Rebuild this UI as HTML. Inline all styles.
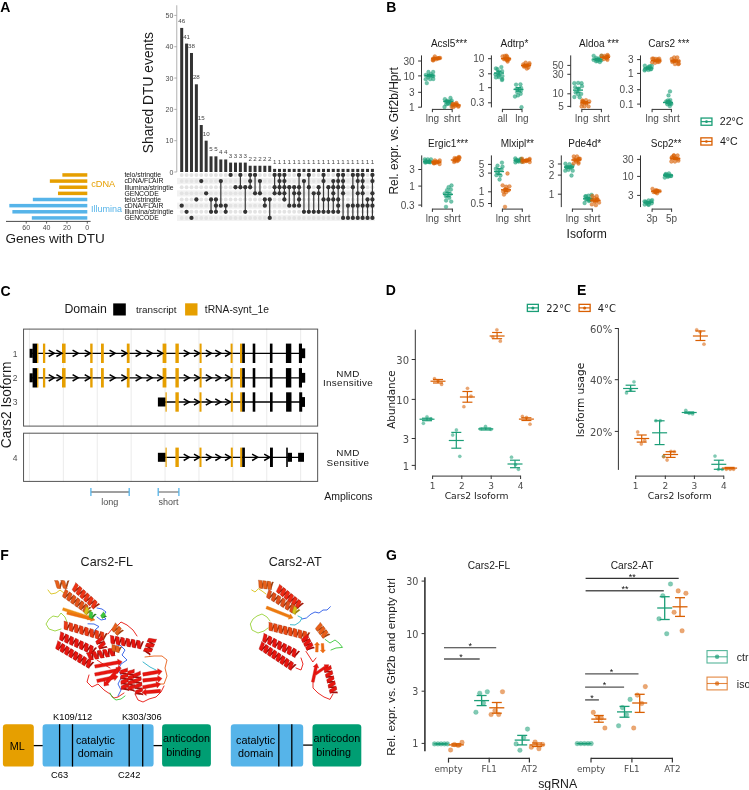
<!DOCTYPE html>
<html><head><meta charset="utf-8"><title>Figure</title>
<style>
html,body{margin:0;padding:0;background:#fff;}
body{width:749px;height:790px;overflow:hidden;}
svg{display:block;font-family:'Liberation Sans',Arial,sans-serif;}
</style></head><body>
<svg width="749" height="790" viewBox="0 0 749 790">
<rect width="749" height="790" fill="#fff"/>
<text x="0.3" y="11.8" text-anchor="start" fill="#000" style="font-size:14px;font-family:'Liberation Sans', Arial, sans-serif;font-weight:bold;">A</text>
<rect x="177" y="178.02" width="198" height="6.14" fill="#f2f2f2"/>
<rect x="177" y="190.3" width="198" height="6.14" fill="#f2f2f2"/>
<rect x="177" y="202.58" width="198" height="6.14" fill="#f2f2f2"/>
<rect x="177" y="214.86" width="198" height="6.14" fill="#f2f2f2"/>
<line x1="176.7" y1="5.2" x2="176.7" y2="172" stroke="#c4c4c4" stroke-width="1.3"/>
<line x1="174.3" y1="172" x2="176.7" y2="172" stroke="#9a9a9a" stroke-width="0.8"/>
<text x="173.4" y="174.5" text-anchor="end" fill="#4d4d4d" style="font-size:7px;font-family:'Liberation Sans', Arial, sans-serif;">0</text>
<line x1="174.3" y1="140.68" x2="176.7" y2="140.68" stroke="#9a9a9a" stroke-width="0.8"/>
<text x="173.4" y="143.18" text-anchor="end" fill="#4d4d4d" style="font-size:7px;font-family:'Liberation Sans', Arial, sans-serif;">10</text>
<line x1="174.3" y1="109.36" x2="176.7" y2="109.36" stroke="#9a9a9a" stroke-width="0.8"/>
<text x="173.4" y="111.86" text-anchor="end" fill="#4d4d4d" style="font-size:7px;font-family:'Liberation Sans', Arial, sans-serif;">20</text>
<line x1="174.3" y1="78.04" x2="176.7" y2="78.04" stroke="#9a9a9a" stroke-width="0.8"/>
<text x="173.4" y="80.54" text-anchor="end" fill="#4d4d4d" style="font-size:7px;font-family:'Liberation Sans', Arial, sans-serif;">30</text>
<line x1="174.3" y1="46.72" x2="176.7" y2="46.72" stroke="#9a9a9a" stroke-width="0.8"/>
<text x="173.4" y="49.22" text-anchor="end" fill="#4d4d4d" style="font-size:7px;font-family:'Liberation Sans', Arial, sans-serif;">40</text>
<line x1="174.3" y1="15.4" x2="176.7" y2="15.4" stroke="#9a9a9a" stroke-width="0.8"/>
<text x="173.4" y="17.9" text-anchor="end" fill="#4d4d4d" style="font-size:7px;font-family:'Liberation Sans', Arial, sans-serif;">50</text>
<rect x="180.2" y="27.93" width="3" height="144.07" fill="#333333"/>
<text x="181.7" y="22.93" text-anchor="middle" fill="#444" style="font-size:6.2px;font-family:'Liberation Sans', Arial, sans-serif;">46</text>
<rect x="185.09" y="43.59" width="3" height="128.41" fill="#333333"/>
<text x="186.59" y="38.59" text-anchor="middle" fill="#444" style="font-size:6.2px;font-family:'Liberation Sans', Arial, sans-serif;">41</text>
<rect x="189.98" y="52.98" width="3" height="119.02" fill="#333333"/>
<text x="191.48" y="47.98" text-anchor="middle" fill="#444" style="font-size:6.2px;font-family:'Liberation Sans', Arial, sans-serif;">38</text>
<rect x="194.87" y="84.3" width="3" height="87.7" fill="#333333"/>
<text x="196.37" y="79.3" text-anchor="middle" fill="#444" style="font-size:6.2px;font-family:'Liberation Sans', Arial, sans-serif;">28</text>
<rect x="199.76" y="125.02" width="3" height="46.98" fill="#333333"/>
<text x="201.26" y="120.02" text-anchor="middle" fill="#444" style="font-size:6.2px;font-family:'Liberation Sans', Arial, sans-serif;">15</text>
<rect x="204.65" y="140.68" width="3" height="31.32" fill="#333333"/>
<text x="206.15" y="135.68" text-anchor="middle" fill="#444" style="font-size:6.2px;font-family:'Liberation Sans', Arial, sans-serif;">10</text>
<rect x="209.54" y="156.34" width="3" height="15.66" fill="#333333"/>
<text x="211.04" y="151.34" text-anchor="middle" fill="#444" style="font-size:6.2px;font-family:'Liberation Sans', Arial, sans-serif;">5</text>
<rect x="214.43" y="156.34" width="3" height="15.66" fill="#333333"/>
<text x="215.93" y="151.34" text-anchor="middle" fill="#444" style="font-size:6.2px;font-family:'Liberation Sans', Arial, sans-serif;">5</text>
<rect x="219.32" y="159.47" width="3" height="12.53" fill="#333333"/>
<text x="220.82" y="154.47" text-anchor="middle" fill="#444" style="font-size:6.2px;font-family:'Liberation Sans', Arial, sans-serif;">4</text>
<rect x="224.21" y="159.47" width="3" height="12.53" fill="#333333"/>
<text x="225.71" y="154.47" text-anchor="middle" fill="#444" style="font-size:6.2px;font-family:'Liberation Sans', Arial, sans-serif;">4</text>
<rect x="229.1" y="162.6" width="3" height="9.4" fill="#333333"/>
<text x="230.6" y="157.6" text-anchor="middle" fill="#444" style="font-size:6.2px;font-family:'Liberation Sans', Arial, sans-serif;">3</text>
<rect x="233.99" y="162.6" width="3" height="9.4" fill="#333333"/>
<text x="235.49" y="157.6" text-anchor="middle" fill="#444" style="font-size:6.2px;font-family:'Liberation Sans', Arial, sans-serif;">3</text>
<rect x="238.88" y="162.6" width="3" height="9.4" fill="#333333"/>
<text x="240.38" y="157.6" text-anchor="middle" fill="#444" style="font-size:6.2px;font-family:'Liberation Sans', Arial, sans-serif;">3</text>
<rect x="243.77" y="162.6" width="3" height="9.4" fill="#333333"/>
<text x="245.27" y="157.6" text-anchor="middle" fill="#444" style="font-size:6.2px;font-family:'Liberation Sans', Arial, sans-serif;">3</text>
<rect x="248.66" y="165.74" width="3" height="6.26" fill="#333333"/>
<text x="250.16" y="160.74" text-anchor="middle" fill="#444" style="font-size:6.2px;font-family:'Liberation Sans', Arial, sans-serif;">2</text>
<rect x="253.55" y="165.74" width="3" height="6.26" fill="#333333"/>
<text x="255.05" y="160.74" text-anchor="middle" fill="#444" style="font-size:6.2px;font-family:'Liberation Sans', Arial, sans-serif;">2</text>
<rect x="258.44" y="165.74" width="3" height="6.26" fill="#333333"/>
<text x="259.94" y="160.74" text-anchor="middle" fill="#444" style="font-size:6.2px;font-family:'Liberation Sans', Arial, sans-serif;">2</text>
<rect x="263.33" y="165.74" width="3" height="6.26" fill="#333333"/>
<text x="264.83" y="160.74" text-anchor="middle" fill="#444" style="font-size:6.2px;font-family:'Liberation Sans', Arial, sans-serif;">2</text>
<rect x="268.22" y="165.74" width="3" height="6.26" fill="#333333"/>
<text x="269.72" y="160.74" text-anchor="middle" fill="#444" style="font-size:6.2px;font-family:'Liberation Sans', Arial, sans-serif;">2</text>
<rect x="273.11" y="168.87" width="3" height="3.13" fill="#333333"/>
<text x="274.61" y="163.87" text-anchor="middle" fill="#444" style="font-size:6.2px;font-family:'Liberation Sans', Arial, sans-serif;">1</text>
<rect x="278" y="168.87" width="3" height="3.13" fill="#333333"/>
<text x="279.5" y="163.87" text-anchor="middle" fill="#444" style="font-size:6.2px;font-family:'Liberation Sans', Arial, sans-serif;">1</text>
<rect x="282.89" y="168.87" width="3" height="3.13" fill="#333333"/>
<text x="284.39" y="163.87" text-anchor="middle" fill="#444" style="font-size:6.2px;font-family:'Liberation Sans', Arial, sans-serif;">1</text>
<rect x="287.78" y="168.87" width="3" height="3.13" fill="#333333"/>
<text x="289.28" y="163.87" text-anchor="middle" fill="#444" style="font-size:6.2px;font-family:'Liberation Sans', Arial, sans-serif;">1</text>
<rect x="292.67" y="168.87" width="3" height="3.13" fill="#333333"/>
<text x="294.17" y="163.87" text-anchor="middle" fill="#444" style="font-size:6.2px;font-family:'Liberation Sans', Arial, sans-serif;">1</text>
<rect x="297.56" y="168.87" width="3" height="3.13" fill="#333333"/>
<text x="299.06" y="163.87" text-anchor="middle" fill="#444" style="font-size:6.2px;font-family:'Liberation Sans', Arial, sans-serif;">1</text>
<rect x="302.45" y="168.87" width="3" height="3.13" fill="#333333"/>
<text x="303.95" y="163.87" text-anchor="middle" fill="#444" style="font-size:6.2px;font-family:'Liberation Sans', Arial, sans-serif;">1</text>
<rect x="307.34" y="168.87" width="3" height="3.13" fill="#333333"/>
<text x="308.84" y="163.87" text-anchor="middle" fill="#444" style="font-size:6.2px;font-family:'Liberation Sans', Arial, sans-serif;">1</text>
<rect x="312.23" y="168.87" width="3" height="3.13" fill="#333333"/>
<text x="313.73" y="163.87" text-anchor="middle" fill="#444" style="font-size:6.2px;font-family:'Liberation Sans', Arial, sans-serif;">1</text>
<rect x="317.12" y="168.87" width="3" height="3.13" fill="#333333"/>
<text x="318.62" y="163.87" text-anchor="middle" fill="#444" style="font-size:6.2px;font-family:'Liberation Sans', Arial, sans-serif;">1</text>
<rect x="322.01" y="168.87" width="3" height="3.13" fill="#333333"/>
<text x="323.51" y="163.87" text-anchor="middle" fill="#444" style="font-size:6.2px;font-family:'Liberation Sans', Arial, sans-serif;">1</text>
<rect x="326.9" y="168.87" width="3" height="3.13" fill="#333333"/>
<text x="328.4" y="163.87" text-anchor="middle" fill="#444" style="font-size:6.2px;font-family:'Liberation Sans', Arial, sans-serif;">1</text>
<rect x="331.79" y="168.87" width="3" height="3.13" fill="#333333"/>
<text x="333.29" y="163.87" text-anchor="middle" fill="#444" style="font-size:6.2px;font-family:'Liberation Sans', Arial, sans-serif;">1</text>
<rect x="336.68" y="168.87" width="3" height="3.13" fill="#333333"/>
<text x="338.18" y="163.87" text-anchor="middle" fill="#444" style="font-size:6.2px;font-family:'Liberation Sans', Arial, sans-serif;">1</text>
<rect x="341.57" y="168.87" width="3" height="3.13" fill="#333333"/>
<text x="343.07" y="163.87" text-anchor="middle" fill="#444" style="font-size:6.2px;font-family:'Liberation Sans', Arial, sans-serif;">1</text>
<rect x="346.46" y="168.87" width="3" height="3.13" fill="#333333"/>
<text x="347.96" y="163.87" text-anchor="middle" fill="#444" style="font-size:6.2px;font-family:'Liberation Sans', Arial, sans-serif;">1</text>
<rect x="351.35" y="168.87" width="3" height="3.13" fill="#333333"/>
<text x="352.85" y="163.87" text-anchor="middle" fill="#444" style="font-size:6.2px;font-family:'Liberation Sans', Arial, sans-serif;">1</text>
<rect x="356.24" y="168.87" width="3" height="3.13" fill="#333333"/>
<text x="357.74" y="163.87" text-anchor="middle" fill="#444" style="font-size:6.2px;font-family:'Liberation Sans', Arial, sans-serif;">1</text>
<rect x="361.13" y="168.87" width="3" height="3.13" fill="#333333"/>
<text x="362.63" y="163.87" text-anchor="middle" fill="#444" style="font-size:6.2px;font-family:'Liberation Sans', Arial, sans-serif;">1</text>
<rect x="366.02" y="168.87" width="3" height="3.13" fill="#333333"/>
<text x="367.52" y="163.87" text-anchor="middle" fill="#444" style="font-size:6.2px;font-family:'Liberation Sans', Arial, sans-serif;">1</text>
<rect x="370.91" y="168.87" width="3" height="3.13" fill="#333333"/>
<text x="372.41" y="163.87" text-anchor="middle" fill="#444" style="font-size:6.2px;font-family:'Liberation Sans', Arial, sans-serif;">1</text>
<circle cx="181.7" cy="174.95" r="1.95" fill="#e3e3e3"/>
<circle cx="181.7" cy="181.09" r="1.95" fill="#e3e3e3"/>
<circle cx="181.7" cy="187.23" r="1.95" fill="#e3e3e3"/>
<circle cx="181.7" cy="193.37" r="1.95" fill="#e3e3e3"/>
<circle cx="181.7" cy="199.51" r="1.95" fill="#e3e3e3"/>
<circle cx="181.7" cy="211.79" r="1.95" fill="#e3e3e3"/>
<circle cx="181.7" cy="217.93" r="1.95" fill="#e3e3e3"/>
<circle cx="186.59" cy="174.95" r="1.95" fill="#e3e3e3"/>
<circle cx="186.59" cy="181.09" r="1.95" fill="#e3e3e3"/>
<circle cx="186.59" cy="187.23" r="1.95" fill="#e3e3e3"/>
<circle cx="186.59" cy="193.37" r="1.95" fill="#e3e3e3"/>
<circle cx="186.59" cy="199.51" r="1.95" fill="#e3e3e3"/>
<circle cx="186.59" cy="205.65" r="1.95" fill="#e3e3e3"/>
<circle cx="186.59" cy="217.93" r="1.95" fill="#e3e3e3"/>
<circle cx="191.48" cy="174.95" r="1.95" fill="#e3e3e3"/>
<circle cx="191.48" cy="181.09" r="1.95" fill="#e3e3e3"/>
<circle cx="191.48" cy="187.23" r="1.95" fill="#e3e3e3"/>
<circle cx="191.48" cy="193.37" r="1.95" fill="#e3e3e3"/>
<circle cx="191.48" cy="199.51" r="1.95" fill="#e3e3e3"/>
<circle cx="191.48" cy="205.65" r="1.95" fill="#e3e3e3"/>
<circle cx="191.48" cy="211.79" r="1.95" fill="#e3e3e3"/>
<circle cx="196.37" cy="174.95" r="1.95" fill="#e3e3e3"/>
<circle cx="196.37" cy="181.09" r="1.95" fill="#e3e3e3"/>
<circle cx="196.37" cy="187.23" r="1.95" fill="#e3e3e3"/>
<circle cx="196.37" cy="193.37" r="1.95" fill="#e3e3e3"/>
<circle cx="196.37" cy="205.65" r="1.95" fill="#e3e3e3"/>
<circle cx="196.37" cy="211.79" r="1.95" fill="#e3e3e3"/>
<circle cx="196.37" cy="217.93" r="1.95" fill="#e3e3e3"/>
<circle cx="201.26" cy="174.95" r="1.95" fill="#e3e3e3"/>
<circle cx="201.26" cy="187.23" r="1.95" fill="#e3e3e3"/>
<circle cx="201.26" cy="193.37" r="1.95" fill="#e3e3e3"/>
<circle cx="201.26" cy="199.51" r="1.95" fill="#e3e3e3"/>
<circle cx="201.26" cy="205.65" r="1.95" fill="#e3e3e3"/>
<circle cx="201.26" cy="211.79" r="1.95" fill="#e3e3e3"/>
<circle cx="201.26" cy="217.93" r="1.95" fill="#e3e3e3"/>
<circle cx="206.15" cy="174.95" r="1.95" fill="#e3e3e3"/>
<circle cx="206.15" cy="181.09" r="1.95" fill="#e3e3e3"/>
<circle cx="206.15" cy="187.23" r="1.95" fill="#e3e3e3"/>
<circle cx="206.15" cy="199.51" r="1.95" fill="#e3e3e3"/>
<circle cx="206.15" cy="205.65" r="1.95" fill="#e3e3e3"/>
<circle cx="206.15" cy="211.79" r="1.95" fill="#e3e3e3"/>
<circle cx="206.15" cy="217.93" r="1.95" fill="#e3e3e3"/>
<circle cx="211.04" cy="174.95" r="1.95" fill="#e3e3e3"/>
<circle cx="211.04" cy="181.09" r="1.95" fill="#e3e3e3"/>
<circle cx="211.04" cy="187.23" r="1.95" fill="#e3e3e3"/>
<circle cx="211.04" cy="193.37" r="1.95" fill="#e3e3e3"/>
<circle cx="211.04" cy="205.65" r="1.95" fill="#e3e3e3"/>
<circle cx="211.04" cy="217.93" r="1.95" fill="#e3e3e3"/>
<circle cx="215.93" cy="174.95" r="1.95" fill="#e3e3e3"/>
<circle cx="215.93" cy="181.09" r="1.95" fill="#e3e3e3"/>
<circle cx="215.93" cy="187.23" r="1.95" fill="#e3e3e3"/>
<circle cx="215.93" cy="193.37" r="1.95" fill="#e3e3e3"/>
<circle cx="215.93" cy="217.93" r="1.95" fill="#e3e3e3"/>
<circle cx="220.82" cy="174.95" r="1.95" fill="#e3e3e3"/>
<circle cx="220.82" cy="187.23" r="1.95" fill="#e3e3e3"/>
<circle cx="220.82" cy="193.37" r="1.95" fill="#e3e3e3"/>
<circle cx="220.82" cy="199.51" r="1.95" fill="#e3e3e3"/>
<circle cx="220.82" cy="211.79" r="1.95" fill="#e3e3e3"/>
<circle cx="220.82" cy="217.93" r="1.95" fill="#e3e3e3"/>
<circle cx="225.71" cy="174.95" r="1.95" fill="#e3e3e3"/>
<circle cx="225.71" cy="181.09" r="1.95" fill="#e3e3e3"/>
<circle cx="225.71" cy="187.23" r="1.95" fill="#e3e3e3"/>
<circle cx="225.71" cy="193.37" r="1.95" fill="#e3e3e3"/>
<circle cx="225.71" cy="199.51" r="1.95" fill="#e3e3e3"/>
<circle cx="225.71" cy="217.93" r="1.95" fill="#e3e3e3"/>
<circle cx="230.6" cy="181.09" r="1.95" fill="#e3e3e3"/>
<circle cx="230.6" cy="187.23" r="1.95" fill="#e3e3e3"/>
<circle cx="230.6" cy="193.37" r="1.95" fill="#e3e3e3"/>
<circle cx="230.6" cy="199.51" r="1.95" fill="#e3e3e3"/>
<circle cx="230.6" cy="205.65" r="1.95" fill="#e3e3e3"/>
<circle cx="230.6" cy="211.79" r="1.95" fill="#e3e3e3"/>
<circle cx="230.6" cy="217.93" r="1.95" fill="#e3e3e3"/>
<circle cx="235.49" cy="174.95" r="1.95" fill="#e3e3e3"/>
<circle cx="235.49" cy="181.09" r="1.95" fill="#e3e3e3"/>
<circle cx="235.49" cy="193.37" r="1.95" fill="#e3e3e3"/>
<circle cx="235.49" cy="199.51" r="1.95" fill="#e3e3e3"/>
<circle cx="235.49" cy="205.65" r="1.95" fill="#e3e3e3"/>
<circle cx="235.49" cy="211.79" r="1.95" fill="#e3e3e3"/>
<circle cx="235.49" cy="217.93" r="1.95" fill="#e3e3e3"/>
<circle cx="240.38" cy="181.09" r="1.95" fill="#e3e3e3"/>
<circle cx="240.38" cy="193.37" r="1.95" fill="#e3e3e3"/>
<circle cx="240.38" cy="199.51" r="1.95" fill="#e3e3e3"/>
<circle cx="240.38" cy="205.65" r="1.95" fill="#e3e3e3"/>
<circle cx="240.38" cy="211.79" r="1.95" fill="#e3e3e3"/>
<circle cx="240.38" cy="217.93" r="1.95" fill="#e3e3e3"/>
<circle cx="245.27" cy="174.95" r="1.95" fill="#e3e3e3"/>
<circle cx="245.27" cy="181.09" r="1.95" fill="#e3e3e3"/>
<circle cx="245.27" cy="193.37" r="1.95" fill="#e3e3e3"/>
<circle cx="245.27" cy="199.51" r="1.95" fill="#e3e3e3"/>
<circle cx="245.27" cy="205.65" r="1.95" fill="#e3e3e3"/>
<circle cx="245.27" cy="217.93" r="1.95" fill="#e3e3e3"/>
<circle cx="250.16" cy="193.37" r="1.95" fill="#e3e3e3"/>
<circle cx="250.16" cy="199.51" r="1.95" fill="#e3e3e3"/>
<circle cx="250.16" cy="205.65" r="1.95" fill="#e3e3e3"/>
<circle cx="250.16" cy="211.79" r="1.95" fill="#e3e3e3"/>
<circle cx="250.16" cy="217.93" r="1.95" fill="#e3e3e3"/>
<circle cx="255.05" cy="181.09" r="1.95" fill="#e3e3e3"/>
<circle cx="255.05" cy="187.23" r="1.95" fill="#e3e3e3"/>
<circle cx="255.05" cy="199.51" r="1.95" fill="#e3e3e3"/>
<circle cx="255.05" cy="205.65" r="1.95" fill="#e3e3e3"/>
<circle cx="255.05" cy="211.79" r="1.95" fill="#e3e3e3"/>
<circle cx="255.05" cy="217.93" r="1.95" fill="#e3e3e3"/>
<circle cx="259.94" cy="174.95" r="1.95" fill="#e3e3e3"/>
<circle cx="259.94" cy="187.23" r="1.95" fill="#e3e3e3"/>
<circle cx="259.94" cy="199.51" r="1.95" fill="#e3e3e3"/>
<circle cx="259.94" cy="205.65" r="1.95" fill="#e3e3e3"/>
<circle cx="259.94" cy="211.79" r="1.95" fill="#e3e3e3"/>
<circle cx="259.94" cy="217.93" r="1.95" fill="#e3e3e3"/>
<circle cx="264.83" cy="174.95" r="1.95" fill="#e3e3e3"/>
<circle cx="264.83" cy="181.09" r="1.95" fill="#e3e3e3"/>
<circle cx="264.83" cy="187.23" r="1.95" fill="#e3e3e3"/>
<circle cx="264.83" cy="193.37" r="1.95" fill="#e3e3e3"/>
<circle cx="264.83" cy="211.79" r="1.95" fill="#e3e3e3"/>
<circle cx="264.83" cy="217.93" r="1.95" fill="#e3e3e3"/>
<circle cx="269.72" cy="174.95" r="1.95" fill="#e3e3e3"/>
<circle cx="269.72" cy="181.09" r="1.95" fill="#e3e3e3"/>
<circle cx="269.72" cy="187.23" r="1.95" fill="#e3e3e3"/>
<circle cx="269.72" cy="193.37" r="1.95" fill="#e3e3e3"/>
<circle cx="269.72" cy="205.65" r="1.95" fill="#e3e3e3"/>
<circle cx="269.72" cy="211.79" r="1.95" fill="#e3e3e3"/>
<circle cx="274.61" cy="181.09" r="1.95" fill="#e3e3e3"/>
<circle cx="274.61" cy="199.51" r="1.95" fill="#e3e3e3"/>
<circle cx="274.61" cy="205.65" r="1.95" fill="#e3e3e3"/>
<circle cx="274.61" cy="211.79" r="1.95" fill="#e3e3e3"/>
<circle cx="274.61" cy="217.93" r="1.95" fill="#e3e3e3"/>
<circle cx="279.5" cy="199.51" r="1.95" fill="#e3e3e3"/>
<circle cx="279.5" cy="205.65" r="1.95" fill="#e3e3e3"/>
<circle cx="279.5" cy="211.79" r="1.95" fill="#e3e3e3"/>
<circle cx="279.5" cy="217.93" r="1.95" fill="#e3e3e3"/>
<circle cx="284.39" cy="205.65" r="1.95" fill="#e3e3e3"/>
<circle cx="284.39" cy="211.79" r="1.95" fill="#e3e3e3"/>
<circle cx="284.39" cy="217.93" r="1.95" fill="#e3e3e3"/>
<circle cx="289.28" cy="174.95" r="1.95" fill="#e3e3e3"/>
<circle cx="289.28" cy="181.09" r="1.95" fill="#e3e3e3"/>
<circle cx="289.28" cy="193.37" r="1.95" fill="#e3e3e3"/>
<circle cx="289.28" cy="199.51" r="1.95" fill="#e3e3e3"/>
<circle cx="289.28" cy="211.79" r="1.95" fill="#e3e3e3"/>
<circle cx="289.28" cy="217.93" r="1.95" fill="#e3e3e3"/>
<circle cx="294.17" cy="174.95" r="1.95" fill="#e3e3e3"/>
<circle cx="294.17" cy="181.09" r="1.95" fill="#e3e3e3"/>
<circle cx="294.17" cy="199.51" r="1.95" fill="#e3e3e3"/>
<circle cx="294.17" cy="211.79" r="1.95" fill="#e3e3e3"/>
<circle cx="294.17" cy="217.93" r="1.95" fill="#e3e3e3"/>
<circle cx="299.06" cy="181.09" r="1.95" fill="#e3e3e3"/>
<circle cx="299.06" cy="211.79" r="1.95" fill="#e3e3e3"/>
<circle cx="299.06" cy="217.93" r="1.95" fill="#e3e3e3"/>
<circle cx="303.95" cy="174.95" r="1.95" fill="#e3e3e3"/>
<circle cx="303.95" cy="187.23" r="1.95" fill="#e3e3e3"/>
<circle cx="303.95" cy="193.37" r="1.95" fill="#e3e3e3"/>
<circle cx="303.95" cy="199.51" r="1.95" fill="#e3e3e3"/>
<circle cx="303.95" cy="205.65" r="1.95" fill="#e3e3e3"/>
<circle cx="303.95" cy="217.93" r="1.95" fill="#e3e3e3"/>
<circle cx="308.84" cy="181.09" r="1.95" fill="#e3e3e3"/>
<circle cx="308.84" cy="193.37" r="1.95" fill="#e3e3e3"/>
<circle cx="308.84" cy="199.51" r="1.95" fill="#e3e3e3"/>
<circle cx="308.84" cy="205.65" r="1.95" fill="#e3e3e3"/>
<circle cx="308.84" cy="217.93" r="1.95" fill="#e3e3e3"/>
<circle cx="313.73" cy="174.95" r="1.95" fill="#e3e3e3"/>
<circle cx="313.73" cy="181.09" r="1.95" fill="#e3e3e3"/>
<circle cx="313.73" cy="187.23" r="1.95" fill="#e3e3e3"/>
<circle cx="313.73" cy="199.51" r="1.95" fill="#e3e3e3"/>
<circle cx="313.73" cy="205.65" r="1.95" fill="#e3e3e3"/>
<circle cx="313.73" cy="217.93" r="1.95" fill="#e3e3e3"/>
<circle cx="318.62" cy="174.95" r="1.95" fill="#e3e3e3"/>
<circle cx="318.62" cy="181.09" r="1.95" fill="#e3e3e3"/>
<circle cx="318.62" cy="199.51" r="1.95" fill="#e3e3e3"/>
<circle cx="318.62" cy="205.65" r="1.95" fill="#e3e3e3"/>
<circle cx="318.62" cy="217.93" r="1.95" fill="#e3e3e3"/>
<circle cx="323.51" cy="187.23" r="1.95" fill="#e3e3e3"/>
<circle cx="323.51" cy="193.37" r="1.95" fill="#e3e3e3"/>
<circle cx="323.51" cy="205.65" r="1.95" fill="#e3e3e3"/>
<circle cx="323.51" cy="217.93" r="1.95" fill="#e3e3e3"/>
<circle cx="328.4" cy="174.95" r="1.95" fill="#e3e3e3"/>
<circle cx="328.4" cy="181.09" r="1.95" fill="#e3e3e3"/>
<circle cx="328.4" cy="193.37" r="1.95" fill="#e3e3e3"/>
<circle cx="328.4" cy="205.65" r="1.95" fill="#e3e3e3"/>
<circle cx="328.4" cy="217.93" r="1.95" fill="#e3e3e3"/>
<circle cx="333.29" cy="174.95" r="1.95" fill="#e3e3e3"/>
<circle cx="333.29" cy="205.65" r="1.95" fill="#e3e3e3"/>
<circle cx="333.29" cy="217.93" r="1.95" fill="#e3e3e3"/>
<circle cx="338.18" cy="193.37" r="1.95" fill="#e3e3e3"/>
<circle cx="338.18" cy="217.93" r="1.95" fill="#e3e3e3"/>
<circle cx="343.07" cy="199.51" r="1.95" fill="#e3e3e3"/>
<circle cx="343.07" cy="205.65" r="1.95" fill="#e3e3e3"/>
<circle cx="343.07" cy="211.79" r="1.95" fill="#e3e3e3"/>
<circle cx="347.96" cy="174.95" r="1.95" fill="#e3e3e3"/>
<circle cx="347.96" cy="181.09" r="1.95" fill="#e3e3e3"/>
<circle cx="347.96" cy="187.23" r="1.95" fill="#e3e3e3"/>
<circle cx="347.96" cy="193.37" r="1.95" fill="#e3e3e3"/>
<circle cx="347.96" cy="199.51" r="1.95" fill="#e3e3e3"/>
<circle cx="347.96" cy="211.79" r="1.95" fill="#e3e3e3"/>
<circle cx="352.85" cy="181.09" r="1.95" fill="#e3e3e3"/>
<circle cx="352.85" cy="193.37" r="1.95" fill="#e3e3e3"/>
<circle cx="352.85" cy="199.51" r="1.95" fill="#e3e3e3"/>
<circle cx="352.85" cy="211.79" r="1.95" fill="#e3e3e3"/>
<circle cx="357.74" cy="187.23" r="1.95" fill="#e3e3e3"/>
<circle cx="357.74" cy="199.51" r="1.95" fill="#e3e3e3"/>
<circle cx="357.74" cy="211.79" r="1.95" fill="#e3e3e3"/>
<circle cx="362.63" cy="199.51" r="1.95" fill="#e3e3e3"/>
<circle cx="362.63" cy="211.79" r="1.95" fill="#e3e3e3"/>
<circle cx="367.52" cy="174.95" r="1.95" fill="#e3e3e3"/>
<circle cx="367.52" cy="181.09" r="1.95" fill="#e3e3e3"/>
<circle cx="367.52" cy="187.23" r="1.95" fill="#e3e3e3"/>
<circle cx="367.52" cy="193.37" r="1.95" fill="#e3e3e3"/>
<circle cx="367.52" cy="211.79" r="1.95" fill="#e3e3e3"/>
<circle cx="372.41" cy="187.23" r="1.95" fill="#e3e3e3"/>
<circle cx="372.41" cy="211.79" r="1.95" fill="#e3e3e3"/>
<circle cx="181.7" cy="205.65" r="2.15" fill="#333333"/>
<circle cx="186.59" cy="211.79" r="2.15" fill="#333333"/>
<circle cx="191.48" cy="217.93" r="2.15" fill="#333333"/>
<circle cx="196.37" cy="199.51" r="2.15" fill="#333333"/>
<circle cx="201.26" cy="181.09" r="2.15" fill="#333333"/>
<circle cx="206.15" cy="193.37" r="2.15" fill="#333333"/>
<line x1="211.04" y1="199.51" x2="211.04" y2="211.79" stroke="#3a3a3a" stroke-width="1.2"/>
<circle cx="211.04" cy="199.51" r="2.15" fill="#333333"/>
<circle cx="211.04" cy="211.79" r="2.15" fill="#333333"/>
<line x1="215.93" y1="199.51" x2="215.93" y2="211.79" stroke="#3a3a3a" stroke-width="1.2"/>
<circle cx="215.93" cy="199.51" r="2.15" fill="#333333"/>
<circle cx="215.93" cy="205.65" r="2.15" fill="#333333"/>
<circle cx="215.93" cy="211.79" r="2.15" fill="#333333"/>
<line x1="220.82" y1="181.09" x2="220.82" y2="205.65" stroke="#3a3a3a" stroke-width="1.2"/>
<circle cx="220.82" cy="181.09" r="2.15" fill="#333333"/>
<circle cx="220.82" cy="205.65" r="2.15" fill="#333333"/>
<line x1="225.71" y1="205.65" x2="225.71" y2="211.79" stroke="#3a3a3a" stroke-width="1.2"/>
<circle cx="225.71" cy="205.65" r="2.15" fill="#333333"/>
<circle cx="225.71" cy="211.79" r="2.15" fill="#333333"/>
<circle cx="230.6" cy="174.95" r="2.15" fill="#333333"/>
<circle cx="235.49" cy="187.23" r="2.15" fill="#333333"/>
<line x1="240.38" y1="174.95" x2="240.38" y2="187.23" stroke="#3a3a3a" stroke-width="1.2"/>
<circle cx="240.38" cy="174.95" r="2.15" fill="#333333"/>
<circle cx="240.38" cy="187.23" r="2.15" fill="#333333"/>
<line x1="245.27" y1="187.23" x2="245.27" y2="211.79" stroke="#3a3a3a" stroke-width="1.2"/>
<circle cx="245.27" cy="187.23" r="2.15" fill="#333333"/>
<circle cx="245.27" cy="211.79" r="2.15" fill="#333333"/>
<line x1="250.16" y1="174.95" x2="250.16" y2="187.23" stroke="#3a3a3a" stroke-width="1.2"/>
<circle cx="250.16" cy="174.95" r="2.15" fill="#333333"/>
<circle cx="250.16" cy="181.09" r="2.15" fill="#333333"/>
<circle cx="250.16" cy="187.23" r="2.15" fill="#333333"/>
<line x1="255.05" y1="174.95" x2="255.05" y2="193.37" stroke="#3a3a3a" stroke-width="1.2"/>
<circle cx="255.05" cy="174.95" r="2.15" fill="#333333"/>
<circle cx="255.05" cy="193.37" r="2.15" fill="#333333"/>
<line x1="259.94" y1="181.09" x2="259.94" y2="193.37" stroke="#3a3a3a" stroke-width="1.2"/>
<circle cx="259.94" cy="181.09" r="2.15" fill="#333333"/>
<circle cx="259.94" cy="193.37" r="2.15" fill="#333333"/>
<line x1="264.83" y1="199.51" x2="264.83" y2="205.65" stroke="#3a3a3a" stroke-width="1.2"/>
<circle cx="264.83" cy="199.51" r="2.15" fill="#333333"/>
<circle cx="264.83" cy="205.65" r="2.15" fill="#333333"/>
<line x1="269.72" y1="199.51" x2="269.72" y2="217.93" stroke="#3a3a3a" stroke-width="1.2"/>
<circle cx="269.72" cy="199.51" r="2.15" fill="#333333"/>
<circle cx="269.72" cy="217.93" r="2.15" fill="#333333"/>
<line x1="274.61" y1="174.95" x2="274.61" y2="193.37" stroke="#3a3a3a" stroke-width="1.2"/>
<circle cx="274.61" cy="174.95" r="2.15" fill="#333333"/>
<circle cx="274.61" cy="187.23" r="2.15" fill="#333333"/>
<circle cx="274.61" cy="193.37" r="2.15" fill="#333333"/>
<line x1="279.5" y1="174.95" x2="279.5" y2="193.37" stroke="#3a3a3a" stroke-width="1.2"/>
<circle cx="279.5" cy="174.95" r="2.15" fill="#333333"/>
<circle cx="279.5" cy="181.09" r="2.15" fill="#333333"/>
<circle cx="279.5" cy="187.23" r="2.15" fill="#333333"/>
<circle cx="279.5" cy="193.37" r="2.15" fill="#333333"/>
<line x1="284.39" y1="174.95" x2="284.39" y2="199.51" stroke="#3a3a3a" stroke-width="1.2"/>
<circle cx="284.39" cy="174.95" r="2.15" fill="#333333"/>
<circle cx="284.39" cy="181.09" r="2.15" fill="#333333"/>
<circle cx="284.39" cy="187.23" r="2.15" fill="#333333"/>
<circle cx="284.39" cy="193.37" r="2.15" fill="#333333"/>
<circle cx="284.39" cy="199.51" r="2.15" fill="#333333"/>
<line x1="289.28" y1="187.23" x2="289.28" y2="205.65" stroke="#3a3a3a" stroke-width="1.2"/>
<circle cx="289.28" cy="187.23" r="2.15" fill="#333333"/>
<circle cx="289.28" cy="205.65" r="2.15" fill="#333333"/>
<line x1="294.17" y1="187.23" x2="294.17" y2="205.65" stroke="#3a3a3a" stroke-width="1.2"/>
<circle cx="294.17" cy="187.23" r="2.15" fill="#333333"/>
<circle cx="294.17" cy="193.37" r="2.15" fill="#333333"/>
<circle cx="294.17" cy="205.65" r="2.15" fill="#333333"/>
<line x1="299.06" y1="174.95" x2="299.06" y2="205.65" stroke="#3a3a3a" stroke-width="1.2"/>
<circle cx="299.06" cy="174.95" r="2.15" fill="#333333"/>
<circle cx="299.06" cy="187.23" r="2.15" fill="#333333"/>
<circle cx="299.06" cy="193.37" r="2.15" fill="#333333"/>
<circle cx="299.06" cy="199.51" r="2.15" fill="#333333"/>
<circle cx="299.06" cy="205.65" r="2.15" fill="#333333"/>
<line x1="303.95" y1="181.09" x2="303.95" y2="211.79" stroke="#3a3a3a" stroke-width="1.2"/>
<circle cx="303.95" cy="181.09" r="2.15" fill="#333333"/>
<circle cx="303.95" cy="211.79" r="2.15" fill="#333333"/>
<line x1="308.84" y1="174.95" x2="308.84" y2="211.79" stroke="#3a3a3a" stroke-width="1.2"/>
<circle cx="308.84" cy="174.95" r="2.15" fill="#333333"/>
<circle cx="308.84" cy="187.23" r="2.15" fill="#333333"/>
<circle cx="308.84" cy="211.79" r="2.15" fill="#333333"/>
<line x1="313.73" y1="193.37" x2="313.73" y2="211.79" stroke="#3a3a3a" stroke-width="1.2"/>
<circle cx="313.73" cy="193.37" r="2.15" fill="#333333"/>
<circle cx="313.73" cy="211.79" r="2.15" fill="#333333"/>
<line x1="318.62" y1="187.23" x2="318.62" y2="211.79" stroke="#3a3a3a" stroke-width="1.2"/>
<circle cx="318.62" cy="187.23" r="2.15" fill="#333333"/>
<circle cx="318.62" cy="193.37" r="2.15" fill="#333333"/>
<circle cx="318.62" cy="211.79" r="2.15" fill="#333333"/>
<line x1="323.51" y1="174.95" x2="323.51" y2="211.79" stroke="#3a3a3a" stroke-width="1.2"/>
<circle cx="323.51" cy="174.95" r="2.15" fill="#333333"/>
<circle cx="323.51" cy="181.09" r="2.15" fill="#333333"/>
<circle cx="323.51" cy="199.51" r="2.15" fill="#333333"/>
<circle cx="323.51" cy="211.79" r="2.15" fill="#333333"/>
<line x1="328.4" y1="187.23" x2="328.4" y2="211.79" stroke="#3a3a3a" stroke-width="1.2"/>
<circle cx="328.4" cy="187.23" r="2.15" fill="#333333"/>
<circle cx="328.4" cy="199.51" r="2.15" fill="#333333"/>
<circle cx="328.4" cy="211.79" r="2.15" fill="#333333"/>
<line x1="333.29" y1="181.09" x2="333.29" y2="211.79" stroke="#3a3a3a" stroke-width="1.2"/>
<circle cx="333.29" cy="181.09" r="2.15" fill="#333333"/>
<circle cx="333.29" cy="187.23" r="2.15" fill="#333333"/>
<circle cx="333.29" cy="193.37" r="2.15" fill="#333333"/>
<circle cx="333.29" cy="199.51" r="2.15" fill="#333333"/>
<circle cx="333.29" cy="211.79" r="2.15" fill="#333333"/>
<line x1="338.18" y1="174.95" x2="338.18" y2="211.79" stroke="#3a3a3a" stroke-width="1.2"/>
<circle cx="338.18" cy="174.95" r="2.15" fill="#333333"/>
<circle cx="338.18" cy="181.09" r="2.15" fill="#333333"/>
<circle cx="338.18" cy="187.23" r="2.15" fill="#333333"/>
<circle cx="338.18" cy="199.51" r="2.15" fill="#333333"/>
<circle cx="338.18" cy="205.65" r="2.15" fill="#333333"/>
<circle cx="338.18" cy="211.79" r="2.15" fill="#333333"/>
<line x1="343.07" y1="174.95" x2="343.07" y2="217.93" stroke="#3a3a3a" stroke-width="1.2"/>
<circle cx="343.07" cy="174.95" r="2.15" fill="#333333"/>
<circle cx="343.07" cy="181.09" r="2.15" fill="#333333"/>
<circle cx="343.07" cy="187.23" r="2.15" fill="#333333"/>
<circle cx="343.07" cy="193.37" r="2.15" fill="#333333"/>
<circle cx="343.07" cy="217.93" r="2.15" fill="#333333"/>
<line x1="347.96" y1="205.65" x2="347.96" y2="217.93" stroke="#3a3a3a" stroke-width="1.2"/>
<circle cx="347.96" cy="205.65" r="2.15" fill="#333333"/>
<circle cx="347.96" cy="217.93" r="2.15" fill="#333333"/>
<line x1="352.85" y1="174.95" x2="352.85" y2="217.93" stroke="#3a3a3a" stroke-width="1.2"/>
<circle cx="352.85" cy="174.95" r="2.15" fill="#333333"/>
<circle cx="352.85" cy="187.23" r="2.15" fill="#333333"/>
<circle cx="352.85" cy="205.65" r="2.15" fill="#333333"/>
<circle cx="352.85" cy="217.93" r="2.15" fill="#333333"/>
<line x1="357.74" y1="174.95" x2="357.74" y2="217.93" stroke="#3a3a3a" stroke-width="1.2"/>
<circle cx="357.74" cy="174.95" r="2.15" fill="#333333"/>
<circle cx="357.74" cy="181.09" r="2.15" fill="#333333"/>
<circle cx="357.74" cy="193.37" r="2.15" fill="#333333"/>
<circle cx="357.74" cy="205.65" r="2.15" fill="#333333"/>
<circle cx="357.74" cy="217.93" r="2.15" fill="#333333"/>
<line x1="362.63" y1="174.95" x2="362.63" y2="217.93" stroke="#3a3a3a" stroke-width="1.2"/>
<circle cx="362.63" cy="174.95" r="2.15" fill="#333333"/>
<circle cx="362.63" cy="181.09" r="2.15" fill="#333333"/>
<circle cx="362.63" cy="187.23" r="2.15" fill="#333333"/>
<circle cx="362.63" cy="193.37" r="2.15" fill="#333333"/>
<circle cx="362.63" cy="205.65" r="2.15" fill="#333333"/>
<circle cx="362.63" cy="217.93" r="2.15" fill="#333333"/>
<line x1="367.52" y1="199.51" x2="367.52" y2="217.93" stroke="#3a3a3a" stroke-width="1.2"/>
<circle cx="367.52" cy="199.51" r="2.15" fill="#333333"/>
<circle cx="367.52" cy="205.65" r="2.15" fill="#333333"/>
<circle cx="367.52" cy="217.93" r="2.15" fill="#333333"/>
<line x1="372.41" y1="174.95" x2="372.41" y2="217.93" stroke="#3a3a3a" stroke-width="1.2"/>
<circle cx="372.41" cy="174.95" r="2.15" fill="#333333"/>
<circle cx="372.41" cy="181.09" r="2.15" fill="#333333"/>
<circle cx="372.41" cy="193.37" r="2.15" fill="#333333"/>
<circle cx="372.41" cy="199.51" r="2.15" fill="#333333"/>
<circle cx="372.41" cy="205.65" r="2.15" fill="#333333"/>
<circle cx="372.41" cy="217.93" r="2.15" fill="#333333"/>
<text x="124.4" y="177.35" text-anchor="start" fill="#111" style="font-size:6.8px;font-family:'Liberation Sans', Arial, sans-serif;">telo/stringtie</text>
<text x="124.4" y="183.49" text-anchor="start" fill="#111" style="font-size:6.8px;font-family:'Liberation Sans', Arial, sans-serif;">cDNA/FLAIR</text>
<text x="124.4" y="189.63" text-anchor="start" fill="#111" style="font-size:6.8px;font-family:'Liberation Sans', Arial, sans-serif;">Illumina/stringtie</text>
<text x="124.4" y="195.77" text-anchor="start" fill="#111" style="font-size:6.8px;font-family:'Liberation Sans', Arial, sans-serif;">GENCODE</text>
<text x="124.4" y="201.91" text-anchor="start" fill="#111" style="font-size:6.8px;font-family:'Liberation Sans', Arial, sans-serif;">telo/stringtie</text>
<text x="124.4" y="208.05" text-anchor="start" fill="#111" style="font-size:6.8px;font-family:'Liberation Sans', Arial, sans-serif;">cDNA/FLAIR</text>
<text x="124.4" y="214.19" text-anchor="start" fill="#111" style="font-size:6.8px;font-family:'Liberation Sans', Arial, sans-serif;">Illumina/stringtie</text>
<text x="124.4" y="220.33" text-anchor="start" fill="#111" style="font-size:6.8px;font-family:'Liberation Sans', Arial, sans-serif;">GENCODE</text>
<rect x="62.36" y="173.2" width="24.94" height="3.5" fill="#E69F00"/>
<rect x="49.84" y="179.34" width="37.46" height="3.5" fill="#E69F00"/>
<rect x="59.2" y="185.48" width="28.1" height="3.5" fill="#E69F00"/>
<rect x="57.98" y="191.62" width="29.32" height="3.5" fill="#E69F00"/>
<rect x="32.84" y="197.76" width="54.46" height="3.5" fill="#56B4E9"/>
<rect x="9.32" y="203.9" width="77.98" height="3.5" fill="#56B4E9"/>
<rect x="12.38" y="210.04" width="74.92" height="3.5" fill="#56B4E9"/>
<rect x="31.82" y="216.18" width="55.48" height="3.5" fill="#56B4E9"/>
<text x="91.2" y="187.4" text-anchor="start" fill="#E69F00" style="font-size:9.2px;font-family:'Liberation Sans', Arial, sans-serif;">cDNA</text>
<text x="91" y="212" text-anchor="start" fill="#56B4E9" style="font-size:9px;font-family:'Liberation Sans', Arial, sans-serif;">Illumina</text>
<line x1="6" y1="221.4" x2="90.6" y2="221.4" stroke="#333" stroke-width="0.9"/>
<line x1="87.3" y1="221.4" x2="87.3" y2="223.6" stroke="#333" stroke-width="0.8"/>
<text x="87.3" y="230.1" text-anchor="middle" fill="#4d4d4d" style="font-size:7px;font-family:'Liberation Sans', Arial, sans-serif;">0</text>
<line x1="66.94" y1="221.4" x2="66.94" y2="223.6" stroke="#333" stroke-width="0.8"/>
<text x="66.94" y="230.1" text-anchor="middle" fill="#4d4d4d" style="font-size:7px;font-family:'Liberation Sans', Arial, sans-serif;">20</text>
<line x1="46.58" y1="221.4" x2="46.58" y2="223.6" stroke="#333" stroke-width="0.8"/>
<text x="46.58" y="230.1" text-anchor="middle" fill="#4d4d4d" style="font-size:7px;font-family:'Liberation Sans', Arial, sans-serif;">40</text>
<line x1="26.22" y1="221.4" x2="26.22" y2="223.6" stroke="#333" stroke-width="0.8"/>
<text x="26.22" y="230.1" text-anchor="middle" fill="#4d4d4d" style="font-size:7px;font-family:'Liberation Sans', Arial, sans-serif;">60</text>
<text x="5.4" y="242.8" text-anchor="start" fill="#1a1a1a" style="font-size:13.55px;font-family:'Liberation Sans', Arial, sans-serif;">Genes with DTU</text>
<text x="152.6" y="92.6" text-anchor="middle" fill="#1a1a1a" style="font-size:13.8px;font-family:'Liberation Sans', Arial, sans-serif;" transform="rotate(-90 152.6 92.6)">Shared DTU events</text>
<text x="386.2" y="11.8" text-anchor="start" fill="#000" style="font-size:14px;font-family:'Liberation Sans', Arial, sans-serif;font-weight:bold;">B</text>
<text x="449" y="47" text-anchor="middle" fill="#1a1a1a" style="font-size:10px;font-family:'Liberation Sans', Arial, sans-serif;">Acsl5***</text>
<line x1="421.5" y1="55.4" x2="421.5" y2="107.4" stroke="#333333" stroke-width="1"/>
<line x1="418.1" y1="61" x2="421.5" y2="61" stroke="#333333" stroke-width="1"/>
<text x="414.5" y="64.6" text-anchor="end" fill="#4d4d4d" style="font-size:10px;font-family:'Liberation Sans', Arial, sans-serif;">30</text>
<line x1="418.1" y1="75.9" x2="421.5" y2="75.9" stroke="#333333" stroke-width="1"/>
<text x="414.5" y="79.5" text-anchor="end" fill="#4d4d4d" style="font-size:10px;font-family:'Liberation Sans', Arial, sans-serif;">10</text>
<line x1="418.1" y1="92.3" x2="421.5" y2="92.3" stroke="#333333" stroke-width="1"/>
<text x="414.5" y="95.9" text-anchor="end" fill="#4d4d4d" style="font-size:10px;font-family:'Liberation Sans', Arial, sans-serif;">3</text>
<line x1="418.1" y1="107.2" x2="421.5" y2="107.2" stroke="#333333" stroke-width="1"/>
<text x="414.5" y="110.8" text-anchor="end" fill="#4d4d4d" style="font-size:10px;font-family:'Liberation Sans', Arial, sans-serif;">1</text>
<line x1="432.4" y1="109.4" x2="452.2" y2="109.4" stroke="#333333" stroke-width="1"/>
<line x1="432.4" y1="108.9" x2="432.4" y2="112.2" stroke="#333333" stroke-width="1"/>
<line x1="452.2" y1="108.9" x2="452.2" y2="112.2" stroke="#333333" stroke-width="1"/>
<text x="432.4" y="122.3" text-anchor="middle" fill="#4d4d4d" style="font-size:10px;font-family:'Liberation Sans', Arial, sans-serif;">lng</text>
<text x="452.2" y="122.3" text-anchor="middle" fill="#4d4d4d" style="font-size:10px;font-family:'Liberation Sans', Arial, sans-serif;">shrt</text>
<circle cx="428.09" cy="77.12" r="1.9" fill="#1B9E77" fill-opacity="0.62" stroke="#1B9E77" stroke-opacity="0.5" stroke-width="0.5"/>
<circle cx="425.8" cy="74.97" r="1.9" fill="#1B9E77" fill-opacity="0.62" stroke="#1B9E77" stroke-opacity="0.5" stroke-width="0.5"/>
<circle cx="433.31" cy="79.01" r="1.9" fill="#1B9E77" fill-opacity="0.62" stroke="#1B9E77" stroke-opacity="0.5" stroke-width="0.5"/>
<circle cx="430.94" cy="74.2" r="1.9" fill="#1B9E77" fill-opacity="0.62" stroke="#1B9E77" stroke-opacity="0.5" stroke-width="0.5"/>
<circle cx="428.45" cy="72" r="1.9" fill="#1B9E77" fill-opacity="0.62" stroke="#1B9E77" stroke-opacity="0.5" stroke-width="0.5"/>
<circle cx="433.33" cy="75.97" r="1.9" fill="#1B9E77" fill-opacity="0.62" stroke="#1B9E77" stroke-opacity="0.5" stroke-width="0.5"/>
<circle cx="433.15" cy="72" r="1.9" fill="#1B9E77" fill-opacity="0.62" stroke="#1B9E77" stroke-opacity="0.5" stroke-width="0.5"/>
<circle cx="430.21" cy="79.2" r="1.9" fill="#1B9E77" fill-opacity="0.62" stroke="#1B9E77" stroke-opacity="0.5" stroke-width="0.5"/>
<circle cx="425.78" cy="79.2" r="1.9" fill="#1B9E77" fill-opacity="0.62" stroke="#1B9E77" stroke-opacity="0.5" stroke-width="0.5"/>
<circle cx="432.08" cy="75.95" r="1.9" fill="#1B9E77" fill-opacity="0.62" stroke="#1B9E77" stroke-opacity="0.5" stroke-width="0.5"/>
<circle cx="426.8" cy="83.1" r="1.9" fill="#1B9E77" fill-opacity="0.62" stroke="#1B9E77" stroke-opacity="0.5" stroke-width="0.5"/>
<line x1="424.5" y1="75.6" x2="434.5" y2="75.6" stroke="#1B9E77" stroke-width="1.4"/>
<line x1="429.5" y1="74.55" x2="429.5" y2="76.65" stroke="#1B9E77" stroke-width="1.4"/>
<line x1="427" y1="74.55" x2="432" y2="74.55" stroke="#1B9E77" stroke-width="1.4"/>
<line x1="427" y1="76.65" x2="432" y2="76.65" stroke="#1B9E77" stroke-width="1.4"/>
<circle cx="434.82" cy="56.51" r="1.9" fill="#D95F02" fill-opacity="0.62" stroke="#D95F02" stroke-opacity="0.5" stroke-width="0.5"/>
<circle cx="432.83" cy="60.06" r="1.9" fill="#D95F02" fill-opacity="0.62" stroke="#D95F02" stroke-opacity="0.5" stroke-width="0.5"/>
<circle cx="440.04" cy="57.92" r="1.9" fill="#D95F02" fill-opacity="0.62" stroke="#D95F02" stroke-opacity="0.5" stroke-width="0.5"/>
<circle cx="436" cy="59.36" r="1.9" fill="#D95F02" fill-opacity="0.62" stroke="#D95F02" stroke-opacity="0.5" stroke-width="0.5"/>
<circle cx="437.67" cy="58.31" r="1.9" fill="#D95F02" fill-opacity="0.62" stroke="#D95F02" stroke-opacity="0.5" stroke-width="0.5"/>
<circle cx="433.17" cy="58.85" r="1.9" fill="#D95F02" fill-opacity="0.62" stroke="#D95F02" stroke-opacity="0.5" stroke-width="0.5"/>
<circle cx="439.16" cy="58.18" r="1.9" fill="#D95F02" fill-opacity="0.62" stroke="#D95F02" stroke-opacity="0.5" stroke-width="0.5"/>
<circle cx="433.23" cy="60.39" r="1.9" fill="#D95F02" fill-opacity="0.62" stroke="#D95F02" stroke-opacity="0.5" stroke-width="0.5"/>
<circle cx="434.14" cy="58.53" r="1.9" fill="#D95F02" fill-opacity="0.62" stroke="#D95F02" stroke-opacity="0.5" stroke-width="0.5"/>
<circle cx="438.07" cy="58.46" r="1.9" fill="#D95F02" fill-opacity="0.62" stroke="#D95F02" stroke-opacity="0.5" stroke-width="0.5"/>
<line x1="431.2" y1="58.3" x2="441.2" y2="58.3" stroke="#D95F02" stroke-width="1.4"/>
<line x1="436.2" y1="57.5" x2="436.2" y2="59.1" stroke="#D95F02" stroke-width="1.4"/>
<line x1="433.7" y1="57.5" x2="438.7" y2="57.5" stroke="#D95F02" stroke-width="1.4"/>
<line x1="433.7" y1="59.1" x2="438.7" y2="59.1" stroke="#D95F02" stroke-width="1.4"/>
<circle cx="450.39" cy="102.03" r="1.9" fill="#1B9E77" fill-opacity="0.62" stroke="#1B9E77" stroke-opacity="0.5" stroke-width="0.5"/>
<circle cx="444.87" cy="99.2" r="1.9" fill="#1B9E77" fill-opacity="0.62" stroke="#1B9E77" stroke-opacity="0.5" stroke-width="0.5"/>
<circle cx="446.23" cy="104.29" r="1.9" fill="#1B9E77" fill-opacity="0.62" stroke="#1B9E77" stroke-opacity="0.5" stroke-width="0.5"/>
<circle cx="450.48" cy="97.9" r="1.9" fill="#1B9E77" fill-opacity="0.62" stroke="#1B9E77" stroke-opacity="0.5" stroke-width="0.5"/>
<circle cx="447.34" cy="100.78" r="1.9" fill="#1B9E77" fill-opacity="0.62" stroke="#1B9E77" stroke-opacity="0.5" stroke-width="0.5"/>
<circle cx="452.13" cy="105.1" r="1.9" fill="#1B9E77" fill-opacity="0.62" stroke="#1B9E77" stroke-opacity="0.5" stroke-width="0.5"/>
<circle cx="449.56" cy="103.63" r="1.9" fill="#1B9E77" fill-opacity="0.62" stroke="#1B9E77" stroke-opacity="0.5" stroke-width="0.5"/>
<circle cx="446.1" cy="101.61" r="1.9" fill="#1B9E77" fill-opacity="0.62" stroke="#1B9E77" stroke-opacity="0.5" stroke-width="0.5"/>
<circle cx="447.76" cy="103.66" r="1.9" fill="#1B9E77" fill-opacity="0.62" stroke="#1B9E77" stroke-opacity="0.5" stroke-width="0.5"/>
<circle cx="451.69" cy="100.6" r="1.9" fill="#1B9E77" fill-opacity="0.62" stroke="#1B9E77" stroke-opacity="0.5" stroke-width="0.5"/>
<circle cx="444.5" cy="107" r="1.9" fill="#1B9E77" fill-opacity="0.62" stroke="#1B9E77" stroke-opacity="0.5" stroke-width="0.5"/>
<line x1="443.2" y1="101.5" x2="453.2" y2="101.5" stroke="#1B9E77" stroke-width="1.4"/>
<line x1="448.2" y1="100.45" x2="448.2" y2="102.55" stroke="#1B9E77" stroke-width="1.4"/>
<line x1="445.7" y1="100.45" x2="450.7" y2="100.45" stroke="#1B9E77" stroke-width="1.4"/>
<line x1="445.7" y1="102.55" x2="450.7" y2="102.55" stroke="#1B9E77" stroke-width="1.4"/>
<circle cx="458.68" cy="105.81" r="1.9" fill="#D95F02" fill-opacity="0.62" stroke="#D95F02" stroke-opacity="0.5" stroke-width="0.5"/>
<circle cx="452.74" cy="104" r="1.9" fill="#D95F02" fill-opacity="0.62" stroke="#D95F02" stroke-opacity="0.5" stroke-width="0.5"/>
<circle cx="456.39" cy="103.01" r="1.9" fill="#D95F02" fill-opacity="0.62" stroke="#D95F02" stroke-opacity="0.5" stroke-width="0.5"/>
<circle cx="455.18" cy="105.81" r="1.9" fill="#D95F02" fill-opacity="0.62" stroke="#D95F02" stroke-opacity="0.5" stroke-width="0.5"/>
<circle cx="451.62" cy="106.79" r="1.9" fill="#D95F02" fill-opacity="0.62" stroke="#D95F02" stroke-opacity="0.5" stroke-width="0.5"/>
<circle cx="455.59" cy="104.19" r="1.9" fill="#D95F02" fill-opacity="0.62" stroke="#D95F02" stroke-opacity="0.5" stroke-width="0.5"/>
<circle cx="456.99" cy="104.54" r="1.9" fill="#D95F02" fill-opacity="0.62" stroke="#D95F02" stroke-opacity="0.5" stroke-width="0.5"/>
<circle cx="453.29" cy="104.11" r="1.9" fill="#D95F02" fill-opacity="0.62" stroke="#D95F02" stroke-opacity="0.5" stroke-width="0.5"/>
<circle cx="458.31" cy="106.63" r="1.9" fill="#D95F02" fill-opacity="0.62" stroke="#D95F02" stroke-opacity="0.5" stroke-width="0.5"/>
<circle cx="453.26" cy="107.13" r="1.9" fill="#D95F02" fill-opacity="0.62" stroke="#D95F02" stroke-opacity="0.5" stroke-width="0.5"/>
<line x1="450.6" y1="105" x2="460.6" y2="105" stroke="#D95F02" stroke-width="1.4"/>
<line x1="455.6" y1="104.2" x2="455.6" y2="105.8" stroke="#D95F02" stroke-width="1.4"/>
<line x1="453.1" y1="104.2" x2="458.1" y2="104.2" stroke="#D95F02" stroke-width="1.4"/>
<line x1="453.1" y1="105.8" x2="458.1" y2="105.8" stroke="#D95F02" stroke-width="1.4"/>
<text x="514.4" y="47" text-anchor="middle" fill="#1a1a1a" style="font-size:10px;font-family:'Liberation Sans', Arial, sans-serif;">Adtrp*</text>
<line x1="491.4" y1="55.4" x2="491.4" y2="107.4" stroke="#333333" stroke-width="1"/>
<line x1="488" y1="58.7" x2="491.4" y2="58.7" stroke="#333333" stroke-width="1"/>
<text x="484.4" y="62.3" text-anchor="end" fill="#4d4d4d" style="font-size:10px;font-family:'Liberation Sans', Arial, sans-serif;">10</text>
<line x1="488" y1="73.8" x2="491.4" y2="73.8" stroke="#333333" stroke-width="1"/>
<text x="484.4" y="77.4" text-anchor="end" fill="#4d4d4d" style="font-size:10px;font-family:'Liberation Sans', Arial, sans-serif;">3</text>
<line x1="488" y1="87.7" x2="491.4" y2="87.7" stroke="#333333" stroke-width="1"/>
<text x="484.4" y="91.3" text-anchor="end" fill="#4d4d4d" style="font-size:10px;font-family:'Liberation Sans', Arial, sans-serif;">1</text>
<line x1="488" y1="102.8" x2="491.4" y2="102.8" stroke="#333333" stroke-width="1"/>
<text x="484.4" y="106.4" text-anchor="end" fill="#4d4d4d" style="font-size:10px;font-family:'Liberation Sans', Arial, sans-serif;">0.3</text>
<line x1="502.4" y1="109.4" x2="522" y2="109.4" stroke="#333333" stroke-width="1"/>
<line x1="502.4" y1="108.9" x2="502.4" y2="112.2" stroke="#333333" stroke-width="1"/>
<line x1="522" y1="108.9" x2="522" y2="112.2" stroke="#333333" stroke-width="1"/>
<text x="502.4" y="122.3" text-anchor="middle" fill="#4d4d4d" style="font-size:10px;font-family:'Liberation Sans', Arial, sans-serif;">all</text>
<text x="522" y="122.3" text-anchor="middle" fill="#4d4d4d" style="font-size:10px;font-family:'Liberation Sans', Arial, sans-serif;">lng</text>
<circle cx="495.97" cy="77.44" r="1.9" fill="#1B9E77" fill-opacity="0.62" stroke="#1B9E77" stroke-opacity="0.5" stroke-width="0.5"/>
<circle cx="502.43" cy="76.06" r="1.9" fill="#1B9E77" fill-opacity="0.62" stroke="#1B9E77" stroke-opacity="0.5" stroke-width="0.5"/>
<circle cx="498.35" cy="71.85" r="1.9" fill="#1B9E77" fill-opacity="0.62" stroke="#1B9E77" stroke-opacity="0.5" stroke-width="0.5"/>
<circle cx="502.08" cy="71.15" r="1.9" fill="#1B9E77" fill-opacity="0.62" stroke="#1B9E77" stroke-opacity="0.5" stroke-width="0.5"/>
<circle cx="495.52" cy="74.39" r="1.9" fill="#1B9E77" fill-opacity="0.62" stroke="#1B9E77" stroke-opacity="0.5" stroke-width="0.5"/>
<circle cx="495.91" cy="68.38" r="1.9" fill="#1B9E77" fill-opacity="0.62" stroke="#1B9E77" stroke-opacity="0.5" stroke-width="0.5"/>
<circle cx="502.22" cy="79.1" r="1.9" fill="#1B9E77" fill-opacity="0.62" stroke="#1B9E77" stroke-opacity="0.5" stroke-width="0.5"/>
<circle cx="498.97" cy="77.18" r="1.9" fill="#1B9E77" fill-opacity="0.62" stroke="#1B9E77" stroke-opacity="0.5" stroke-width="0.5"/>
<circle cx="501.36" cy="67.1" r="1.9" fill="#1B9E77" fill-opacity="0.62" stroke="#1B9E77" stroke-opacity="0.5" stroke-width="0.5"/>
<circle cx="497.5" cy="69.24" r="1.9" fill="#1B9E77" fill-opacity="0.62" stroke="#1B9E77" stroke-opacity="0.5" stroke-width="0.5"/>
<circle cx="498.58" cy="75.58" r="1.9" fill="#1B9E77" fill-opacity="0.62" stroke="#1B9E77" stroke-opacity="0.5" stroke-width="0.5"/>
<circle cx="502" cy="80" r="1.9" fill="#1B9E77" fill-opacity="0.62" stroke="#1B9E77" stroke-opacity="0.5" stroke-width="0.5"/>
<line x1="494" y1="73.1" x2="504" y2="73.1" stroke="#1B9E77" stroke-width="1.4"/>
<line x1="499" y1="71.35" x2="499" y2="74.85" stroke="#1B9E77" stroke-width="1.4"/>
<line x1="496.5" y1="71.35" x2="501.5" y2="71.35" stroke="#1B9E77" stroke-width="1.4"/>
<line x1="496.5" y1="74.85" x2="501.5" y2="74.85" stroke="#1B9E77" stroke-width="1.4"/>
<circle cx="507.6" cy="61.58" r="1.9" fill="#D95F02" fill-opacity="0.62" stroke="#D95F02" stroke-opacity="0.5" stroke-width="0.5"/>
<circle cx="504.08" cy="59.24" r="1.9" fill="#D95F02" fill-opacity="0.62" stroke="#D95F02" stroke-opacity="0.5" stroke-width="0.5"/>
<circle cx="507.11" cy="56.81" r="1.9" fill="#D95F02" fill-opacity="0.62" stroke="#D95F02" stroke-opacity="0.5" stroke-width="0.5"/>
<circle cx="509.23" cy="58.99" r="1.9" fill="#D95F02" fill-opacity="0.62" stroke="#D95F02" stroke-opacity="0.5" stroke-width="0.5"/>
<circle cx="502.61" cy="56.35" r="1.9" fill="#D95F02" fill-opacity="0.62" stroke="#D95F02" stroke-opacity="0.5" stroke-width="0.5"/>
<circle cx="507.26" cy="60.28" r="1.9" fill="#D95F02" fill-opacity="0.62" stroke="#D95F02" stroke-opacity="0.5" stroke-width="0.5"/>
<circle cx="508.04" cy="59.04" r="1.9" fill="#D95F02" fill-opacity="0.62" stroke="#D95F02" stroke-opacity="0.5" stroke-width="0.5"/>
<circle cx="506.53" cy="55.74" r="1.9" fill="#D95F02" fill-opacity="0.62" stroke="#D95F02" stroke-opacity="0.5" stroke-width="0.5"/>
<circle cx="506.71" cy="59.63" r="1.9" fill="#D95F02" fill-opacity="0.62" stroke="#D95F02" stroke-opacity="0.5" stroke-width="0.5"/>
<circle cx="504.86" cy="55.85" r="1.9" fill="#D95F02" fill-opacity="0.62" stroke="#D95F02" stroke-opacity="0.5" stroke-width="0.5"/>
<line x1="501" y1="58.7" x2="511" y2="58.7" stroke="#D95F02" stroke-width="1.4"/>
<line x1="506" y1="57.83" x2="506" y2="59.58" stroke="#D95F02" stroke-width="1.4"/>
<line x1="503.5" y1="57.83" x2="508.5" y2="57.83" stroke="#D95F02" stroke-width="1.4"/>
<line x1="503.5" y1="59.58" x2="508.5" y2="59.58" stroke="#D95F02" stroke-width="1.4"/>
<circle cx="520.66" cy="93.77" r="1.9" fill="#1B9E77" fill-opacity="0.62" stroke="#1B9E77" stroke-opacity="0.5" stroke-width="0.5"/>
<circle cx="520.99" cy="87.86" r="1.9" fill="#1B9E77" fill-opacity="0.62" stroke="#1B9E77" stroke-opacity="0.5" stroke-width="0.5"/>
<circle cx="516.55" cy="88.78" r="1.9" fill="#1B9E77" fill-opacity="0.62" stroke="#1B9E77" stroke-opacity="0.5" stroke-width="0.5"/>
<circle cx="517.95" cy="95.4" r="1.9" fill="#1B9E77" fill-opacity="0.62" stroke="#1B9E77" stroke-opacity="0.5" stroke-width="0.5"/>
<circle cx="517.11" cy="92.07" r="1.9" fill="#1B9E77" fill-opacity="0.62" stroke="#1B9E77" stroke-opacity="0.5" stroke-width="0.5"/>
<circle cx="520.92" cy="90.79" r="1.9" fill="#1B9E77" fill-opacity="0.62" stroke="#1B9E77" stroke-opacity="0.5" stroke-width="0.5"/>
<circle cx="520.43" cy="84.3" r="1.9" fill="#1B9E77" fill-opacity="0.62" stroke="#1B9E77" stroke-opacity="0.5" stroke-width="0.5"/>
<circle cx="516.09" cy="84.6" r="1.9" fill="#1B9E77" fill-opacity="0.62" stroke="#1B9E77" stroke-opacity="0.5" stroke-width="0.5"/>
<circle cx="521.5" cy="107.2" r="1.9" fill="#1B9E77" fill-opacity="0.62" stroke="#1B9E77" stroke-opacity="0.5" stroke-width="0.5"/>
<circle cx="515" cy="96.5" r="1.9" fill="#1B9E77" fill-opacity="0.62" stroke="#1B9E77" stroke-opacity="0.5" stroke-width="0.5"/>
<line x1="513.5" y1="89.4" x2="523.5" y2="89.4" stroke="#1B9E77" stroke-width="1.4"/>
<line x1="518.5" y1="87.65" x2="518.5" y2="91.15" stroke="#1B9E77" stroke-width="1.4"/>
<line x1="516" y1="87.65" x2="521" y2="87.65" stroke="#1B9E77" stroke-width="1.4"/>
<line x1="516" y1="91.15" x2="521" y2="91.15" stroke="#1B9E77" stroke-width="1.4"/>
<circle cx="524" cy="65.69" r="1.9" fill="#D95F02" fill-opacity="0.62" stroke="#D95F02" stroke-opacity="0.5" stroke-width="0.5"/>
<circle cx="527.08" cy="65.35" r="1.9" fill="#D95F02" fill-opacity="0.62" stroke="#D95F02" stroke-opacity="0.5" stroke-width="0.5"/>
<circle cx="529.42" cy="63.22" r="1.9" fill="#D95F02" fill-opacity="0.62" stroke="#D95F02" stroke-opacity="0.5" stroke-width="0.5"/>
<circle cx="526.79" cy="68.6" r="1.9" fill="#D95F02" fill-opacity="0.62" stroke="#D95F02" stroke-opacity="0.5" stroke-width="0.5"/>
<circle cx="525.67" cy="62.6" r="1.9" fill="#D95F02" fill-opacity="0.62" stroke="#D95F02" stroke-opacity="0.5" stroke-width="0.5"/>
<circle cx="524.1" cy="66.67" r="1.9" fill="#D95F02" fill-opacity="0.62" stroke="#D95F02" stroke-opacity="0.5" stroke-width="0.5"/>
<circle cx="529.28" cy="64.66" r="1.9" fill="#D95F02" fill-opacity="0.62" stroke="#D95F02" stroke-opacity="0.5" stroke-width="0.5"/>
<circle cx="528.33" cy="67.55" r="1.9" fill="#D95F02" fill-opacity="0.62" stroke="#D95F02" stroke-opacity="0.5" stroke-width="0.5"/>
<circle cx="525.25" cy="65.64" r="1.9" fill="#D95F02" fill-opacity="0.62" stroke="#D95F02" stroke-opacity="0.5" stroke-width="0.5"/>
<circle cx="523.27" cy="64.39" r="1.9" fill="#D95F02" fill-opacity="0.62" stroke="#D95F02" stroke-opacity="0.5" stroke-width="0.5"/>
<line x1="521" y1="65.6" x2="531" y2="65.6" stroke="#D95F02" stroke-width="1.4"/>
<line x1="526" y1="64.72" x2="526" y2="66.47" stroke="#D95F02" stroke-width="1.4"/>
<line x1="523.5" y1="64.72" x2="528.5" y2="64.72" stroke="#D95F02" stroke-width="1.4"/>
<line x1="523.5" y1="66.47" x2="528.5" y2="66.47" stroke="#D95F02" stroke-width="1.4"/>
<text x="599" y="47" text-anchor="middle" fill="#1a1a1a" style="font-size:10px;font-family:'Liberation Sans', Arial, sans-serif;">Aldoa ***</text>
<line x1="570.7" y1="55.4" x2="570.7" y2="107.4" stroke="#333333" stroke-width="1"/>
<line x1="567.3" y1="65.4" x2="570.7" y2="65.4" stroke="#333333" stroke-width="1"/>
<text x="563.7" y="69" text-anchor="end" fill="#4d4d4d" style="font-size:10px;font-family:'Liberation Sans', Arial, sans-serif;">50</text>
<line x1="567.3" y1="74.3" x2="570.7" y2="74.3" stroke="#333333" stroke-width="1"/>
<text x="563.7" y="77.9" text-anchor="end" fill="#4d4d4d" style="font-size:10px;font-family:'Liberation Sans', Arial, sans-serif;">30</text>
<line x1="567.3" y1="93.8" x2="570.7" y2="93.8" stroke="#333333" stroke-width="1"/>
<text x="563.7" y="97.4" text-anchor="end" fill="#4d4d4d" style="font-size:10px;font-family:'Liberation Sans', Arial, sans-serif;">10</text>
<line x1="567.3" y1="106.4" x2="570.7" y2="106.4" stroke="#333333" stroke-width="1"/>
<text x="563.7" y="110" text-anchor="end" fill="#4d4d4d" style="font-size:10px;font-family:'Liberation Sans', Arial, sans-serif;">5</text>
<line x1="581.8" y1="109.4" x2="601.4" y2="109.4" stroke="#333333" stroke-width="1"/>
<line x1="581.8" y1="108.9" x2="581.8" y2="112.2" stroke="#333333" stroke-width="1"/>
<line x1="601.4" y1="108.9" x2="601.4" y2="112.2" stroke="#333333" stroke-width="1"/>
<text x="581.8" y="122.3" text-anchor="middle" fill="#4d4d4d" style="font-size:10px;font-family:'Liberation Sans', Arial, sans-serif;">lng</text>
<text x="601.4" y="122.3" text-anchor="middle" fill="#4d4d4d" style="font-size:10px;font-family:'Liberation Sans', Arial, sans-serif;">shrt</text>
<circle cx="574.34" cy="83.15" r="1.9" fill="#1B9E77" fill-opacity="0.62" stroke="#1B9E77" stroke-opacity="0.5" stroke-width="0.5"/>
<circle cx="575.62" cy="92.41" r="1.9" fill="#1B9E77" fill-opacity="0.62" stroke="#1B9E77" stroke-opacity="0.5" stroke-width="0.5"/>
<circle cx="575.22" cy="87.22" r="1.9" fill="#1B9E77" fill-opacity="0.62" stroke="#1B9E77" stroke-opacity="0.5" stroke-width="0.5"/>
<circle cx="578.15" cy="82.9" r="1.9" fill="#1B9E77" fill-opacity="0.62" stroke="#1B9E77" stroke-opacity="0.5" stroke-width="0.5"/>
<circle cx="581.18" cy="93.94" r="1.9" fill="#1B9E77" fill-opacity="0.62" stroke="#1B9E77" stroke-opacity="0.5" stroke-width="0.5"/>
<circle cx="578.69" cy="88.55" r="1.9" fill="#1B9E77" fill-opacity="0.62" stroke="#1B9E77" stroke-opacity="0.5" stroke-width="0.5"/>
<circle cx="579.68" cy="97.3" r="1.9" fill="#1B9E77" fill-opacity="0.62" stroke="#1B9E77" stroke-opacity="0.5" stroke-width="0.5"/>
<circle cx="578.14" cy="94.46" r="1.9" fill="#1B9E77" fill-opacity="0.62" stroke="#1B9E77" stroke-opacity="0.5" stroke-width="0.5"/>
<circle cx="574.38" cy="96.98" r="1.9" fill="#1B9E77" fill-opacity="0.62" stroke="#1B9E77" stroke-opacity="0.5" stroke-width="0.5"/>
<circle cx="581.55" cy="83.26" r="1.9" fill="#1B9E77" fill-opacity="0.62" stroke="#1B9E77" stroke-opacity="0.5" stroke-width="0.5"/>
<circle cx="581.98" cy="86.17" r="1.9" fill="#1B9E77" fill-opacity="0.62" stroke="#1B9E77" stroke-opacity="0.5" stroke-width="0.5"/>
<line x1="573" y1="90.1" x2="583" y2="90.1" stroke="#1B9E77" stroke-width="1.4"/>
<line x1="578" y1="88" x2="578" y2="92.2" stroke="#1B9E77" stroke-width="1.4"/>
<line x1="575.5" y1="88" x2="580.5" y2="88" stroke="#1B9E77" stroke-width="1.4"/>
<line x1="575.5" y1="92.2" x2="580.5" y2="92.2" stroke="#1B9E77" stroke-width="1.4"/>
<circle cx="585.96" cy="100.18" r="1.9" fill="#D95F02" fill-opacity="0.62" stroke="#D95F02" stroke-opacity="0.5" stroke-width="0.5"/>
<circle cx="582.14" cy="103.53" r="1.9" fill="#D95F02" fill-opacity="0.62" stroke="#D95F02" stroke-opacity="0.5" stroke-width="0.5"/>
<circle cx="586.43" cy="103.49" r="1.9" fill="#D95F02" fill-opacity="0.62" stroke="#D95F02" stroke-opacity="0.5" stroke-width="0.5"/>
<circle cx="589.18" cy="101.33" r="1.9" fill="#D95F02" fill-opacity="0.62" stroke="#D95F02" stroke-opacity="0.5" stroke-width="0.5"/>
<circle cx="584.5" cy="106.4" r="1.9" fill="#D95F02" fill-opacity="0.62" stroke="#D95F02" stroke-opacity="0.5" stroke-width="0.5"/>
<circle cx="588.59" cy="106.4" r="1.9" fill="#D95F02" fill-opacity="0.62" stroke="#D95F02" stroke-opacity="0.5" stroke-width="0.5"/>
<circle cx="582.38" cy="100.41" r="1.9" fill="#D95F02" fill-opacity="0.62" stroke="#D95F02" stroke-opacity="0.5" stroke-width="0.5"/>
<circle cx="581.58" cy="106.4" r="1.9" fill="#D95F02" fill-opacity="0.62" stroke="#D95F02" stroke-opacity="0.5" stroke-width="0.5"/>
<circle cx="582.47" cy="101.54" r="1.9" fill="#D95F02" fill-opacity="0.62" stroke="#D95F02" stroke-opacity="0.5" stroke-width="0.5"/>
<circle cx="583.33" cy="101.51" r="1.9" fill="#D95F02" fill-opacity="0.62" stroke="#D95F02" stroke-opacity="0.5" stroke-width="0.5"/>
<line x1="580.5" y1="102.8" x2="590.5" y2="102.8" stroke="#D95F02" stroke-width="1.4"/>
<line x1="585.5" y1="101.75" x2="585.5" y2="103.85" stroke="#D95F02" stroke-width="1.4"/>
<line x1="583" y1="101.75" x2="588" y2="101.75" stroke="#D95F02" stroke-width="1.4"/>
<line x1="583" y1="103.85" x2="588" y2="103.85" stroke="#D95F02" stroke-width="1.4"/>
<circle cx="596.1" cy="61.36" r="1.9" fill="#1B9E77" fill-opacity="0.62" stroke="#1B9E77" stroke-opacity="0.5" stroke-width="0.5"/>
<circle cx="599.26" cy="58.35" r="1.9" fill="#1B9E77" fill-opacity="0.62" stroke="#1B9E77" stroke-opacity="0.5" stroke-width="0.5"/>
<circle cx="596.12" cy="57.89" r="1.9" fill="#1B9E77" fill-opacity="0.62" stroke="#1B9E77" stroke-opacity="0.5" stroke-width="0.5"/>
<circle cx="599.81" cy="62.02" r="1.9" fill="#1B9E77" fill-opacity="0.62" stroke="#1B9E77" stroke-opacity="0.5" stroke-width="0.5"/>
<circle cx="593.65" cy="55.8" r="1.9" fill="#1B9E77" fill-opacity="0.62" stroke="#1B9E77" stroke-opacity="0.5" stroke-width="0.5"/>
<circle cx="593.52" cy="59.81" r="1.9" fill="#1B9E77" fill-opacity="0.62" stroke="#1B9E77" stroke-opacity="0.5" stroke-width="0.5"/>
<circle cx="601.49" cy="55.8" r="1.9" fill="#1B9E77" fill-opacity="0.62" stroke="#1B9E77" stroke-opacity="0.5" stroke-width="0.5"/>
<circle cx="597.4" cy="60.81" r="1.9" fill="#1B9E77" fill-opacity="0.62" stroke="#1B9E77" stroke-opacity="0.5" stroke-width="0.5"/>
<circle cx="601.35" cy="60.33" r="1.9" fill="#1B9E77" fill-opacity="0.62" stroke="#1B9E77" stroke-opacity="0.5" stroke-width="0.5"/>
<circle cx="599.87" cy="60.22" r="1.9" fill="#1B9E77" fill-opacity="0.62" stroke="#1B9E77" stroke-opacity="0.5" stroke-width="0.5"/>
<line x1="592.5" y1="59.4" x2="602.5" y2="59.4" stroke="#1B9E77" stroke-width="1.4"/>
<line x1="597.5" y1="58.35" x2="597.5" y2="60.45" stroke="#1B9E77" stroke-width="1.4"/>
<line x1="595" y1="58.35" x2="600" y2="58.35" stroke="#1B9E77" stroke-width="1.4"/>
<line x1="595" y1="60.45" x2="600" y2="60.45" stroke="#1B9E77" stroke-width="1.4"/>
<circle cx="601.6" cy="55.6" r="1.9" fill="#D95F02" fill-opacity="0.62" stroke="#D95F02" stroke-opacity="0.5" stroke-width="0.5"/>
<circle cx="606.7" cy="58.48" r="1.9" fill="#D95F02" fill-opacity="0.62" stroke="#D95F02" stroke-opacity="0.5" stroke-width="0.5"/>
<circle cx="603.86" cy="59.09" r="1.9" fill="#D95F02" fill-opacity="0.62" stroke="#D95F02" stroke-opacity="0.5" stroke-width="0.5"/>
<circle cx="607.51" cy="55" r="1.9" fill="#D95F02" fill-opacity="0.62" stroke="#D95F02" stroke-opacity="0.5" stroke-width="0.5"/>
<circle cx="604.68" cy="55.79" r="1.9" fill="#D95F02" fill-opacity="0.62" stroke="#D95F02" stroke-opacity="0.5" stroke-width="0.5"/>
<circle cx="607.41" cy="56.88" r="1.9" fill="#D95F02" fill-opacity="0.62" stroke="#D95F02" stroke-opacity="0.5" stroke-width="0.5"/>
<circle cx="608.22" cy="56.16" r="1.9" fill="#D95F02" fill-opacity="0.62" stroke="#D95F02" stroke-opacity="0.5" stroke-width="0.5"/>
<circle cx="607.43" cy="59.8" r="1.9" fill="#D95F02" fill-opacity="0.62" stroke="#D95F02" stroke-opacity="0.5" stroke-width="0.5"/>
<circle cx="605.59" cy="57.29" r="1.9" fill="#D95F02" fill-opacity="0.62" stroke="#D95F02" stroke-opacity="0.5" stroke-width="0.5"/>
<circle cx="606.88" cy="56.82" r="1.9" fill="#D95F02" fill-opacity="0.62" stroke="#D95F02" stroke-opacity="0.5" stroke-width="0.5"/>
<line x1="600" y1="57.4" x2="610" y2="57.4" stroke="#D95F02" stroke-width="1.4"/>
<line x1="605" y1="56.6" x2="605" y2="58.2" stroke="#D95F02" stroke-width="1.4"/>
<line x1="602.5" y1="56.6" x2="607.5" y2="56.6" stroke="#D95F02" stroke-width="1.4"/>
<line x1="602.5" y1="58.2" x2="607.5" y2="58.2" stroke="#D95F02" stroke-width="1.4"/>
<text x="668.9" y="47" text-anchor="middle" fill="#1a1a1a" style="font-size:10px;font-family:'Liberation Sans', Arial, sans-serif;">Cars2 ***</text>
<line x1="640.5" y1="55.4" x2="640.5" y2="107.4" stroke="#333333" stroke-width="1"/>
<line x1="637.1" y1="59.6" x2="640.5" y2="59.6" stroke="#333333" stroke-width="1"/>
<text x="633.5" y="63.2" text-anchor="end" fill="#4d4d4d" style="font-size:10px;font-family:'Liberation Sans', Arial, sans-serif;">3</text>
<line x1="637.1" y1="73.4" x2="640.5" y2="73.4" stroke="#333333" stroke-width="1"/>
<text x="633.5" y="77" text-anchor="end" fill="#4d4d4d" style="font-size:10px;font-family:'Liberation Sans', Arial, sans-serif;">1</text>
<line x1="637.1" y1="89.7" x2="640.5" y2="89.7" stroke="#333333" stroke-width="1"/>
<text x="633.5" y="93.3" text-anchor="end" fill="#4d4d4d" style="font-size:10px;font-family:'Liberation Sans', Arial, sans-serif;">0.3</text>
<line x1="637.1" y1="104.1" x2="640.5" y2="104.1" stroke="#333333" stroke-width="1"/>
<text x="633.5" y="107.7" text-anchor="end" fill="#4d4d4d" style="font-size:10px;font-family:'Liberation Sans', Arial, sans-serif;">0.1</text>
<line x1="652.1" y1="109.4" x2="671.4" y2="109.4" stroke="#333333" stroke-width="1"/>
<line x1="652.1" y1="108.9" x2="652.1" y2="112.2" stroke="#333333" stroke-width="1"/>
<line x1="671.4" y1="108.9" x2="671.4" y2="112.2" stroke="#333333" stroke-width="1"/>
<text x="652.1" y="122.3" text-anchor="middle" fill="#4d4d4d" style="font-size:10px;font-family:'Liberation Sans', Arial, sans-serif;">lng</text>
<text x="671.4" y="122.3" text-anchor="middle" fill="#4d4d4d" style="font-size:10px;font-family:'Liberation Sans', Arial, sans-serif;">shrt</text>
<circle cx="648.49" cy="66.93" r="1.9" fill="#1B9E77" fill-opacity="0.62" stroke="#1B9E77" stroke-opacity="0.5" stroke-width="0.5"/>
<circle cx="651.26" cy="68.91" r="1.9" fill="#1B9E77" fill-opacity="0.62" stroke="#1B9E77" stroke-opacity="0.5" stroke-width="0.5"/>
<circle cx="645.12" cy="69.3" r="1.9" fill="#1B9E77" fill-opacity="0.62" stroke="#1B9E77" stroke-opacity="0.5" stroke-width="0.5"/>
<circle cx="644.84" cy="65.65" r="1.9" fill="#1B9E77" fill-opacity="0.62" stroke="#1B9E77" stroke-opacity="0.5" stroke-width="0.5"/>
<circle cx="651.83" cy="65.6" r="1.9" fill="#1B9E77" fill-opacity="0.62" stroke="#1B9E77" stroke-opacity="0.5" stroke-width="0.5"/>
<circle cx="644.63" cy="70.4" r="1.9" fill="#1B9E77" fill-opacity="0.62" stroke="#1B9E77" stroke-opacity="0.5" stroke-width="0.5"/>
<circle cx="647.38" cy="68.38" r="1.9" fill="#1B9E77" fill-opacity="0.62" stroke="#1B9E77" stroke-opacity="0.5" stroke-width="0.5"/>
<circle cx="649.88" cy="66.25" r="1.9" fill="#1B9E77" fill-opacity="0.62" stroke="#1B9E77" stroke-opacity="0.5" stroke-width="0.5"/>
<circle cx="648.41" cy="69.9" r="1.9" fill="#1B9E77" fill-opacity="0.62" stroke="#1B9E77" stroke-opacity="0.5" stroke-width="0.5"/>
<circle cx="650.59" cy="69.23" r="1.9" fill="#1B9E77" fill-opacity="0.62" stroke="#1B9E77" stroke-opacity="0.5" stroke-width="0.5"/>
<line x1="643.5" y1="68" x2="653.5" y2="68" stroke="#1B9E77" stroke-width="1.4"/>
<line x1="648.5" y1="67.2" x2="648.5" y2="68.8" stroke="#1B9E77" stroke-width="1.4"/>
<line x1="646" y1="67.2" x2="651" y2="67.2" stroke="#1B9E77" stroke-width="1.4"/>
<line x1="646" y1="68.8" x2="651" y2="68.8" stroke="#1B9E77" stroke-width="1.4"/>
<circle cx="655.82" cy="58.9" r="1.9" fill="#D95F02" fill-opacity="0.62" stroke="#D95F02" stroke-opacity="0.5" stroke-width="0.5"/>
<circle cx="655.02" cy="62.77" r="1.9" fill="#D95F02" fill-opacity="0.62" stroke="#D95F02" stroke-opacity="0.5" stroke-width="0.5"/>
<circle cx="652.27" cy="58.54" r="1.9" fill="#D95F02" fill-opacity="0.62" stroke="#D95F02" stroke-opacity="0.5" stroke-width="0.5"/>
<circle cx="659.13" cy="58.54" r="1.9" fill="#D95F02" fill-opacity="0.62" stroke="#D95F02" stroke-opacity="0.5" stroke-width="0.5"/>
<circle cx="658.84" cy="61.94" r="1.9" fill="#D95F02" fill-opacity="0.62" stroke="#D95F02" stroke-opacity="0.5" stroke-width="0.5"/>
<circle cx="652.07" cy="62.17" r="1.9" fill="#D95F02" fill-opacity="0.62" stroke="#D95F02" stroke-opacity="0.5" stroke-width="0.5"/>
<circle cx="659.79" cy="60.67" r="1.9" fill="#D95F02" fill-opacity="0.62" stroke="#D95F02" stroke-opacity="0.5" stroke-width="0.5"/>
<circle cx="653.48" cy="58.54" r="1.9" fill="#D95F02" fill-opacity="0.62" stroke="#D95F02" stroke-opacity="0.5" stroke-width="0.5"/>
<circle cx="657.76" cy="59.49" r="1.9" fill="#D95F02" fill-opacity="0.62" stroke="#D95F02" stroke-opacity="0.5" stroke-width="0.5"/>
<circle cx="657.59" cy="61.86" r="1.9" fill="#D95F02" fill-opacity="0.62" stroke="#D95F02" stroke-opacity="0.5" stroke-width="0.5"/>
<line x1="651" y1="60.7" x2="661" y2="60.7" stroke="#D95F02" stroke-width="1.4"/>
<line x1="656" y1="59.9" x2="656" y2="61.5" stroke="#D95F02" stroke-width="1.4"/>
<line x1="653.5" y1="59.9" x2="658.5" y2="59.9" stroke="#D95F02" stroke-width="1.4"/>
<line x1="653.5" y1="61.5" x2="658.5" y2="61.5" stroke="#D95F02" stroke-width="1.4"/>
<circle cx="667.36" cy="104.33" r="1.9" fill="#1B9E77" fill-opacity="0.62" stroke="#1B9E77" stroke-opacity="0.5" stroke-width="0.5"/>
<circle cx="670.71" cy="103.07" r="1.9" fill="#1B9E77" fill-opacity="0.62" stroke="#1B9E77" stroke-opacity="0.5" stroke-width="0.5"/>
<circle cx="666.18" cy="101.38" r="1.9" fill="#1B9E77" fill-opacity="0.62" stroke="#1B9E77" stroke-opacity="0.5" stroke-width="0.5"/>
<circle cx="670.29" cy="100.11" r="1.9" fill="#1B9E77" fill-opacity="0.62" stroke="#1B9E77" stroke-opacity="0.5" stroke-width="0.5"/>
<circle cx="669.83" cy="106.1" r="1.9" fill="#1B9E77" fill-opacity="0.62" stroke="#1B9E77" stroke-opacity="0.5" stroke-width="0.5"/>
<circle cx="671.33" cy="103.97" r="1.9" fill="#1B9E77" fill-opacity="0.62" stroke="#1B9E77" stroke-opacity="0.5" stroke-width="0.5"/>
<circle cx="668.27" cy="101.62" r="1.9" fill="#1B9E77" fill-opacity="0.62" stroke="#1B9E77" stroke-opacity="0.5" stroke-width="0.5"/>
<circle cx="669.21" cy="101.68" r="1.9" fill="#1B9E77" fill-opacity="0.62" stroke="#1B9E77" stroke-opacity="0.5" stroke-width="0.5"/>
<circle cx="669.55" cy="104.01" r="1.9" fill="#1B9E77" fill-opacity="0.62" stroke="#1B9E77" stroke-opacity="0.5" stroke-width="0.5"/>
<circle cx="667.89" cy="100.36" r="1.9" fill="#1B9E77" fill-opacity="0.62" stroke="#1B9E77" stroke-opacity="0.5" stroke-width="0.5"/>
<circle cx="670" cy="91.4" r="1.9" fill="#1B9E77" fill-opacity="0.62" stroke="#1B9E77" stroke-opacity="0.5" stroke-width="0.5"/>
<circle cx="668.5" cy="95.4" r="1.9" fill="#1B9E77" fill-opacity="0.62" stroke="#1B9E77" stroke-opacity="0.5" stroke-width="0.5"/>
<line x1="663" y1="102.5" x2="673" y2="102.5" stroke="#1B9E77" stroke-width="1.4"/>
<line x1="668" y1="101.45" x2="668" y2="103.55" stroke="#1B9E77" stroke-width="1.4"/>
<line x1="665.5" y1="101.45" x2="670.5" y2="101.45" stroke="#1B9E77" stroke-width="1.4"/>
<line x1="665.5" y1="103.55" x2="670.5" y2="103.55" stroke="#1B9E77" stroke-width="1.4"/>
<circle cx="672.33" cy="61.89" r="1.9" fill="#D95F02" fill-opacity="0.62" stroke="#D95F02" stroke-opacity="0.5" stroke-width="0.5"/>
<circle cx="675.16" cy="60.7" r="1.9" fill="#D95F02" fill-opacity="0.62" stroke="#D95F02" stroke-opacity="0.5" stroke-width="0.5"/>
<circle cx="678.31" cy="64.19" r="1.9" fill="#D95F02" fill-opacity="0.62" stroke="#D95F02" stroke-opacity="0.5" stroke-width="0.5"/>
<circle cx="677.27" cy="57.4" r="1.9" fill="#D95F02" fill-opacity="0.62" stroke="#D95F02" stroke-opacity="0.5" stroke-width="0.5"/>
<circle cx="678.63" cy="60.94" r="1.9" fill="#D95F02" fill-opacity="0.62" stroke="#D95F02" stroke-opacity="0.5" stroke-width="0.5"/>
<circle cx="675" cy="64.1" r="1.9" fill="#D95F02" fill-opacity="0.62" stroke="#D95F02" stroke-opacity="0.5" stroke-width="0.5"/>
<circle cx="671.65" cy="59" r="1.9" fill="#D95F02" fill-opacity="0.62" stroke="#D95F02" stroke-opacity="0.5" stroke-width="0.5"/>
<circle cx="674.2" cy="57.4" r="1.9" fill="#D95F02" fill-opacity="0.62" stroke="#D95F02" stroke-opacity="0.5" stroke-width="0.5"/>
<circle cx="678.82" cy="63.59" r="1.9" fill="#D95F02" fill-opacity="0.62" stroke="#D95F02" stroke-opacity="0.5" stroke-width="0.5"/>
<circle cx="673.03" cy="61.07" r="1.9" fill="#D95F02" fill-opacity="0.62" stroke="#D95F02" stroke-opacity="0.5" stroke-width="0.5"/>
<line x1="670.4" y1="61" x2="680.4" y2="61" stroke="#D95F02" stroke-width="1.4"/>
<line x1="675.4" y1="59.95" x2="675.4" y2="62.05" stroke="#D95F02" stroke-width="1.4"/>
<line x1="672.9" y1="59.95" x2="677.9" y2="59.95" stroke="#D95F02" stroke-width="1.4"/>
<line x1="672.9" y1="62.05" x2="677.9" y2="62.05" stroke="#D95F02" stroke-width="1.4"/>
<text x="448.1" y="146.5" text-anchor="middle" fill="#1a1a1a" style="font-size:10px;font-family:'Liberation Sans', Arial, sans-serif;">Ergic1***</text>
<line x1="421.7" y1="155.4" x2="421.7" y2="207.1" stroke="#333333" stroke-width="1"/>
<line x1="418.3" y1="169.5" x2="421.7" y2="169.5" stroke="#333333" stroke-width="1"/>
<text x="414.7" y="173.1" text-anchor="end" fill="#4d4d4d" style="font-size:10px;font-family:'Liberation Sans', Arial, sans-serif;">3</text>
<line x1="418.3" y1="186.1" x2="421.7" y2="186.1" stroke="#333333" stroke-width="1"/>
<text x="414.7" y="189.7" text-anchor="end" fill="#4d4d4d" style="font-size:10px;font-family:'Liberation Sans', Arial, sans-serif;">1</text>
<line x1="418.3" y1="205.1" x2="421.7" y2="205.1" stroke="#333333" stroke-width="1"/>
<text x="414.7" y="208.7" text-anchor="end" fill="#4d4d4d" style="font-size:10px;font-family:'Liberation Sans', Arial, sans-serif;">0.3</text>
<line x1="432.4" y1="209.1" x2="452.4" y2="209.1" stroke="#333333" stroke-width="1"/>
<line x1="432.4" y1="208.6" x2="432.4" y2="211.9" stroke="#333333" stroke-width="1"/>
<line x1="452.4" y1="208.6" x2="452.4" y2="211.9" stroke="#333333" stroke-width="1"/>
<text x="432.4" y="222.2" text-anchor="middle" fill="#4d4d4d" style="font-size:10px;font-family:'Liberation Sans', Arial, sans-serif;">lng</text>
<text x="452.4" y="222.2" text-anchor="middle" fill="#4d4d4d" style="font-size:10px;font-family:'Liberation Sans', Arial, sans-serif;">shrt</text>
<circle cx="425.96" cy="162.36" r="1.9" fill="#1B9E77" fill-opacity="0.62" stroke="#1B9E77" stroke-opacity="0.5" stroke-width="0.5"/>
<circle cx="429.14" cy="162.14" r="1.9" fill="#1B9E77" fill-opacity="0.62" stroke="#1B9E77" stroke-opacity="0.5" stroke-width="0.5"/>
<circle cx="424.84" cy="159.3" r="1.9" fill="#1B9E77" fill-opacity="0.62" stroke="#1B9E77" stroke-opacity="0.5" stroke-width="0.5"/>
<circle cx="430.96" cy="159.3" r="1.9" fill="#1B9E77" fill-opacity="0.62" stroke="#1B9E77" stroke-opacity="0.5" stroke-width="0.5"/>
<circle cx="427.78" cy="159.3" r="1.9" fill="#1B9E77" fill-opacity="0.62" stroke="#1B9E77" stroke-opacity="0.5" stroke-width="0.5"/>
<circle cx="425.17" cy="162.45" r="1.9" fill="#1B9E77" fill-opacity="0.62" stroke="#1B9E77" stroke-opacity="0.5" stroke-width="0.5"/>
<circle cx="430.39" cy="162.25" r="1.9" fill="#1B9E77" fill-opacity="0.62" stroke="#1B9E77" stroke-opacity="0.5" stroke-width="0.5"/>
<circle cx="425.51" cy="160.88" r="1.9" fill="#1B9E77" fill-opacity="0.62" stroke="#1B9E77" stroke-opacity="0.5" stroke-width="0.5"/>
<circle cx="428.09" cy="161.7" r="1.9" fill="#1B9E77" fill-opacity="0.62" stroke="#1B9E77" stroke-opacity="0.5" stroke-width="0.5"/>
<circle cx="429.43" cy="161.37" r="1.9" fill="#1B9E77" fill-opacity="0.62" stroke="#1B9E77" stroke-opacity="0.5" stroke-width="0.5"/>
<line x1="423" y1="161.7" x2="433" y2="161.7" stroke="#1B9E77" stroke-width="1.4"/>
<line x1="428" y1="160.9" x2="428" y2="162.5" stroke="#1B9E77" stroke-width="1.4"/>
<line x1="425.5" y1="160.9" x2="430.5" y2="160.9" stroke="#1B9E77" stroke-width="1.4"/>
<line x1="425.5" y1="162.5" x2="430.5" y2="162.5" stroke="#1B9E77" stroke-width="1.4"/>
<circle cx="433.39" cy="161.81" r="1.9" fill="#D95F02" fill-opacity="0.62" stroke="#D95F02" stroke-opacity="0.5" stroke-width="0.5"/>
<circle cx="436.68" cy="161.59" r="1.9" fill="#D95F02" fill-opacity="0.62" stroke="#D95F02" stroke-opacity="0.5" stroke-width="0.5"/>
<circle cx="439.63" cy="164" r="1.9" fill="#D95F02" fill-opacity="0.62" stroke="#D95F02" stroke-opacity="0.5" stroke-width="0.5"/>
<circle cx="439.72" cy="160.4" r="1.9" fill="#D95F02" fill-opacity="0.62" stroke="#D95F02" stroke-opacity="0.5" stroke-width="0.5"/>
<circle cx="436.23" cy="162.86" r="1.9" fill="#D95F02" fill-opacity="0.62" stroke="#D95F02" stroke-opacity="0.5" stroke-width="0.5"/>
<circle cx="434.33" cy="162.31" r="1.9" fill="#D95F02" fill-opacity="0.62" stroke="#D95F02" stroke-opacity="0.5" stroke-width="0.5"/>
<circle cx="434.02" cy="163.22" r="1.9" fill="#D95F02" fill-opacity="0.62" stroke="#D95F02" stroke-opacity="0.5" stroke-width="0.5"/>
<circle cx="434.95" cy="160.4" r="1.9" fill="#D95F02" fill-opacity="0.62" stroke="#D95F02" stroke-opacity="0.5" stroke-width="0.5"/>
<circle cx="438.82" cy="161.82" r="1.9" fill="#D95F02" fill-opacity="0.62" stroke="#D95F02" stroke-opacity="0.5" stroke-width="0.5"/>
<circle cx="433.96" cy="163.33" r="1.9" fill="#D95F02" fill-opacity="0.62" stroke="#D95F02" stroke-opacity="0.5" stroke-width="0.5"/>
<line x1="431.4" y1="162.2" x2="441.4" y2="162.2" stroke="#D95F02" stroke-width="1.4"/>
<line x1="436.4" y1="161.4" x2="436.4" y2="163" stroke="#D95F02" stroke-width="1.4"/>
<line x1="433.9" y1="161.4" x2="438.9" y2="161.4" stroke="#D95F02" stroke-width="1.4"/>
<line x1="433.9" y1="163" x2="438.9" y2="163" stroke="#D95F02" stroke-width="1.4"/>
<circle cx="450.86" cy="189.61" r="1.9" fill="#1B9E77" fill-opacity="0.62" stroke="#1B9E77" stroke-opacity="0.5" stroke-width="0.5"/>
<circle cx="450.06" cy="193.94" r="1.9" fill="#1B9E77" fill-opacity="0.62" stroke="#1B9E77" stroke-opacity="0.5" stroke-width="0.5"/>
<circle cx="446.06" cy="196.37" r="1.9" fill="#1B9E77" fill-opacity="0.62" stroke="#1B9E77" stroke-opacity="0.5" stroke-width="0.5"/>
<circle cx="448.58" cy="187.2" r="1.9" fill="#1B9E77" fill-opacity="0.62" stroke="#1B9E77" stroke-opacity="0.5" stroke-width="0.5"/>
<circle cx="449.29" cy="197.85" r="1.9" fill="#1B9E77" fill-opacity="0.62" stroke="#1B9E77" stroke-opacity="0.5" stroke-width="0.5"/>
<circle cx="444.73" cy="193.42" r="1.9" fill="#1B9E77" fill-opacity="0.62" stroke="#1B9E77" stroke-opacity="0.5" stroke-width="0.5"/>
<circle cx="446.1" cy="200.51" r="1.9" fill="#1B9E77" fill-opacity="0.62" stroke="#1B9E77" stroke-opacity="0.5" stroke-width="0.5"/>
<circle cx="451.24" cy="201.6" r="1.9" fill="#1B9E77" fill-opacity="0.62" stroke="#1B9E77" stroke-opacity="0.5" stroke-width="0.5"/>
<circle cx="447.04" cy="190.18" r="1.9" fill="#1B9E77" fill-opacity="0.62" stroke="#1B9E77" stroke-opacity="0.5" stroke-width="0.5"/>
<circle cx="446" cy="206.8" r="1.9" fill="#1B9E77" fill-opacity="0.62" stroke="#1B9E77" stroke-opacity="0.5" stroke-width="0.5"/>
<circle cx="451.5" cy="185.5" r="1.9" fill="#1B9E77" fill-opacity="0.62" stroke="#1B9E77" stroke-opacity="0.5" stroke-width="0.5"/>
<line x1="443" y1="194.4" x2="453" y2="194.4" stroke="#1B9E77" stroke-width="1.4"/>
<line x1="448" y1="192.3" x2="448" y2="196.5" stroke="#1B9E77" stroke-width="1.4"/>
<line x1="445.5" y1="192.3" x2="450.5" y2="192.3" stroke="#1B9E77" stroke-width="1.4"/>
<line x1="445.5" y1="196.5" x2="450.5" y2="196.5" stroke="#1B9E77" stroke-width="1.4"/>
<circle cx="454.52" cy="158.14" r="1.9" fill="#D95F02" fill-opacity="0.62" stroke="#D95F02" stroke-opacity="0.5" stroke-width="0.5"/>
<circle cx="458.16" cy="160.46" r="1.9" fill="#D95F02" fill-opacity="0.62" stroke="#D95F02" stroke-opacity="0.5" stroke-width="0.5"/>
<circle cx="454.08" cy="161.9" r="1.9" fill="#D95F02" fill-opacity="0.62" stroke="#D95F02" stroke-opacity="0.5" stroke-width="0.5"/>
<circle cx="458.95" cy="157" r="1.9" fill="#D95F02" fill-opacity="0.62" stroke="#D95F02" stroke-opacity="0.5" stroke-width="0.5"/>
<circle cx="456.87" cy="161.22" r="1.9" fill="#D95F02" fill-opacity="0.62" stroke="#D95F02" stroke-opacity="0.5" stroke-width="0.5"/>
<circle cx="455.94" cy="158.63" r="1.9" fill="#D95F02" fill-opacity="0.62" stroke="#D95F02" stroke-opacity="0.5" stroke-width="0.5"/>
<circle cx="459.54" cy="157.72" r="1.9" fill="#D95F02" fill-opacity="0.62" stroke="#D95F02" stroke-opacity="0.5" stroke-width="0.5"/>
<circle cx="456.77" cy="158.43" r="1.9" fill="#D95F02" fill-opacity="0.62" stroke="#D95F02" stroke-opacity="0.5" stroke-width="0.5"/>
<circle cx="454.58" cy="160.78" r="1.9" fill="#D95F02" fill-opacity="0.62" stroke="#D95F02" stroke-opacity="0.5" stroke-width="0.5"/>
<circle cx="458.47" cy="157.78" r="1.9" fill="#D95F02" fill-opacity="0.62" stroke="#D95F02" stroke-opacity="0.5" stroke-width="0.5"/>
<line x1="450.8" y1="160" x2="460.8" y2="160" stroke="#D95F02" stroke-width="1.4"/>
<line x1="455.8" y1="159.12" x2="455.8" y2="160.88" stroke="#D95F02" stroke-width="1.4"/>
<line x1="453.3" y1="159.12" x2="458.3" y2="159.12" stroke="#D95F02" stroke-width="1.4"/>
<line x1="453.3" y1="160.88" x2="458.3" y2="160.88" stroke="#D95F02" stroke-width="1.4"/>
<text x="517.3" y="146.5" text-anchor="middle" fill="#1a1a1a" style="font-size:10px;font-family:'Liberation Sans', Arial, sans-serif;">Mlxipl**</text>
<line x1="491.4" y1="155.4" x2="491.4" y2="207.1" stroke="#333333" stroke-width="1"/>
<line x1="488" y1="164.4" x2="491.4" y2="164.4" stroke="#333333" stroke-width="1"/>
<text x="484.4" y="168" text-anchor="end" fill="#4d4d4d" style="font-size:10px;font-family:'Liberation Sans', Arial, sans-serif;">5</text>
<line x1="488" y1="173.1" x2="491.4" y2="173.1" stroke="#333333" stroke-width="1"/>
<text x="484.4" y="176.7" text-anchor="end" fill="#4d4d4d" style="font-size:10px;font-family:'Liberation Sans', Arial, sans-serif;">3</text>
<line x1="488" y1="191.8" x2="491.4" y2="191.8" stroke="#333333" stroke-width="1"/>
<text x="484.4" y="195.4" text-anchor="end" fill="#4d4d4d" style="font-size:10px;font-family:'Liberation Sans', Arial, sans-serif;">1</text>
<line x1="488" y1="203.5" x2="491.4" y2="203.5" stroke="#333333" stroke-width="1"/>
<text x="484.4" y="207.1" text-anchor="end" fill="#4d4d4d" style="font-size:10px;font-family:'Liberation Sans', Arial, sans-serif;">0.5</text>
<line x1="502.4" y1="209.1" x2="522.3" y2="209.1" stroke="#333333" stroke-width="1"/>
<line x1="502.4" y1="208.6" x2="502.4" y2="211.9" stroke="#333333" stroke-width="1"/>
<line x1="522.3" y1="208.6" x2="522.3" y2="211.9" stroke="#333333" stroke-width="1"/>
<text x="502.4" y="222.2" text-anchor="middle" fill="#4d4d4d" style="font-size:10px;font-family:'Liberation Sans', Arial, sans-serif;">lng</text>
<text x="522.3" y="222.2" text-anchor="middle" fill="#4d4d4d" style="font-size:10px;font-family:'Liberation Sans', Arial, sans-serif;">shrt</text>
<circle cx="501.42" cy="169.37" r="1.9" fill="#1B9E77" fill-opacity="0.62" stroke="#1B9E77" stroke-opacity="0.5" stroke-width="0.5"/>
<circle cx="500.49" cy="175.5" r="1.9" fill="#1B9E77" fill-opacity="0.62" stroke="#1B9E77" stroke-opacity="0.5" stroke-width="0.5"/>
<circle cx="501.93" cy="162.62" r="1.9" fill="#1B9E77" fill-opacity="0.62" stroke="#1B9E77" stroke-opacity="0.5" stroke-width="0.5"/>
<circle cx="497.32" cy="172.18" r="1.9" fill="#1B9E77" fill-opacity="0.62" stroke="#1B9E77" stroke-opacity="0.5" stroke-width="0.5"/>
<circle cx="496.41" cy="175.15" r="1.9" fill="#1B9E77" fill-opacity="0.62" stroke="#1B9E77" stroke-opacity="0.5" stroke-width="0.5"/>
<circle cx="502.51" cy="166.64" r="1.9" fill="#1B9E77" fill-opacity="0.62" stroke="#1B9E77" stroke-opacity="0.5" stroke-width="0.5"/>
<circle cx="499.56" cy="179.5" r="1.9" fill="#1B9E77" fill-opacity="0.62" stroke="#1B9E77" stroke-opacity="0.5" stroke-width="0.5"/>
<circle cx="495.89" cy="168.67" r="1.9" fill="#1B9E77" fill-opacity="0.62" stroke="#1B9E77" stroke-opacity="0.5" stroke-width="0.5"/>
<circle cx="497.54" cy="165.67" r="1.9" fill="#1B9E77" fill-opacity="0.62" stroke="#1B9E77" stroke-opacity="0.5" stroke-width="0.5"/>
<line x1="494" y1="171.5" x2="504" y2="171.5" stroke="#1B9E77" stroke-width="1.4"/>
<line x1="499" y1="168.7" x2="499" y2="174.3" stroke="#1B9E77" stroke-width="1.4"/>
<line x1="496.5" y1="168.7" x2="501.5" y2="168.7" stroke="#1B9E77" stroke-width="1.4"/>
<line x1="496.5" y1="174.3" x2="501.5" y2="174.3" stroke="#1B9E77" stroke-width="1.4"/>
<circle cx="505.33" cy="189.45" r="1.9" fill="#D95F02" fill-opacity="0.62" stroke="#D95F02" stroke-opacity="0.5" stroke-width="0.5"/>
<circle cx="509.43" cy="186.3" r="1.9" fill="#D95F02" fill-opacity="0.62" stroke="#D95F02" stroke-opacity="0.5" stroke-width="0.5"/>
<circle cx="506.05" cy="192.27" r="1.9" fill="#D95F02" fill-opacity="0.62" stroke="#D95F02" stroke-opacity="0.5" stroke-width="0.5"/>
<circle cx="502.61" cy="185.31" r="1.9" fill="#D95F02" fill-opacity="0.62" stroke="#D95F02" stroke-opacity="0.5" stroke-width="0.5"/>
<circle cx="508.55" cy="190.34" r="1.9" fill="#D95F02" fill-opacity="0.62" stroke="#D95F02" stroke-opacity="0.5" stroke-width="0.5"/>
<circle cx="506.15" cy="186.67" r="1.9" fill="#D95F02" fill-opacity="0.62" stroke="#D95F02" stroke-opacity="0.5" stroke-width="0.5"/>
<circle cx="503.97" cy="194.6" r="1.9" fill="#D95F02" fill-opacity="0.62" stroke="#D95F02" stroke-opacity="0.5" stroke-width="0.5"/>
<circle cx="503.21" cy="191.6" r="1.9" fill="#D95F02" fill-opacity="0.62" stroke="#D95F02" stroke-opacity="0.5" stroke-width="0.5"/>
<circle cx="505" cy="206.8" r="1.9" fill="#D95F02" fill-opacity="0.62" stroke="#D95F02" stroke-opacity="0.5" stroke-width="0.5"/>
<circle cx="507.5" cy="173.5" r="1.9" fill="#D95F02" fill-opacity="0.62" stroke="#D95F02" stroke-opacity="0.5" stroke-width="0.5"/>
<line x1="501" y1="189.8" x2="511" y2="189.8" stroke="#D95F02" stroke-width="1.4"/>
<line x1="506" y1="188.4" x2="506" y2="191.2" stroke="#D95F02" stroke-width="1.4"/>
<line x1="503.5" y1="188.4" x2="508.5" y2="188.4" stroke="#D95F02" stroke-width="1.4"/>
<line x1="503.5" y1="191.2" x2="508.5" y2="191.2" stroke="#D95F02" stroke-width="1.4"/>
<circle cx="518.09" cy="160.91" r="1.9" fill="#1B9E77" fill-opacity="0.62" stroke="#1B9E77" stroke-opacity="0.5" stroke-width="0.5"/>
<circle cx="520.83" cy="158.82" r="1.9" fill="#1B9E77" fill-opacity="0.62" stroke="#1B9E77" stroke-opacity="0.5" stroke-width="0.5"/>
<circle cx="515.44" cy="162.41" r="1.9" fill="#1B9E77" fill-opacity="0.62" stroke="#1B9E77" stroke-opacity="0.5" stroke-width="0.5"/>
<circle cx="515.31" cy="158.34" r="1.9" fill="#1B9E77" fill-opacity="0.62" stroke="#1B9E77" stroke-opacity="0.5" stroke-width="0.5"/>
<circle cx="521.76" cy="161.79" r="1.9" fill="#1B9E77" fill-opacity="0.62" stroke="#1B9E77" stroke-opacity="0.5" stroke-width="0.5"/>
<circle cx="516.2" cy="159.85" r="1.9" fill="#1B9E77" fill-opacity="0.62" stroke="#1B9E77" stroke-opacity="0.5" stroke-width="0.5"/>
<circle cx="518.72" cy="161.54" r="1.9" fill="#1B9E77" fill-opacity="0.62" stroke="#1B9E77" stroke-opacity="0.5" stroke-width="0.5"/>
<circle cx="516.42" cy="160.87" r="1.9" fill="#1B9E77" fill-opacity="0.62" stroke="#1B9E77" stroke-opacity="0.5" stroke-width="0.5"/>
<circle cx="521.01" cy="159.31" r="1.9" fill="#1B9E77" fill-opacity="0.62" stroke="#1B9E77" stroke-opacity="0.5" stroke-width="0.5"/>
<circle cx="518.28" cy="160.08" r="1.9" fill="#1B9E77" fill-opacity="0.62" stroke="#1B9E77" stroke-opacity="0.5" stroke-width="0.5"/>
<line x1="513.5" y1="160.5" x2="523.5" y2="160.5" stroke="#1B9E77" stroke-width="1.4"/>
<line x1="518.5" y1="159.7" x2="518.5" y2="161.3" stroke="#1B9E77" stroke-width="1.4"/>
<line x1="516" y1="159.7" x2="521" y2="159.7" stroke="#1B9E77" stroke-width="1.4"/>
<line x1="516" y1="161.3" x2="521" y2="161.3" stroke="#1B9E77" stroke-width="1.4"/>
<circle cx="522.15" cy="161.7" r="1.9" fill="#D95F02" fill-opacity="0.62" stroke="#D95F02" stroke-opacity="0.5" stroke-width="0.5"/>
<circle cx="522.06" cy="158.7" r="1.9" fill="#D95F02" fill-opacity="0.62" stroke="#D95F02" stroke-opacity="0.5" stroke-width="0.5"/>
<circle cx="526.52" cy="160.9" r="1.9" fill="#D95F02" fill-opacity="0.62" stroke="#D95F02" stroke-opacity="0.5" stroke-width="0.5"/>
<circle cx="529.66" cy="158.8" r="1.9" fill="#D95F02" fill-opacity="0.62" stroke="#D95F02" stroke-opacity="0.5" stroke-width="0.5"/>
<circle cx="529.73" cy="162.03" r="1.9" fill="#D95F02" fill-opacity="0.62" stroke="#D95F02" stroke-opacity="0.5" stroke-width="0.5"/>
<circle cx="526.7" cy="160.01" r="1.9" fill="#D95F02" fill-opacity="0.62" stroke="#D95F02" stroke-opacity="0.5" stroke-width="0.5"/>
<circle cx="526.02" cy="161.11" r="1.9" fill="#D95F02" fill-opacity="0.62" stroke="#D95F02" stroke-opacity="0.5" stroke-width="0.5"/>
<circle cx="523.08" cy="160.43" r="1.9" fill="#D95F02" fill-opacity="0.62" stroke="#D95F02" stroke-opacity="0.5" stroke-width="0.5"/>
<circle cx="523.56" cy="161.78" r="1.9" fill="#D95F02" fill-opacity="0.62" stroke="#D95F02" stroke-opacity="0.5" stroke-width="0.5"/>
<circle cx="529.35" cy="159.72" r="1.9" fill="#D95F02" fill-opacity="0.62" stroke="#D95F02" stroke-opacity="0.5" stroke-width="0.5"/>
<line x1="521" y1="160.5" x2="531" y2="160.5" stroke="#D95F02" stroke-width="1.4"/>
<line x1="526" y1="159.7" x2="526" y2="161.3" stroke="#D95F02" stroke-width="1.4"/>
<line x1="523.5" y1="159.7" x2="528.5" y2="159.7" stroke="#D95F02" stroke-width="1.4"/>
<line x1="523.5" y1="161.3" x2="528.5" y2="161.3" stroke="#D95F02" stroke-width="1.4"/>
<text x="584.7" y="146.5" text-anchor="middle" fill="#1a1a1a" style="font-size:10px;font-family:'Liberation Sans', Arial, sans-serif;">Pde4d*</text>
<line x1="561.3" y1="155.4" x2="561.3" y2="207.1" stroke="#333333" stroke-width="1"/>
<line x1="557.9" y1="164" x2="561.3" y2="164" stroke="#333333" stroke-width="1"/>
<text x="554.3" y="167.6" text-anchor="end" fill="#4d4d4d" style="font-size:10px;font-family:'Liberation Sans', Arial, sans-serif;">3</text>
<line x1="557.9" y1="175.1" x2="561.3" y2="175.1" stroke="#333333" stroke-width="1"/>
<text x="554.3" y="178.7" text-anchor="end" fill="#4d4d4d" style="font-size:10px;font-family:'Liberation Sans', Arial, sans-serif;">2</text>
<line x1="557.9" y1="194.2" x2="561.3" y2="194.2" stroke="#333333" stroke-width="1"/>
<text x="554.3" y="197.8" text-anchor="end" fill="#4d4d4d" style="font-size:10px;font-family:'Liberation Sans', Arial, sans-serif;">1</text>
<line x1="572.4" y1="209.1" x2="592.3" y2="209.1" stroke="#333333" stroke-width="1"/>
<line x1="572.4" y1="208.6" x2="572.4" y2="211.9" stroke="#333333" stroke-width="1"/>
<line x1="592.3" y1="208.6" x2="592.3" y2="211.9" stroke="#333333" stroke-width="1"/>
<text x="572.4" y="222.2" text-anchor="middle" fill="#4d4d4d" style="font-size:10px;font-family:'Liberation Sans', Arial, sans-serif;">lng</text>
<text x="592.3" y="222.2" text-anchor="middle" fill="#4d4d4d" style="font-size:10px;font-family:'Liberation Sans', Arial, sans-serif;">shrt</text>
<circle cx="566.41" cy="166.82" r="1.9" fill="#1B9E77" fill-opacity="0.62" stroke="#1B9E77" stroke-opacity="0.5" stroke-width="0.5"/>
<circle cx="572.71" cy="170.7" r="1.9" fill="#1B9E77" fill-opacity="0.62" stroke="#1B9E77" stroke-opacity="0.5" stroke-width="0.5"/>
<circle cx="572.59" cy="165.57" r="1.9" fill="#1B9E77" fill-opacity="0.62" stroke="#1B9E77" stroke-opacity="0.5" stroke-width="0.5"/>
<circle cx="569.45" cy="164.24" r="1.9" fill="#1B9E77" fill-opacity="0.62" stroke="#1B9E77" stroke-opacity="0.5" stroke-width="0.5"/>
<circle cx="568.47" cy="169.78" r="1.9" fill="#1B9E77" fill-opacity="0.62" stroke="#1B9E77" stroke-opacity="0.5" stroke-width="0.5"/>
<circle cx="565.29" cy="170.7" r="1.9" fill="#1B9E77" fill-opacity="0.62" stroke="#1B9E77" stroke-opacity="0.5" stroke-width="0.5"/>
<circle cx="565.44" cy="163.65" r="1.9" fill="#1B9E77" fill-opacity="0.62" stroke="#1B9E77" stroke-opacity="0.5" stroke-width="0.5"/>
<circle cx="570.56" cy="167.76" r="1.9" fill="#1B9E77" fill-opacity="0.62" stroke="#1B9E77" stroke-opacity="0.5" stroke-width="0.5"/>
<circle cx="566.61" cy="167.52" r="1.9" fill="#1B9E77" fill-opacity="0.62" stroke="#1B9E77" stroke-opacity="0.5" stroke-width="0.5"/>
<circle cx="571.97" cy="167.09" r="1.9" fill="#1B9E77" fill-opacity="0.62" stroke="#1B9E77" stroke-opacity="0.5" stroke-width="0.5"/>
<circle cx="571.5" cy="175.5" r="1.9" fill="#1B9E77" fill-opacity="0.62" stroke="#1B9E77" stroke-opacity="0.5" stroke-width="0.5"/>
<line x1="564" y1="167.1" x2="574" y2="167.1" stroke="#1B9E77" stroke-width="1.4"/>
<line x1="569" y1="166.05" x2="569" y2="168.15" stroke="#1B9E77" stroke-width="1.4"/>
<line x1="566.5" y1="166.05" x2="571.5" y2="166.05" stroke="#1B9E77" stroke-width="1.4"/>
<line x1="566.5" y1="168.15" x2="571.5" y2="168.15" stroke="#1B9E77" stroke-width="1.4"/>
<circle cx="574.24" cy="159.35" r="1.9" fill="#D95F02" fill-opacity="0.62" stroke="#D95F02" stroke-opacity="0.5" stroke-width="0.5"/>
<circle cx="579.85" cy="158.63" r="1.9" fill="#D95F02" fill-opacity="0.62" stroke="#D95F02" stroke-opacity="0.5" stroke-width="0.5"/>
<circle cx="576.31" cy="161.4" r="1.9" fill="#D95F02" fill-opacity="0.62" stroke="#D95F02" stroke-opacity="0.5" stroke-width="0.5"/>
<circle cx="577.01" cy="156.4" r="1.9" fill="#D95F02" fill-opacity="0.62" stroke="#D95F02" stroke-opacity="0.5" stroke-width="0.5"/>
<circle cx="578.47" cy="163.6" r="1.9" fill="#D95F02" fill-opacity="0.62" stroke="#D95F02" stroke-opacity="0.5" stroke-width="0.5"/>
<circle cx="573.63" cy="163.36" r="1.9" fill="#D95F02" fill-opacity="0.62" stroke="#D95F02" stroke-opacity="0.5" stroke-width="0.5"/>
<circle cx="573.83" cy="156.45" r="1.9" fill="#D95F02" fill-opacity="0.62" stroke="#D95F02" stroke-opacity="0.5" stroke-width="0.5"/>
<circle cx="578.48" cy="159.12" r="1.9" fill="#D95F02" fill-opacity="0.62" stroke="#D95F02" stroke-opacity="0.5" stroke-width="0.5"/>
<circle cx="579.17" cy="158.93" r="1.9" fill="#D95F02" fill-opacity="0.62" stroke="#D95F02" stroke-opacity="0.5" stroke-width="0.5"/>
<circle cx="578.5" cy="162.06" r="1.9" fill="#D95F02" fill-opacity="0.62" stroke="#D95F02" stroke-opacity="0.5" stroke-width="0.5"/>
<line x1="571.3" y1="160" x2="581.3" y2="160" stroke="#D95F02" stroke-width="1.4"/>
<line x1="576.3" y1="158.95" x2="576.3" y2="161.05" stroke="#D95F02" stroke-width="1.4"/>
<line x1="573.8" y1="158.95" x2="578.8" y2="158.95" stroke="#D95F02" stroke-width="1.4"/>
<line x1="573.8" y1="161.05" x2="578.8" y2="161.05" stroke="#D95F02" stroke-width="1.4"/>
<circle cx="591.54" cy="194.82" r="1.9" fill="#1B9E77" fill-opacity="0.62" stroke="#1B9E77" stroke-opacity="0.5" stroke-width="0.5"/>
<circle cx="591.76" cy="199.44" r="1.9" fill="#1B9E77" fill-opacity="0.62" stroke="#1B9E77" stroke-opacity="0.5" stroke-width="0.5"/>
<circle cx="588.92" cy="201.03" r="1.9" fill="#1B9E77" fill-opacity="0.62" stroke="#1B9E77" stroke-opacity="0.5" stroke-width="0.5"/>
<circle cx="585.31" cy="196.39" r="1.9" fill="#1B9E77" fill-opacity="0.62" stroke="#1B9E77" stroke-opacity="0.5" stroke-width="0.5"/>
<circle cx="586.22" cy="199.69" r="1.9" fill="#1B9E77" fill-opacity="0.62" stroke="#1B9E77" stroke-opacity="0.5" stroke-width="0.5"/>
<circle cx="588.48" cy="195.59" r="1.9" fill="#1B9E77" fill-opacity="0.62" stroke="#1B9E77" stroke-opacity="0.5" stroke-width="0.5"/>
<circle cx="584.61" cy="203" r="1.9" fill="#1B9E77" fill-opacity="0.62" stroke="#1B9E77" stroke-opacity="0.5" stroke-width="0.5"/>
<circle cx="589.38" cy="200.21" r="1.9" fill="#1B9E77" fill-opacity="0.62" stroke="#1B9E77" stroke-opacity="0.5" stroke-width="0.5"/>
<circle cx="586.02" cy="196.2" r="1.9" fill="#1B9E77" fill-opacity="0.62" stroke="#1B9E77" stroke-opacity="0.5" stroke-width="0.5"/>
<circle cx="590.19" cy="199.44" r="1.9" fill="#1B9E77" fill-opacity="0.62" stroke="#1B9E77" stroke-opacity="0.5" stroke-width="0.5"/>
<line x1="583" y1="198.8" x2="593" y2="198.8" stroke="#1B9E77" stroke-width="1.4"/>
<line x1="588" y1="197.58" x2="588" y2="200.03" stroke="#1B9E77" stroke-width="1.4"/>
<line x1="585.5" y1="197.58" x2="590.5" y2="197.58" stroke="#1B9E77" stroke-width="1.4"/>
<line x1="585.5" y1="200.03" x2="590.5" y2="200.03" stroke="#1B9E77" stroke-width="1.4"/>
<circle cx="592.39" cy="195.89" r="1.9" fill="#D95F02" fill-opacity="0.62" stroke="#D95F02" stroke-opacity="0.5" stroke-width="0.5"/>
<circle cx="594.81" cy="201.84" r="1.9" fill="#D95F02" fill-opacity="0.62" stroke="#D95F02" stroke-opacity="0.5" stroke-width="0.5"/>
<circle cx="591.9" cy="200.23" r="1.9" fill="#D95F02" fill-opacity="0.62" stroke="#D95F02" stroke-opacity="0.5" stroke-width="0.5"/>
<circle cx="599.07" cy="202.6" r="1.9" fill="#D95F02" fill-opacity="0.62" stroke="#D95F02" stroke-opacity="0.5" stroke-width="0.5"/>
<circle cx="595.86" cy="205.2" r="1.9" fill="#D95F02" fill-opacity="0.62" stroke="#D95F02" stroke-opacity="0.5" stroke-width="0.5"/>
<circle cx="591.85" cy="204.38" r="1.9" fill="#D95F02" fill-opacity="0.62" stroke="#D95F02" stroke-opacity="0.5" stroke-width="0.5"/>
<circle cx="596.64" cy="196.13" r="1.9" fill="#D95F02" fill-opacity="0.62" stroke="#D95F02" stroke-opacity="0.5" stroke-width="0.5"/>
<circle cx="597.51" cy="199.77" r="1.9" fill="#D95F02" fill-opacity="0.62" stroke="#D95F02" stroke-opacity="0.5" stroke-width="0.5"/>
<circle cx="594.3" cy="198.19" r="1.9" fill="#D95F02" fill-opacity="0.62" stroke="#D95F02" stroke-opacity="0.5" stroke-width="0.5"/>
<circle cx="597.45" cy="199.1" r="1.9" fill="#D95F02" fill-opacity="0.62" stroke="#D95F02" stroke-opacity="0.5" stroke-width="0.5"/>
<line x1="590.6" y1="200.4" x2="600.6" y2="200.4" stroke="#D95F02" stroke-width="1.4"/>
<line x1="595.6" y1="199" x2="595.6" y2="201.8" stroke="#D95F02" stroke-width="1.4"/>
<line x1="593.1" y1="199" x2="598.1" y2="199" stroke="#D95F02" stroke-width="1.4"/>
<line x1="593.1" y1="201.8" x2="598.1" y2="201.8" stroke="#D95F02" stroke-width="1.4"/>
<text x="666.1" y="146.5" text-anchor="middle" fill="#1a1a1a" style="font-size:10px;font-family:'Liberation Sans', Arial, sans-serif;">Scp2**</text>
<line x1="640.5" y1="155.4" x2="640.5" y2="207.1" stroke="#333333" stroke-width="1"/>
<line x1="637.1" y1="159.4" x2="640.5" y2="159.4" stroke="#333333" stroke-width="1"/>
<text x="633.5" y="163" text-anchor="end" fill="#4d4d4d" style="font-size:10px;font-family:'Liberation Sans', Arial, sans-serif;">30</text>
<line x1="637.1" y1="176.4" x2="640.5" y2="176.4" stroke="#333333" stroke-width="1"/>
<text x="633.5" y="180" text-anchor="end" fill="#4d4d4d" style="font-size:10px;font-family:'Liberation Sans', Arial, sans-serif;">10</text>
<line x1="637.1" y1="195.4" x2="640.5" y2="195.4" stroke="#333333" stroke-width="1"/>
<text x="633.5" y="199" text-anchor="end" fill="#4d4d4d" style="font-size:10px;font-family:'Liberation Sans', Arial, sans-serif;">3</text>
<line x1="652.1" y1="209.1" x2="671.6" y2="209.1" stroke="#333333" stroke-width="1"/>
<line x1="652.1" y1="208.6" x2="652.1" y2="211.9" stroke="#333333" stroke-width="1"/>
<line x1="671.6" y1="208.6" x2="671.6" y2="211.9" stroke="#333333" stroke-width="1"/>
<text x="652.1" y="222.2" text-anchor="middle" fill="#4d4d4d" style="font-size:10px;font-family:'Liberation Sans', Arial, sans-serif;">3p</text>
<text x="671.6" y="222.2" text-anchor="middle" fill="#4d4d4d" style="font-size:10px;font-family:'Liberation Sans', Arial, sans-serif;">5p</text>
<circle cx="651.64" cy="203.32" r="1.9" fill="#1B9E77" fill-opacity="0.62" stroke="#1B9E77" stroke-opacity="0.5" stroke-width="0.5"/>
<circle cx="645.79" cy="201.68" r="1.9" fill="#1B9E77" fill-opacity="0.62" stroke="#1B9E77" stroke-opacity="0.5" stroke-width="0.5"/>
<circle cx="648.58" cy="200.44" r="1.9" fill="#1B9E77" fill-opacity="0.62" stroke="#1B9E77" stroke-opacity="0.5" stroke-width="0.5"/>
<circle cx="648.23" cy="204.48" r="1.9" fill="#1B9E77" fill-opacity="0.62" stroke="#1B9E77" stroke-opacity="0.5" stroke-width="0.5"/>
<circle cx="644.77" cy="204.55" r="1.9" fill="#1B9E77" fill-opacity="0.62" stroke="#1B9E77" stroke-opacity="0.5" stroke-width="0.5"/>
<circle cx="652.1" cy="200.12" r="1.9" fill="#1B9E77" fill-opacity="0.62" stroke="#1B9E77" stroke-opacity="0.5" stroke-width="0.5"/>
<circle cx="651.25" cy="201.12" r="1.9" fill="#1B9E77" fill-opacity="0.62" stroke="#1B9E77" stroke-opacity="0.5" stroke-width="0.5"/>
<circle cx="644.55" cy="201.3" r="1.9" fill="#1B9E77" fill-opacity="0.62" stroke="#1B9E77" stroke-opacity="0.5" stroke-width="0.5"/>
<circle cx="648.8" cy="204.8" r="1.9" fill="#1B9E77" fill-opacity="0.62" stroke="#1B9E77" stroke-opacity="0.5" stroke-width="0.5"/>
<circle cx="646.76" cy="203.36" r="1.9" fill="#1B9E77" fill-opacity="0.62" stroke="#1B9E77" stroke-opacity="0.5" stroke-width="0.5"/>
<line x1="643.5" y1="202.4" x2="653.5" y2="202.4" stroke="#1B9E77" stroke-width="1.4"/>
<line x1="648.5" y1="201.6" x2="648.5" y2="203.2" stroke="#1B9E77" stroke-width="1.4"/>
<line x1="646" y1="201.6" x2="651" y2="201.6" stroke="#1B9E77" stroke-width="1.4"/>
<line x1="646" y1="203.2" x2="651" y2="203.2" stroke="#1B9E77" stroke-width="1.4"/>
<circle cx="657.12" cy="193.27" r="1.9" fill="#D95F02" fill-opacity="0.62" stroke="#D95F02" stroke-opacity="0.5" stroke-width="0.5"/>
<circle cx="653.54" cy="192" r="1.9" fill="#D95F02" fill-opacity="0.62" stroke="#D95F02" stroke-opacity="0.5" stroke-width="0.5"/>
<circle cx="659.67" cy="191.16" r="1.9" fill="#D95F02" fill-opacity="0.62" stroke="#D95F02" stroke-opacity="0.5" stroke-width="0.5"/>
<circle cx="655.84" cy="190.18" r="1.9" fill="#D95F02" fill-opacity="0.62" stroke="#D95F02" stroke-opacity="0.5" stroke-width="0.5"/>
<circle cx="652.5" cy="188.8" r="1.9" fill="#D95F02" fill-opacity="0.62" stroke="#D95F02" stroke-opacity="0.5" stroke-width="0.5"/>
<circle cx="656.09" cy="190.84" r="1.9" fill="#D95F02" fill-opacity="0.62" stroke="#D95F02" stroke-opacity="0.5" stroke-width="0.5"/>
<circle cx="655.57" cy="192.13" r="1.9" fill="#D95F02" fill-opacity="0.62" stroke="#D95F02" stroke-opacity="0.5" stroke-width="0.5"/>
<circle cx="657.24" cy="190.72" r="1.9" fill="#D95F02" fill-opacity="0.62" stroke="#D95F02" stroke-opacity="0.5" stroke-width="0.5"/>
<circle cx="657.78" cy="190.98" r="1.9" fill="#D95F02" fill-opacity="0.62" stroke="#D95F02" stroke-opacity="0.5" stroke-width="0.5"/>
<circle cx="655.66" cy="192.22" r="1.9" fill="#D95F02" fill-opacity="0.62" stroke="#D95F02" stroke-opacity="0.5" stroke-width="0.5"/>
<line x1="651" y1="191.2" x2="661" y2="191.2" stroke="#D95F02" stroke-width="1.4"/>
<line x1="656" y1="190.4" x2="656" y2="192" stroke="#D95F02" stroke-width="1.4"/>
<line x1="653.5" y1="190.4" x2="658.5" y2="190.4" stroke="#D95F02" stroke-width="1.4"/>
<line x1="653.5" y1="192" x2="658.5" y2="192" stroke="#D95F02" stroke-width="1.4"/>
<circle cx="671.03" cy="175.77" r="1.9" fill="#1B9E77" fill-opacity="0.62" stroke="#1B9E77" stroke-opacity="0.5" stroke-width="0.5"/>
<circle cx="665.36" cy="174.69" r="1.9" fill="#1B9E77" fill-opacity="0.62" stroke="#1B9E77" stroke-opacity="0.5" stroke-width="0.5"/>
<circle cx="664.78" cy="177.6" r="1.9" fill="#1B9E77" fill-opacity="0.62" stroke="#1B9E77" stroke-opacity="0.5" stroke-width="0.5"/>
<circle cx="668.93" cy="173.41" r="1.9" fill="#1B9E77" fill-opacity="0.62" stroke="#1B9E77" stroke-opacity="0.5" stroke-width="0.5"/>
<circle cx="667.73" cy="176.75" r="1.9" fill="#1B9E77" fill-opacity="0.62" stroke="#1B9E77" stroke-opacity="0.5" stroke-width="0.5"/>
<circle cx="665.63" cy="175.31" r="1.9" fill="#1B9E77" fill-opacity="0.62" stroke="#1B9E77" stroke-opacity="0.5" stroke-width="0.5"/>
<circle cx="668.9" cy="176.2" r="1.9" fill="#1B9E77" fill-opacity="0.62" stroke="#1B9E77" stroke-opacity="0.5" stroke-width="0.5"/>
<circle cx="668.14" cy="175.53" r="1.9" fill="#1B9E77" fill-opacity="0.62" stroke="#1B9E77" stroke-opacity="0.5" stroke-width="0.5"/>
<circle cx="670.94" cy="176.01" r="1.9" fill="#1B9E77" fill-opacity="0.62" stroke="#1B9E77" stroke-opacity="0.5" stroke-width="0.5"/>
<circle cx="665.95" cy="173.96" r="1.9" fill="#1B9E77" fill-opacity="0.62" stroke="#1B9E77" stroke-opacity="0.5" stroke-width="0.5"/>
<line x1="663" y1="175.2" x2="673" y2="175.2" stroke="#1B9E77" stroke-width="1.4"/>
<line x1="668" y1="174.4" x2="668" y2="176" stroke="#1B9E77" stroke-width="1.4"/>
<line x1="665.5" y1="174.4" x2="670.5" y2="174.4" stroke="#1B9E77" stroke-width="1.4"/>
<line x1="665.5" y1="176" x2="670.5" y2="176" stroke="#1B9E77" stroke-width="1.4"/>
<circle cx="675.15" cy="158.11" r="1.9" fill="#D95F02" fill-opacity="0.62" stroke="#D95F02" stroke-opacity="0.5" stroke-width="0.5"/>
<circle cx="671.4" cy="161.5" r="1.9" fill="#D95F02" fill-opacity="0.62" stroke="#D95F02" stroke-opacity="0.5" stroke-width="0.5"/>
<circle cx="674.95" cy="161.5" r="1.9" fill="#D95F02" fill-opacity="0.62" stroke="#D95F02" stroke-opacity="0.5" stroke-width="0.5"/>
<circle cx="678.4" cy="160.66" r="1.9" fill="#D95F02" fill-opacity="0.62" stroke="#D95F02" stroke-opacity="0.5" stroke-width="0.5"/>
<circle cx="677.58" cy="155.5" r="1.9" fill="#D95F02" fill-opacity="0.62" stroke="#D95F02" stroke-opacity="0.5" stroke-width="0.5"/>
<circle cx="673.68" cy="155.5" r="1.9" fill="#D95F02" fill-opacity="0.62" stroke="#D95F02" stroke-opacity="0.5" stroke-width="0.5"/>
<circle cx="671.57" cy="158.04" r="1.9" fill="#D95F02" fill-opacity="0.62" stroke="#D95F02" stroke-opacity="0.5" stroke-width="0.5"/>
<circle cx="678.06" cy="158.9" r="1.9" fill="#D95F02" fill-opacity="0.62" stroke="#D95F02" stroke-opacity="0.5" stroke-width="0.5"/>
<circle cx="671.98" cy="157.2" r="1.9" fill="#D95F02" fill-opacity="0.62" stroke="#D95F02" stroke-opacity="0.5" stroke-width="0.5"/>
<circle cx="674.01" cy="155.5" r="1.9" fill="#D95F02" fill-opacity="0.62" stroke="#D95F02" stroke-opacity="0.5" stroke-width="0.5"/>
<line x1="670.3" y1="158.5" x2="680.3" y2="158.5" stroke="#D95F02" stroke-width="1.4"/>
<line x1="675.3" y1="157.62" x2="675.3" y2="159.38" stroke="#D95F02" stroke-width="1.4"/>
<line x1="672.8" y1="157.62" x2="677.8" y2="157.62" stroke="#D95F02" stroke-width="1.4"/>
<line x1="672.8" y1="159.38" x2="677.8" y2="159.38" stroke="#D95F02" stroke-width="1.4"/>
<text x="397.6" y="130.9" text-anchor="middle" fill="#1a1a1a" style="font-size:11.95px;font-family:'Liberation Sans', Arial, sans-serif;" transform="rotate(-90 397.6 130.9)">Rel. expr. vs. Gtf2b/Hprt</text>
<text x="586.7" y="237.5" text-anchor="middle" fill="#1a1a1a" style="font-size:12.1px;font-family:'Liberation Sans', Arial, sans-serif;">Isoform</text>
<rect x="701.05" y="118.05" width="10.9" height="7.2" fill="none" stroke="#1B9E77" stroke-width="1.3"/>
<line x1="701.05" y1="121.65" x2="711.95" y2="121.65" stroke="#1B9E77" stroke-width="1.17"/>
<circle cx="706.5" cy="121.65" r="1.3" fill="#1B9E77"/>
<text x="719.8" y="125.4" text-anchor="start" fill="#1a1a1a" style="font-size:10.6px;font-family:'Liberation Sans', Arial, sans-serif;">22°C</text>
<rect x="700.85" y="137.85" width="11.1" height="7.2" fill="none" stroke="#D95F02" stroke-width="1.3"/>
<line x1="700.85" y1="141.45" x2="711.95" y2="141.45" stroke="#D95F02" stroke-width="1.17"/>
<circle cx="706.4" cy="141.45" r="1.3" fill="#D95F02"/>
<text x="719.9" y="145.3" text-anchor="start" fill="#1a1a1a" style="font-size:10.6px;font-family:'Liberation Sans', Arial, sans-serif;">4°C</text>
<text x="0.6" y="295.7" text-anchor="start" fill="#000" style="font-size:14px;font-family:'Liberation Sans', Arial, sans-serif;font-weight:bold;">C</text>
<text x="64.4" y="313.2" text-anchor="start" fill="#1a1a1a" style="font-size:12.3px;font-family:'Liberation Sans', Arial, sans-serif;">Domain</text>
<rect x="113.2" y="303.4" width="12.6" height="12.1" fill="#000"/>
<text x="136" y="312.9" text-anchor="start" fill="#1a1a1a" style="font-size:9.9px;font-family:'Liberation Sans', Arial, sans-serif;">transcript</text>
<rect x="185.1" y="303.3" width="12.4" height="12.2" fill="#E69F00"/>
<text x="204.8" y="313" text-anchor="start" fill="#1a1a1a" style="font-size:10.3px;font-family:'Liberation Sans', Arial, sans-serif;">tRNA-synt_1e</text>
<line x1="29.45" y1="328.6" x2="29.45" y2="426.6" stroke="#ebebeb" stroke-width="1"/>
<line x1="63.35" y1="328.6" x2="63.35" y2="426.6" stroke="#ebebeb" stroke-width="1"/>
<line x1="97.25" y1="328.6" x2="97.25" y2="426.6" stroke="#ebebeb" stroke-width="1"/>
<line x1="131.15" y1="328.6" x2="131.15" y2="426.6" stroke="#ebebeb" stroke-width="1"/>
<line x1="165.05" y1="328.6" x2="165.05" y2="426.6" stroke="#ebebeb" stroke-width="1"/>
<line x1="198.95" y1="328.6" x2="198.95" y2="426.6" stroke="#ebebeb" stroke-width="1"/>
<line x1="232.85" y1="328.6" x2="232.85" y2="426.6" stroke="#ebebeb" stroke-width="1"/>
<line x1="266.75" y1="328.6" x2="266.75" y2="426.6" stroke="#ebebeb" stroke-width="1"/>
<line x1="300.65" y1="328.6" x2="300.65" y2="426.6" stroke="#ebebeb" stroke-width="1"/>
<rect x="23.55" y="329.1" width="294.1" height="97" fill="none" stroke="#555555" stroke-width="1.0"/>
<line x1="29.45" y1="432.7" x2="29.45" y2="481.9" stroke="#ebebeb" stroke-width="1"/>
<line x1="63.35" y1="432.7" x2="63.35" y2="481.9" stroke="#ebebeb" stroke-width="1"/>
<line x1="97.25" y1="432.7" x2="97.25" y2="481.9" stroke="#ebebeb" stroke-width="1"/>
<line x1="131.15" y1="432.7" x2="131.15" y2="481.9" stroke="#ebebeb" stroke-width="1"/>
<line x1="165.05" y1="432.7" x2="165.05" y2="481.9" stroke="#ebebeb" stroke-width="1"/>
<line x1="198.95" y1="432.7" x2="198.95" y2="481.9" stroke="#ebebeb" stroke-width="1"/>
<line x1="232.85" y1="432.7" x2="232.85" y2="481.9" stroke="#ebebeb" stroke-width="1"/>
<line x1="266.75" y1="432.7" x2="266.75" y2="481.9" stroke="#ebebeb" stroke-width="1"/>
<line x1="300.65" y1="432.7" x2="300.65" y2="481.9" stroke="#ebebeb" stroke-width="1"/>
<rect x="23.55" y="433.2" width="294.1" height="48.2" fill="none" stroke="#555555" stroke-width="1.0"/>
<line x1="30" y1="353.3" x2="304" y2="353.3" stroke="#000" stroke-width="1.3"/>
<rect x="29.6" y="348.8" width="3.2" height="9" fill="#000"/>
<rect x="32.6" y="343.6" width="4.6" height="19.4" fill="#000"/>
<rect x="37.1" y="343.6" width="1.3" height="19.4" fill="#E69F00"/>
<rect x="42.95" y="343.6" width="2.3" height="19.4" fill="#E69F00"/>
<rect x="62" y="343.6" width="3.6" height="19.4" fill="#E69F00"/>
<rect x="90.2" y="343.6" width="2.4" height="19.4" fill="#E69F00"/>
<rect x="101" y="343.6" width="2.8" height="19.4" fill="#E69F00"/>
<rect x="126.8" y="343.6" width="2.8" height="19.4" fill="#E69F00"/>
<rect x="162.6" y="343.6" width="3.8" height="19.4" fill="#E69F00"/>
<rect x="175.4" y="343.6" width="3.4" height="19.4" fill="#E69F00"/>
<rect x="199.6" y="343.6" width="2" height="19.4" fill="#E69F00"/>
<rect x="230.6" y="343.6" width="2" height="19.4" fill="#E69F00"/>
<rect x="240" y="343.6" width="2.2" height="19.4" fill="#E69F00"/>
<rect x="242.2" y="343.6" width="2.7" height="19.4" fill="#000"/>
<rect x="252.7" y="343.6" width="2.6" height="19.4" fill="#000"/>
<rect x="269.9" y="343.6" width="2.6" height="19.4" fill="#000"/>
<rect x="285.9" y="343.6" width="5.4" height="19.4" fill="#000"/>
<rect x="298.9" y="343.6" width="3.1" height="19.4" fill="#000"/>
<rect x="301.8" y="348.4" width="3.4" height="9.8" fill="#000"/>
<path d="M48.7 350.1L54.3 353.3L48.7 356.5" stroke="#000" stroke-width="1.5" fill="none" stroke-linejoin="miter"/>
<path d="M56.4 350.1L62 353.3L56.4 356.5" stroke="#000" stroke-width="1.5" fill="none" stroke-linejoin="miter"/>
<path d="M72.6 350.1L78.2 353.3L72.6 356.5" stroke="#000" stroke-width="1.5" fill="none" stroke-linejoin="miter"/>
<path d="M84.7 350.1L90.3 353.3L84.7 356.5" stroke="#000" stroke-width="1.5" fill="none" stroke-linejoin="miter"/>
<path d="M109.6 350.1L115.2 353.3L109.6 356.5" stroke="#000" stroke-width="1.5" fill="none" stroke-linejoin="miter"/>
<path d="M121.3 350.1L126.9 353.3L121.3 356.5" stroke="#000" stroke-width="1.5" fill="none" stroke-linejoin="miter"/>
<path d="M135.6 350.1L141.2 353.3L135.6 356.5" stroke="#000" stroke-width="1.5" fill="none" stroke-linejoin="miter"/>
<path d="M146.5 350.1L152.1 353.3L146.5 356.5" stroke="#000" stroke-width="1.5" fill="none" stroke-linejoin="miter"/>
<path d="M157.1 350.1L162.7 353.3L157.1 356.5" stroke="#000" stroke-width="1.5" fill="none" stroke-linejoin="miter"/>
<path d="M183.7 350.1L189.3 353.3L183.7 356.5" stroke="#000" stroke-width="1.5" fill="none" stroke-linejoin="miter"/>
<path d="M194 350.1L199.6 353.3L194 356.5" stroke="#000" stroke-width="1.5" fill="none" stroke-linejoin="miter"/>
<path d="M205.8 350.1L211.4 353.3L205.8 356.5" stroke="#000" stroke-width="1.5" fill="none" stroke-linejoin="miter"/>
<path d="M215.3 350.1L220.9 353.3L215.3 356.5" stroke="#000" stroke-width="1.5" fill="none" stroke-linejoin="miter"/>
<path d="M225 350.1L230.6 353.3L225 356.5" stroke="#000" stroke-width="1.5" fill="none" stroke-linejoin="miter"/>
<line x1="30" y1="377.8" x2="304" y2="377.8" stroke="#000" stroke-width="1.3"/>
<rect x="29.6" y="373.3" width="3.2" height="9" fill="#000"/>
<rect x="32.6" y="368.1" width="4.6" height="19.4" fill="#000"/>
<rect x="37.1" y="368.1" width="1.3" height="19.4" fill="#E69F00"/>
<rect x="42.95" y="368.1" width="2.3" height="19.4" fill="#E69F00"/>
<rect x="62" y="368.1" width="3.6" height="19.4" fill="#E69F00"/>
<rect x="90.2" y="368.1" width="2.4" height="19.4" fill="#E69F00"/>
<rect x="101" y="368.1" width="2.8" height="19.4" fill="#E69F00"/>
<rect x="126.8" y="368.1" width="2.8" height="19.4" fill="#E69F00"/>
<rect x="162.6" y="368.1" width="3.8" height="19.4" fill="#E69F00"/>
<rect x="175.4" y="368.1" width="3.4" height="19.4" fill="#E69F00"/>
<rect x="199.6" y="368.1" width="2" height="19.4" fill="#E69F00"/>
<rect x="230.6" y="368.1" width="2" height="19.4" fill="#E69F00"/>
<rect x="240" y="368.1" width="2.2" height="19.4" fill="#E69F00"/>
<rect x="242.2" y="368.1" width="2.7" height="19.4" fill="#000"/>
<rect x="252.7" y="368.1" width="2.6" height="19.4" fill="#000"/>
<rect x="269.9" y="368.1" width="2.6" height="19.4" fill="#000"/>
<rect x="285.9" y="368.1" width="5.4" height="19.4" fill="#000"/>
<rect x="298.9" y="368.1" width="3.1" height="19.4" fill="#000"/>
<rect x="301.8" y="372.9" width="3.4" height="9.8" fill="#000"/>
<path d="M48.7 374.6L54.3 377.8L48.7 381" stroke="#000" stroke-width="1.5" fill="none" stroke-linejoin="miter"/>
<path d="M56.4 374.6L62 377.8L56.4 381" stroke="#000" stroke-width="1.5" fill="none" stroke-linejoin="miter"/>
<path d="M72.6 374.6L78.2 377.8L72.6 381" stroke="#000" stroke-width="1.5" fill="none" stroke-linejoin="miter"/>
<path d="M84.7 374.6L90.3 377.8L84.7 381" stroke="#000" stroke-width="1.5" fill="none" stroke-linejoin="miter"/>
<path d="M109.6 374.6L115.2 377.8L109.6 381" stroke="#000" stroke-width="1.5" fill="none" stroke-linejoin="miter"/>
<path d="M121.3 374.6L126.9 377.8L121.3 381" stroke="#000" stroke-width="1.5" fill="none" stroke-linejoin="miter"/>
<path d="M135.6 374.6L141.2 377.8L135.6 381" stroke="#000" stroke-width="1.5" fill="none" stroke-linejoin="miter"/>
<path d="M146.5 374.6L152.1 377.8L146.5 381" stroke="#000" stroke-width="1.5" fill="none" stroke-linejoin="miter"/>
<path d="M157.1 374.6L162.7 377.8L157.1 381" stroke="#000" stroke-width="1.5" fill="none" stroke-linejoin="miter"/>
<path d="M183.7 374.6L189.3 377.8L183.7 381" stroke="#000" stroke-width="1.5" fill="none" stroke-linejoin="miter"/>
<path d="M194 374.6L199.6 377.8L194 381" stroke="#000" stroke-width="1.5" fill="none" stroke-linejoin="miter"/>
<path d="M205.8 374.6L211.4 377.8L205.8 381" stroke="#000" stroke-width="1.5" fill="none" stroke-linejoin="miter"/>
<path d="M215.3 374.6L220.9 377.8L215.3 381" stroke="#000" stroke-width="1.5" fill="none" stroke-linejoin="miter"/>
<path d="M225 374.6L230.6 377.8L225 381" stroke="#000" stroke-width="1.5" fill="none" stroke-linejoin="miter"/>
<line x1="160" y1="402" x2="304" y2="402" stroke="#000" stroke-width="1.3"/>
<rect x="157.9" y="397.5" width="7.7" height="9" fill="#000"/>
<rect x="165.5" y="392.3" width="1.2" height="19.4" fill="#E69F00"/>
<rect x="175.4" y="392.3" width="3.4" height="19.4" fill="#E69F00"/>
<rect x="199.5" y="392.3" width="2" height="19.4" fill="#E69F00"/>
<rect x="230.8" y="392.3" width="2" height="19.4" fill="#E69F00"/>
<rect x="240.2" y="392.3" width="2" height="19.4" fill="#E69F00"/>
<rect x="242.2" y="392.3" width="2.7" height="19.4" fill="#000"/>
<path d="M183.7 398.8L189.3 402L183.7 405.2" stroke="#000" stroke-width="1.5" fill="none" stroke-linejoin="miter"/>
<path d="M194 398.8L199.6 402L194 405.2" stroke="#000" stroke-width="1.5" fill="none" stroke-linejoin="miter"/>
<path d="M205.8 398.8L211.4 402L205.8 405.2" stroke="#000" stroke-width="1.5" fill="none" stroke-linejoin="miter"/>
<path d="M215.3 398.8L220.9 402L215.3 405.2" stroke="#000" stroke-width="1.5" fill="none" stroke-linejoin="miter"/>
<path d="M225 398.8L230.6 402L225 405.2" stroke="#000" stroke-width="1.5" fill="none" stroke-linejoin="miter"/>
<rect x="252.7" y="392.3" width="2.6" height="19.4" fill="#000"/>
<rect x="270" y="392.3" width="2.6" height="19.4" fill="#000"/>
<rect x="286.1" y="392.3" width="5.4" height="19.4" fill="#000"/>
<rect x="299.2" y="392.3" width="3" height="19.4" fill="#000"/>
<rect x="302" y="397.1" width="3" height="9.8" fill="#000"/>
<line x1="160" y1="457.3" x2="304" y2="457.3" stroke="#000" stroke-width="1.3"/>
<rect x="157.9" y="452.8" width="7.7" height="9" fill="#000"/>
<rect x="165.5" y="447.6" width="1.2" height="19.4" fill="#E69F00"/>
<rect x="175.4" y="447.6" width="3.4" height="19.4" fill="#E69F00"/>
<rect x="199.5" y="447.6" width="2" height="19.4" fill="#E69F00"/>
<rect x="230.8" y="447.6" width="2" height="19.4" fill="#E69F00"/>
<rect x="240.2" y="447.6" width="2" height="19.4" fill="#E69F00"/>
<rect x="242.2" y="447.6" width="2.7" height="19.4" fill="#000"/>
<path d="M183.7 454.1L189.3 457.3L183.7 460.5" stroke="#000" stroke-width="1.5" fill="none" stroke-linejoin="miter"/>
<path d="M194 454.1L199.6 457.3L194 460.5" stroke="#000" stroke-width="1.5" fill="none" stroke-linejoin="miter"/>
<path d="M205.8 454.1L211.4 457.3L205.8 460.5" stroke="#000" stroke-width="1.5" fill="none" stroke-linejoin="miter"/>
<path d="M215.3 454.1L220.9 457.3L215.3 460.5" stroke="#000" stroke-width="1.5" fill="none" stroke-linejoin="miter"/>
<path d="M225 454.1L230.6 457.3L225 460.5" stroke="#000" stroke-width="1.5" fill="none" stroke-linejoin="miter"/>
<path d="M252.1 454.1L257.7 457.3L252.1 460.5" stroke="#000" stroke-width="1.5" fill="none" stroke-linejoin="miter"/>
<path d="M264.2 454.1L269.8 457.3L264.2 460.5" stroke="#000" stroke-width="1.5" fill="none" stroke-linejoin="miter"/>
<rect x="270" y="447.6" width="2.9" height="19.4" fill="#000"/>
<rect x="286.2" y="447.6" width="1.6" height="19.4" fill="#000"/>
<rect x="287.6" y="452.8" width="4.4" height="9" fill="#000"/>
<rect x="298.1" y="452.8" width="5.9" height="9" fill="#000"/>
<text x="15.2" y="356.7" text-anchor="middle" fill="#4d4d4d" style="font-size:8.5px;font-family:'Liberation Sans', Arial, sans-serif;">1</text>
<text x="15.2" y="381.3" text-anchor="middle" fill="#4d4d4d" style="font-size:8.5px;font-family:'Liberation Sans', Arial, sans-serif;">2</text>
<text x="15.2" y="405.2" text-anchor="middle" fill="#4d4d4d" style="font-size:8.5px;font-family:'Liberation Sans', Arial, sans-serif;">3</text>
<text x="15.2" y="461" text-anchor="middle" fill="#4d4d4d" style="font-size:8.5px;font-family:'Liberation Sans', Arial, sans-serif;">4</text>
<text x="11.4" y="404.9" text-anchor="middle" fill="#1a1a1a" style="font-size:13.8px;font-family:'Liberation Sans', Arial, sans-serif;" transform="rotate(-90 11.4 404.9)">Cars2 Isoform</text>
<text x="348" y="376.8" text-anchor="middle" fill="#1a1a1a" style="font-size:9.9px;font-family:'Liberation Sans', Arial, sans-serif;" letter-spacing="0.3">NMD</text>
<text x="348" y="385.9" text-anchor="middle" fill="#1a1a1a" style="font-size:9.9px;font-family:'Liberation Sans', Arial, sans-serif;" letter-spacing="0.3">Insensitive</text>
<text x="348" y="456" text-anchor="middle" fill="#1a1a1a" style="font-size:9.9px;font-family:'Liberation Sans', Arial, sans-serif;" letter-spacing="0.3">NMD</text>
<text x="348" y="465.6" text-anchor="middle" fill="#1a1a1a" style="font-size:9.9px;font-family:'Liberation Sans', Arial, sans-serif;" letter-spacing="0.3">Sensitive</text>
<text x="348.4" y="499.6" text-anchor="middle" fill="#1a1a1a" style="font-size:10.5px;font-family:'Liberation Sans', Arial, sans-serif;">Amplicons</text>
<line x1="90.9" y1="492" x2="129.2" y2="492" stroke="#7f7f7f" stroke-width="1.3"/>
<line x1="90.9" y1="488" x2="90.9" y2="496" stroke="#56B4E9" stroke-width="1.3"/>
<line x1="129.2" y1="488" x2="129.2" y2="496" stroke="#56B4E9" stroke-width="1.3"/>
<line x1="158.2" y1="492" x2="178.9" y2="492" stroke="#7f7f7f" stroke-width="1.3"/>
<line x1="158.2" y1="488" x2="158.2" y2="496" stroke="#56B4E9" stroke-width="1.3"/>
<line x1="178.9" y1="488" x2="178.9" y2="496" stroke="#56B4E9" stroke-width="1.3"/>
<text x="109.8" y="504.6" text-anchor="middle" fill="#4d4d4d" style="font-size:9px;font-family:'Liberation Sans', Arial, sans-serif;">long</text>
<text x="168.4" y="504.6" text-anchor="middle" fill="#4d4d4d" style="font-size:9px;font-family:'Liberation Sans', Arial, sans-serif;">short</text>
<text x="385.8" y="295.3" text-anchor="start" fill="#000" style="font-size:14px;font-family:'Liberation Sans', Arial, sans-serif;font-weight:bold;">D</text>
<text x="577" y="295.3" text-anchor="start" fill="#000" style="font-size:14px;font-family:'Liberation Sans', Arial, sans-serif;font-weight:bold;">E</text>
<rect x="527.35" y="304.35" width="11" height="7.1" fill="none" stroke="#1B9E77" stroke-width="1.3"/>
<line x1="527.35" y1="307.9" x2="538.35" y2="307.9" stroke="#1B9E77" stroke-width="1.17"/>
<circle cx="532.85" cy="307.9" r="1.5" fill="#1B9E77"/>
<text x="546.3" y="311.8" text-anchor="start" fill="#1a1a1a" style="font-size:9.95px;font-family:'DejaVu Sans', 'Liberation Sans', sans-serif;">22°C</text>
<rect x="579.05" y="304.35" width="11.1" height="7.1" fill="none" stroke="#D95F02" stroke-width="1.3"/>
<line x1="579.05" y1="307.9" x2="590.15" y2="307.9" stroke="#D95F02" stroke-width="1.17"/>
<circle cx="584.6" cy="307.9" r="1.5" fill="#D95F02"/>
<text x="597.8" y="311.8" text-anchor="start" fill="#1a1a1a" style="font-size:9.95px;font-family:'DejaVu Sans', 'Liberation Sans', sans-serif;">4°C</text>
<line x1="415.3" y1="329.7" x2="415.3" y2="469.9" stroke="#333333" stroke-width="1"/>
<line x1="411.7" y1="359.5" x2="415.3" y2="359.5" stroke="#333333" stroke-width="1"/>
<text x="409.1" y="363.6" text-anchor="end" fill="#4d4d4d" style="font-size:10px;font-family:'DejaVu Sans', 'Liberation Sans', sans-serif;">30</text>
<line x1="411.7" y1="399.4" x2="415.3" y2="399.4" stroke="#333333" stroke-width="1"/>
<text x="409.1" y="403.5" text-anchor="end" fill="#4d4d4d" style="font-size:10px;font-family:'DejaVu Sans', 'Liberation Sans', sans-serif;">10</text>
<line x1="411.7" y1="438.5" x2="415.3" y2="438.5" stroke="#333333" stroke-width="1"/>
<text x="409.1" y="442.6" text-anchor="end" fill="#4d4d4d" style="font-size:10px;font-family:'DejaVu Sans', 'Liberation Sans', sans-serif;">3</text>
<line x1="411.7" y1="465.4" x2="415.3" y2="465.4" stroke="#333333" stroke-width="1"/>
<text x="409.1" y="469.5" text-anchor="end" fill="#4d4d4d" style="font-size:10px;font-family:'DejaVu Sans', 'Liberation Sans', sans-serif;">1</text>
<line x1="432.6" y1="476.1" x2="520.6" y2="476.1" stroke="#333333" stroke-width="1"/>
<line x1="432.6" y1="475.6" x2="432.6" y2="479" stroke="#333333" stroke-width="1"/>
<text x="432.6" y="489.3" text-anchor="middle" fill="#4d4d4d" style="font-size:9px;font-family:'DejaVu Sans', 'Liberation Sans', sans-serif;">1</text>
<line x1="461.8" y1="475.6" x2="461.8" y2="479" stroke="#333333" stroke-width="1"/>
<text x="461.8" y="489.3" text-anchor="middle" fill="#4d4d4d" style="font-size:9px;font-family:'DejaVu Sans', 'Liberation Sans', sans-serif;">2</text>
<line x1="491.2" y1="475.6" x2="491.2" y2="479" stroke="#333333" stroke-width="1"/>
<text x="491.2" y="489.3" text-anchor="middle" fill="#4d4d4d" style="font-size:9px;font-family:'DejaVu Sans', 'Liberation Sans', sans-serif;">3</text>
<line x1="520.6" y1="475.6" x2="520.6" y2="479" stroke="#333333" stroke-width="1"/>
<text x="520.6" y="489.3" text-anchor="middle" fill="#4d4d4d" style="font-size:9px;font-family:'DejaVu Sans', 'Liberation Sans', sans-serif;">4</text>
<text x="476.6" y="499.3" text-anchor="middle" fill="#1a1a1a" style="font-size:9.2px;font-family:'DejaVu Sans', 'Liberation Sans', sans-serif;">Cars2 Isoform</text>
<text x="394.7" y="399.5" text-anchor="middle" fill="#1a1a1a" style="font-size:10.4px;font-family:'DejaVu Sans', 'Liberation Sans', sans-serif;" transform="rotate(-90 394.7 399.5)">Abundance</text>
<circle cx="423.4" cy="423.3" r="1.65" fill="#1B9E77" fill-opacity="0.55" stroke="#1B9E77" stroke-opacity="0.3" stroke-width="0.5"/>
<circle cx="427" cy="416.8" r="1.65" fill="#1B9E77" fill-opacity="0.55" stroke="#1B9E77" stroke-opacity="0.3" stroke-width="0.5"/>
<circle cx="431" cy="418.8" r="1.65" fill="#1B9E77" fill-opacity="0.55" stroke="#1B9E77" stroke-opacity="0.3" stroke-width="0.5"/>
<line x1="419.5" y1="419.2" x2="434.5" y2="419.2" stroke="#1B9E77" stroke-width="1.2"/>
<line x1="427" y1="418.2" x2="427" y2="420.7" stroke="#1B9E77" stroke-width="1.2"/>
<line x1="422" y1="418.2" x2="432" y2="418.2" stroke="#1B9E77" stroke-width="1.2"/>
<line x1="422" y1="420.7" x2="432" y2="420.7" stroke="#1B9E77" stroke-width="1.2"/>
<circle cx="434.5" cy="378.7" r="1.65" fill="#D95F02" fill-opacity="0.55" stroke="#D95F02" stroke-opacity="0.3" stroke-width="0.5"/>
<circle cx="441.6" cy="384.4" r="1.65" fill="#D95F02" fill-opacity="0.55" stroke="#D95F02" stroke-opacity="0.3" stroke-width="0.5"/>
<circle cx="438" cy="380.8" r="1.65" fill="#D95F02" fill-opacity="0.55" stroke="#D95F02" stroke-opacity="0.3" stroke-width="0.5"/>
<line x1="430.5" y1="381.2" x2="445.5" y2="381.2" stroke="#D95F02" stroke-width="1.2"/>
<line x1="438" y1="379.5" x2="438" y2="383" stroke="#D95F02" stroke-width="1.2"/>
<line x1="433" y1="379.5" x2="443" y2="379.5" stroke="#D95F02" stroke-width="1.2"/>
<line x1="433" y1="383" x2="443" y2="383" stroke="#D95F02" stroke-width="1.2"/>
<circle cx="456.4" cy="430" r="1.65" fill="#1B9E77" fill-opacity="0.55" stroke="#1B9E77" stroke-opacity="0.3" stroke-width="0.5"/>
<circle cx="452.7" cy="435" r="1.65" fill="#1B9E77" fill-opacity="0.55" stroke="#1B9E77" stroke-opacity="0.3" stroke-width="0.5"/>
<circle cx="459.8" cy="456.3" r="1.65" fill="#1B9E77" fill-opacity="0.55" stroke="#1B9E77" stroke-opacity="0.3" stroke-width="0.5"/>
<line x1="448.8" y1="440.5" x2="463.8" y2="440.5" stroke="#1B9E77" stroke-width="1.2"/>
<line x1="456.3" y1="432.4" x2="456.3" y2="448.2" stroke="#1B9E77" stroke-width="1.2"/>
<line x1="451.3" y1="432.4" x2="461.3" y2="432.4" stroke="#1B9E77" stroke-width="1.2"/>
<line x1="451.3" y1="448.2" x2="461.3" y2="448.2" stroke="#1B9E77" stroke-width="1.2"/>
<circle cx="467.5" cy="388.3" r="1.65" fill="#D95F02" fill-opacity="0.55" stroke="#D95F02" stroke-opacity="0.3" stroke-width="0.5"/>
<circle cx="471" cy="396.2" r="1.65" fill="#D95F02" fill-opacity="0.55" stroke="#D95F02" stroke-opacity="0.3" stroke-width="0.5"/>
<circle cx="463.9" cy="406.7" r="1.65" fill="#D95F02" fill-opacity="0.55" stroke="#D95F02" stroke-opacity="0.3" stroke-width="0.5"/>
<line x1="459.9" y1="397" x2="474.9" y2="397" stroke="#D95F02" stroke-width="1.2"/>
<line x1="467.4" y1="391.5" x2="467.4" y2="402.2" stroke="#D95F02" stroke-width="1.2"/>
<line x1="462.4" y1="391.5" x2="472.4" y2="391.5" stroke="#D95F02" stroke-width="1.2"/>
<line x1="462.4" y1="402.2" x2="472.4" y2="402.2" stroke="#D95F02" stroke-width="1.2"/>
<circle cx="480.3" cy="429" r="1.65" fill="#1B9E77" fill-opacity="0.55" stroke="#1B9E77" stroke-opacity="0.3" stroke-width="0.5"/>
<circle cx="485.5" cy="426.5" r="1.65" fill="#1B9E77" fill-opacity="0.55" stroke="#1B9E77" stroke-opacity="0.3" stroke-width="0.5"/>
<circle cx="491" cy="429.4" r="1.65" fill="#1B9E77" fill-opacity="0.55" stroke="#1B9E77" stroke-opacity="0.3" stroke-width="0.5"/>
<line x1="478.3" y1="428.9" x2="493.3" y2="428.9" stroke="#1B9E77" stroke-width="1.2"/>
<line x1="485.8" y1="428" x2="485.8" y2="430" stroke="#1B9E77" stroke-width="1.2"/>
<line x1="480.8" y1="428" x2="490.8" y2="428" stroke="#1B9E77" stroke-width="1.2"/>
<line x1="480.8" y1="430" x2="490.8" y2="430" stroke="#1B9E77" stroke-width="1.2"/>
<circle cx="496.9" cy="329.8" r="1.65" fill="#D95F02" fill-opacity="0.55" stroke="#D95F02" stroke-opacity="0.3" stroke-width="0.5"/>
<circle cx="492.8" cy="337.1" r="1.65" fill="#D95F02" fill-opacity="0.55" stroke="#D95F02" stroke-opacity="0.3" stroke-width="0.5"/>
<circle cx="500.3" cy="341.2" r="1.65" fill="#D95F02" fill-opacity="0.55" stroke="#D95F02" stroke-opacity="0.3" stroke-width="0.5"/>
<line x1="489.6" y1="336" x2="504.6" y2="336" stroke="#D95F02" stroke-width="1.2"/>
<line x1="497.1" y1="332.5" x2="497.1" y2="338.7" stroke="#D95F02" stroke-width="1.2"/>
<line x1="492.1" y1="332.5" x2="502.1" y2="332.5" stroke="#D95F02" stroke-width="1.2"/>
<line x1="492.1" y1="338.7" x2="502.1" y2="338.7" stroke="#D95F02" stroke-width="1.2"/>
<circle cx="511.5" cy="457.2" r="1.65" fill="#1B9E77" fill-opacity="0.55" stroke="#1B9E77" stroke-opacity="0.3" stroke-width="0.5"/>
<circle cx="518.5" cy="469.3" r="1.65" fill="#1B9E77" fill-opacity="0.55" stroke="#1B9E77" stroke-opacity="0.3" stroke-width="0.5"/>
<circle cx="515.6" cy="464.7" r="1.65" fill="#1B9E77" fill-opacity="0.55" stroke="#1B9E77" stroke-opacity="0.3" stroke-width="0.5"/>
<line x1="507.5" y1="464" x2="522.5" y2="464" stroke="#1B9E77" stroke-width="1.2"/>
<line x1="515" y1="460.2" x2="515" y2="467.7" stroke="#1B9E77" stroke-width="1.2"/>
<line x1="510" y1="460.2" x2="520" y2="460.2" stroke="#1B9E77" stroke-width="1.2"/>
<line x1="510" y1="467.7" x2="520" y2="467.7" stroke="#1B9E77" stroke-width="1.2"/>
<circle cx="522.4" cy="416.4" r="1.65" fill="#D95F02" fill-opacity="0.55" stroke="#D95F02" stroke-opacity="0.3" stroke-width="0.5"/>
<circle cx="526.5" cy="417.5" r="1.65" fill="#D95F02" fill-opacity="0.55" stroke="#D95F02" stroke-opacity="0.3" stroke-width="0.5"/>
<circle cx="530" cy="424.2" r="1.65" fill="#D95F02" fill-opacity="0.55" stroke="#D95F02" stroke-opacity="0.3" stroke-width="0.5"/>
<line x1="518.9" y1="419.1" x2="533.9" y2="419.1" stroke="#D95F02" stroke-width="1.2"/>
<line x1="526.4" y1="417.8" x2="526.4" y2="420.5" stroke="#D95F02" stroke-width="1.2"/>
<line x1="521.4" y1="417.8" x2="531.4" y2="417.8" stroke="#D95F02" stroke-width="1.2"/>
<line x1="521.4" y1="420.5" x2="531.4" y2="420.5" stroke="#D95F02" stroke-width="1.2"/>
<line x1="618.4" y1="328.1" x2="618.4" y2="469.9" stroke="#333333" stroke-width="1"/>
<line x1="614.8" y1="328.5" x2="618.4" y2="328.5" stroke="#333333" stroke-width="1"/>
<text x="612.2" y="332.6" text-anchor="end" fill="#4d4d4d" style="font-size:10px;font-family:'DejaVu Sans', 'Liberation Sans', sans-serif;">60%</text>
<line x1="614.8" y1="379.7" x2="618.4" y2="379.7" stroke="#333333" stroke-width="1"/>
<text x="612.2" y="383.8" text-anchor="end" fill="#4d4d4d" style="font-size:10px;font-family:'DejaVu Sans', 'Liberation Sans', sans-serif;">40%</text>
<line x1="614.8" y1="431.4" x2="618.4" y2="431.4" stroke="#333333" stroke-width="1"/>
<text x="612.2" y="435.5" text-anchor="end" fill="#4d4d4d" style="font-size:10px;font-family:'DejaVu Sans', 'Liberation Sans', sans-serif;">20%</text>
<line x1="635.7" y1="476.1" x2="723.8" y2="476.1" stroke="#333333" stroke-width="1"/>
<line x1="635.7" y1="475.6" x2="635.7" y2="479" stroke="#333333" stroke-width="1"/>
<text x="635.7" y="489.3" text-anchor="middle" fill="#4d4d4d" style="font-size:9px;font-family:'DejaVu Sans', 'Liberation Sans', sans-serif;">1</text>
<line x1="665.3" y1="475.6" x2="665.3" y2="479" stroke="#333333" stroke-width="1"/>
<text x="665.3" y="489.3" text-anchor="middle" fill="#4d4d4d" style="font-size:9px;font-family:'DejaVu Sans', 'Liberation Sans', sans-serif;">2</text>
<line x1="694.4" y1="475.6" x2="694.4" y2="479" stroke="#333333" stroke-width="1"/>
<text x="694.4" y="489.3" text-anchor="middle" fill="#4d4d4d" style="font-size:9px;font-family:'DejaVu Sans', 'Liberation Sans', sans-serif;">3</text>
<line x1="723.8" y1="475.6" x2="723.8" y2="479" stroke="#333333" stroke-width="1"/>
<text x="723.8" y="489.3" text-anchor="middle" fill="#4d4d4d" style="font-size:9px;font-family:'DejaVu Sans', 'Liberation Sans', sans-serif;">4</text>
<text x="679.75" y="499.3" text-anchor="middle" fill="#1a1a1a" style="font-size:9.2px;font-family:'DejaVu Sans', 'Liberation Sans', sans-serif;">Cars2 Isoform</text>
<text x="583.6" y="400.1" text-anchor="middle" fill="#1a1a1a" style="font-size:10.5px;font-family:'DejaVu Sans', 'Liberation Sans', sans-serif;" transform="rotate(-90 583.6 400.1)">Isoform usage</text>
<circle cx="626.5" cy="392.9" r="1.65" fill="#1B9E77" fill-opacity="0.55" stroke="#1B9E77" stroke-opacity="0.3" stroke-width="0.5"/>
<circle cx="634" cy="381.8" r="1.65" fill="#1B9E77" fill-opacity="0.55" stroke="#1B9E77" stroke-opacity="0.3" stroke-width="0.5"/>
<circle cx="630.6" cy="389.9" r="1.65" fill="#1B9E77" fill-opacity="0.55" stroke="#1B9E77" stroke-opacity="0.3" stroke-width="0.5"/>
<line x1="623.1" y1="388.5" x2="638.1" y2="388.5" stroke="#1B9E77" stroke-width="1.2"/>
<line x1="630.6" y1="385.2" x2="630.6" y2="391.3" stroke="#1B9E77" stroke-width="1.2"/>
<line x1="625.6" y1="385.2" x2="635.6" y2="385.2" stroke="#1B9E77" stroke-width="1.2"/>
<line x1="625.6" y1="391.3" x2="635.6" y2="391.3" stroke="#1B9E77" stroke-width="1.2"/>
<circle cx="637.7" cy="432" r="1.65" fill="#D95F02" fill-opacity="0.55" stroke="#D95F02" stroke-opacity="0.3" stroke-width="0.5"/>
<circle cx="641.3" cy="444" r="1.65" fill="#D95F02" fill-opacity="0.55" stroke="#D95F02" stroke-opacity="0.3" stroke-width="0.5"/>
<circle cx="644.7" cy="440.5" r="1.65" fill="#D95F02" fill-opacity="0.55" stroke="#D95F02" stroke-opacity="0.3" stroke-width="0.5"/>
<line x1="634.2" y1="438.5" x2="649.2" y2="438.5" stroke="#D95F02" stroke-width="1.2"/>
<line x1="641.7" y1="435" x2="641.7" y2="442.1" stroke="#D95F02" stroke-width="1.2"/>
<line x1="636.7" y1="435" x2="646.7" y2="435" stroke="#D95F02" stroke-width="1.2"/>
<line x1="636.7" y1="442.1" x2="646.7" y2="442.1" stroke="#D95F02" stroke-width="1.2"/>
<circle cx="655.9" cy="420.7" r="1.65" fill="#1B9E77" fill-opacity="0.55" stroke="#1B9E77" stroke-opacity="0.3" stroke-width="0.5"/>
<circle cx="660.3" cy="420.7" r="1.65" fill="#1B9E77" fill-opacity="0.55" stroke="#1B9E77" stroke-opacity="0.3" stroke-width="0.5"/>
<circle cx="663.6" cy="456.3" r="1.65" fill="#1B9E77" fill-opacity="0.55" stroke="#1B9E77" stroke-opacity="0.3" stroke-width="0.5"/>
<line x1="652.1" y1="432.8" x2="667.1" y2="432.8" stroke="#1B9E77" stroke-width="1.2"/>
<line x1="659.6" y1="420.8" x2="659.6" y2="444.6" stroke="#1B9E77" stroke-width="1.2"/>
<line x1="654.6" y1="420.8" x2="664.6" y2="420.8" stroke="#1B9E77" stroke-width="1.2"/>
<line x1="654.6" y1="444.6" x2="664.6" y2="444.6" stroke="#1B9E77" stroke-width="1.2"/>
<circle cx="663.7" cy="456.8" r="1.65" fill="#D95F02" fill-opacity="0.55" stroke="#D95F02" stroke-opacity="0.3" stroke-width="0.5"/>
<circle cx="667.1" cy="460" r="1.65" fill="#D95F02" fill-opacity="0.55" stroke="#D95F02" stroke-opacity="0.3" stroke-width="0.5"/>
<circle cx="671" cy="451.3" r="1.65" fill="#D95F02" fill-opacity="0.55" stroke="#D95F02" stroke-opacity="0.3" stroke-width="0.5"/>
<circle cx="674.4" cy="451.7" r="1.65" fill="#D95F02" fill-opacity="0.55" stroke="#D95F02" stroke-opacity="0.3" stroke-width="0.5"/>
<line x1="663.1" y1="454.5" x2="678.1" y2="454.5" stroke="#D95F02" stroke-width="1.2"/>
<line x1="670.6" y1="451.7" x2="670.6" y2="457.4" stroke="#D95F02" stroke-width="1.2"/>
<line x1="665.6" y1="451.7" x2="675.6" y2="451.7" stroke="#D95F02" stroke-width="1.2"/>
<line x1="665.6" y1="457.4" x2="675.6" y2="457.4" stroke="#D95F02" stroke-width="1.2"/>
<circle cx="685.8" cy="410.3" r="1.65" fill="#1B9E77" fill-opacity="0.55" stroke="#1B9E77" stroke-opacity="0.3" stroke-width="0.5"/>
<circle cx="689.2" cy="413.4" r="1.65" fill="#1B9E77" fill-opacity="0.55" stroke="#1B9E77" stroke-opacity="0.3" stroke-width="0.5"/>
<circle cx="692.6" cy="413.9" r="1.65" fill="#1B9E77" fill-opacity="0.55" stroke="#1B9E77" stroke-opacity="0.3" stroke-width="0.5"/>
<line x1="681.7" y1="412.5" x2="696.7" y2="412.5" stroke="#1B9E77" stroke-width="1.2"/>
<line x1="689.2" y1="412" x2="689.2" y2="413.2" stroke="#1B9E77" stroke-width="1.2"/>
<line x1="684.2" y1="412" x2="694.2" y2="412" stroke="#1B9E77" stroke-width="1.2"/>
<line x1="684.2" y1="413.2" x2="694.2" y2="413.2" stroke="#1B9E77" stroke-width="1.2"/>
<circle cx="696.7" cy="329.8" r="1.65" fill="#D95F02" fill-opacity="0.55" stroke="#D95F02" stroke-opacity="0.3" stroke-width="0.5"/>
<circle cx="700.1" cy="331.9" r="1.65" fill="#D95F02" fill-opacity="0.55" stroke="#D95F02" stroke-opacity="0.3" stroke-width="0.5"/>
<circle cx="704" cy="344.2" r="1.65" fill="#D95F02" fill-opacity="0.55" stroke="#D95F02" stroke-opacity="0.3" stroke-width="0.5"/>
<line x1="692.9" y1="336" x2="707.9" y2="336" stroke="#D95F02" stroke-width="1.2"/>
<line x1="700.4" y1="331" x2="700.4" y2="340.5" stroke="#D95F02" stroke-width="1.2"/>
<line x1="695.4" y1="331" x2="705.4" y2="331" stroke="#D95F02" stroke-width="1.2"/>
<line x1="695.4" y1="340.5" x2="705.4" y2="340.5" stroke="#D95F02" stroke-width="1.2"/>
<circle cx="715" cy="456.1" r="1.65" fill="#1B9E77" fill-opacity="0.55" stroke="#1B9E77" stroke-opacity="0.3" stroke-width="0.5"/>
<circle cx="718.4" cy="469.3" r="1.65" fill="#1B9E77" fill-opacity="0.55" stroke="#1B9E77" stroke-opacity="0.3" stroke-width="0.5"/>
<circle cx="722.2" cy="469.3" r="1.65" fill="#1B9E77" fill-opacity="0.55" stroke="#1B9E77" stroke-opacity="0.3" stroke-width="0.5"/>
<line x1="711.3" y1="464.3" x2="726.3" y2="464.3" stroke="#1B9E77" stroke-width="1.2"/>
<line x1="718.8" y1="460.2" x2="718.8" y2="469.3" stroke="#1B9E77" stroke-width="1.2"/>
<line x1="713.8" y1="460.2" x2="723.8" y2="460.2" stroke="#1B9E77" stroke-width="1.2"/>
<line x1="713.8" y1="469.3" x2="723.8" y2="469.3" stroke="#1B9E77" stroke-width="1.2"/>
<circle cx="726.3" cy="469.3" r="1.65" fill="#D95F02" fill-opacity="0.55" stroke="#D95F02" stroke-opacity="0.3" stroke-width="0.5"/>
<circle cx="730.2" cy="469.3" r="1.65" fill="#D95F02" fill-opacity="0.55" stroke="#D95F02" stroke-opacity="0.3" stroke-width="0.5"/>
<circle cx="733.6" cy="469.3" r="1.65" fill="#D95F02" fill-opacity="0.55" stroke="#D95F02" stroke-opacity="0.3" stroke-width="0.5"/>
<line x1="722.1" y1="468.1" x2="737.1" y2="468.1" stroke="#D95F02" stroke-width="1.2"/>
<line x1="729.6" y1="467.4" x2="729.6" y2="468.8" stroke="#D95F02" stroke-width="1.2"/>
<line x1="724.6" y1="467.4" x2="734.6" y2="467.4" stroke="#D95F02" stroke-width="1.2"/>
<line x1="724.6" y1="468.8" x2="734.6" y2="468.8" stroke="#D95F02" stroke-width="1.2"/>
<text x="0.3" y="559.8" text-anchor="start" fill="#000" style="font-size:14px;font-family:'Liberation Sans', Arial, sans-serif;font-weight:bold;">F</text>
<text x="106.8" y="565.8" text-anchor="middle" fill="#1a1a1a" style="font-size:12.6px;font-family:'Liberation Sans', Arial, sans-serif;">Cars2-FL</text>
<text x="295.2" y="565.8" text-anchor="middle" fill="#1a1a1a" style="font-size:12.6px;font-family:'Liberation Sans', Arial, sans-serif;">Cars2-AT</text>
<path d="M48 590 L51 594 L56 593 L60 590 L64 593 L70 597 L74 600" stroke="#d8c21a" stroke-width="0.9" fill="none" stroke-linejoin="round" stroke-linecap="round"/>
<path d="M61 629 L55 631 L49 629 L46 624 L49 619 L53 616 L58 617 L61 613 L65 617 L67 622" stroke="#9ad23a" stroke-width="0.9" fill="none" stroke-linejoin="round" stroke-linecap="round"/>
<path d="M97 608 L102 609 L106 612 L103 616 L106 619 L101 620 L97 617" stroke="#2a5ae8" stroke-width="0.9" fill="none" stroke-linejoin="round" stroke-linecap="round"/>
<path d="M88 623.8 L94 624 L99 626.6 L96 629 L93 633" stroke="#2a5ae8" stroke-width="0.9" fill="none" stroke-linejoin="round" stroke-linecap="round"/>
<path d="M115 647 L120 645 L125 650 L122 655 L127 660 L121 664 L118 670 L122 676 L118 684 L121 690 L118 696" stroke="#2a5ae8" stroke-width="0.9" fill="none" stroke-linejoin="round" stroke-linecap="round"/>
<path d="M145 657 L154 656 L162 656 L167 660 L165 668 L167 676 L164 684 L158 684" stroke="#e8601a" stroke-width="0.9" fill="none" stroke-linejoin="round" stroke-linecap="round"/>
<path d="M89 675 L87 682 L92 687 L98 684 L104 690 L110 694 L114 698 L118 697 L124 693" stroke="#e8150f" stroke-width="0.9" fill="none" stroke-linejoin="round" stroke-linecap="round"/>
<path d="M110 693 L112 697 L116 700 L121 699 L125 696" stroke="#3cc83c" stroke-width="0.9" fill="none" stroke-linejoin="round" stroke-linecap="round"/>
<path d="M108 634 L112 629 L117 626 L121 622 L127 625 L133 630 L137 636" stroke="#e8150f" stroke-width="0.9" fill="none" stroke-linejoin="round" stroke-linecap="round"/>
<path d="M97 660 L103 664 L110 668" stroke="#e8150f" stroke-width="0.9" fill="none" stroke-linejoin="round" stroke-linecap="round"/>
<path d="M135 694 L138 700 L143 702 L149 699 L156 697 L161 692 L164 686" stroke="#e8150f" stroke-width="0.9" fill="none" stroke-linejoin="round" stroke-linecap="round"/>
<path d="M143 662 L150 667 L156 670" stroke="#2ab0c8" stroke-width="0.9" fill="none" stroke-linejoin="round" stroke-linecap="round"/>
<path d="M60.15 588.4 L60.54 588.1 L60.94 587.26 L61.33 585.99 L61.73 584.5 L62.12 583.01 L62.51 581.74 L62.91 580.9 L63.3 580.6 L61.5 580.6 L61.11 580.9 L60.71 581.74 L60.32 583.01 L59.92 584.5 L59.53 585.99 L59.14 587.26 L58.74 588.1 L58.35 588.4ZM66.45 588.4 L66.84 588.1 L67.24 587.26 L67.63 585.99 L68.03 584.5 L68.42 583.01 L68.81 581.74 L69.21 580.9 L69.6 580.6 L67.8 580.6 L67.41 580.9 L67.01 581.74 L66.62 583.01 L66.22 584.5 L65.83 585.99 L65.44 587.26 L65.04 588.1 L64.65 588.4Z" fill="#9d4111"/>
<path d="M57.9 580.6 L58.29 580.9 L58.69 581.74 L59.08 583.01 L59.47 584.5 L59.87 585.99 L60.26 587.26 L60.66 588.1 L61.05 588.4 L57.45 588.4 L57.06 588.1 L56.66 587.26 L56.27 585.99 L55.88 584.5 L55.48 583.01 L55.09 581.74 L54.69 580.9 L54.3 580.6ZM64.2 580.6 L64.59 580.9 L64.99 581.74 L65.38 583.01 L65.78 584.5 L66.17 585.99 L66.56 587.26 L66.96 588.1 L67.35 588.4 L63.75 588.4 L63.36 588.1 L62.96 587.26 L62.57 585.99 L62.17 584.5 L61.78 583.01 L61.39 581.74 L60.99 580.9 L60.6 580.6Z" fill="#e8601a" stroke="#9d4111" stroke-width="0.35"/>
<path d="M74.31 591.88 L74.74 591.87 L75.54 591.45 L76.62 590.71 L77.84 589.81 L79.07 588.9 L80.15 588.17 L80.94 587.74 L81.38 587.73 L80.03 586.54 L79.6 586.55 L78.8 586.97 L77.73 587.71 L76.5 588.61 L75.27 589.52 L74.2 590.25 L73.4 590.68 L72.96 590.69ZM78.08 595.24 L78.51 595.22 L79.31 594.8 L80.38 594.06 L81.61 593.16 L82.84 592.25 L83.92 591.52 L84.71 591.09 L85.15 591.08 L83.8 589.89 L83.37 589.9 L82.57 590.32 L81.49 591.06 L80.27 591.96 L79.04 592.87 L77.96 593.6 L77.17 594.03 L76.73 594.04ZM81.85 598.59 L82.28 598.57 L83.08 598.15 L84.15 597.42 L85.38 596.51 L86.61 595.6 L87.68 594.87 L88.48 594.45 L88.91 594.43 L87.57 593.24 L87.14 593.25 L86.34 593.67 L85.26 594.41 L84.04 595.31 L82.81 596.22 L81.73 596.96 L80.93 597.38 L80.5 597.39ZM85.61 601.94 L86.05 601.93 L86.85 601.5 L87.92 600.77 L89.15 599.86 L90.38 598.96 L91.45 598.22 L92.25 597.8 L92.68 597.79 L91.34 596.59 L90.9 596.6 L90.11 597.02 L89.03 597.76 L87.8 598.67 L86.58 599.57 L85.5 600.31 L84.7 600.73 L84.27 600.74ZM89.38 605.29 L89.82 605.28 L90.61 604.85 L91.69 604.12 L92.92 603.21 L94.14 602.31 L95.22 601.57 L96.02 601.15 L96.45 601.14 L95.11 599.94 L94.67 599.95 L93.88 600.37 L92.8 601.11 L91.57 602.02 L90.34 602.92 L89.27 603.66 L88.47 604.08 L88.04 604.09ZM93.15 608.64 L93.58 608.63 L94.38 608.21 L95.46 607.47 L96.69 606.56 L97.91 605.66 L98.99 604.92 L99.79 604.5 L100.22 604.49 L98.87 603.29 L98.44 603.3 L97.64 603.73 L96.57 604.46 L95.34 605.37 L94.11 606.27 L93.04 607.01 L92.24 607.43 L91.81 607.44Z" fill="#a1230d"/>
<path d="M78.28 584.98 L78.32 585.41 L77.99 586.25 L77.39 587.41 L76.63 588.73 L75.88 590.05 L75.27 591.21 L74.94 592.05 L74.98 592.48 L72.29 590.09 L72.25 589.66 L72.58 588.82 L73.19 587.66 L73.94 586.34 L74.7 585.01 L75.3 583.86 L75.63 583.02 L75.59 582.59ZM82.05 588.33 L82.09 588.76 L81.76 589.6 L81.16 590.76 L80.4 592.08 L79.64 593.41 L79.04 594.56 L78.71 595.4 L78.75 595.83 L76.06 593.44 L76.02 593.01 L76.35 592.17 L76.95 591.01 L77.71 589.69 L78.47 588.36 L79.07 587.21 L79.4 586.37 L79.36 585.94ZM85.82 591.68 L85.86 592.11 L85.53 592.95 L84.93 594.11 L84.17 595.43 L83.41 596.76 L82.81 597.91 L82.48 598.75 L82.52 599.18 L79.83 596.79 L79.79 596.36 L80.12 595.52 L80.72 594.37 L81.48 593.04 L82.24 591.72 L82.84 590.56 L83.17 589.72 L83.13 589.29ZM89.59 595.03 L89.63 595.46 L89.3 596.3 L88.69 597.46 L87.94 598.78 L87.18 600.11 L86.58 601.26 L86.25 602.1 L86.29 602.54 L83.6 600.14 L83.56 599.71 L83.89 598.87 L84.49 597.72 L85.25 596.39 L86 595.07 L86.61 593.91 L86.93 593.07 L86.9 592.64ZM93.36 598.38 L93.39 598.81 L93.07 599.66 L92.46 600.81 L91.71 602.14 L90.95 603.46 L90.34 604.61 L90.02 605.46 L90.06 605.89 L87.37 603.49 L87.33 603.06 L87.65 602.22 L88.26 601.07 L89.02 599.74 L89.77 598.42 L90.38 597.26 L90.7 596.42 L90.67 595.99ZM97.12 601.73 L97.16 602.17 L96.84 603.01 L96.23 604.16 L95.47 605.49 L94.72 606.81 L94.11 607.97 L93.79 608.81 L93.82 609.24 L91.13 606.85 L91.1 606.41 L91.42 605.57 L92.03 604.42 L92.78 603.09 L93.54 601.77 L94.15 600.61 L94.47 599.77 L94.43 599.34Z" fill="#ee3414" stroke="#a1230d" stroke-width="0.35"/>
<path d="M64.72 598.2 L65.14 598.14 L65.89 597.64 L66.88 596.8 L68.01 595.77 L69.14 594.74 L70.13 593.9 L70.88 593.4 L71.3 593.34 L69.85 592.28 L69.42 592.34 L68.67 592.84 L67.68 593.69 L66.55 594.71 L65.43 595.74 L64.43 596.58 L63.68 597.09 L63.26 597.15ZM68.75 601.11 L69.17 601.06 L69.92 600.55 L70.91 599.71 L72.04 598.68 L73.17 597.66 L74.16 596.81 L74.91 596.31 L75.33 596.25 L73.88 595.2 L73.45 595.26 L72.7 595.76 L71.71 596.6 L70.58 597.63 L69.46 598.66 L68.46 599.5 L67.72 600 L67.29 600.06ZM72.78 604.03 L73.2 603.97 L73.95 603.47 L74.95 602.63 L76.07 601.6 L77.2 600.57 L78.19 599.73 L78.94 599.23 L79.36 599.17 L77.91 598.11 L77.48 598.17 L76.73 598.67 L75.74 599.52 L74.61 600.54 L73.49 601.57 L72.49 602.41 L71.75 602.92 L71.32 602.98ZM76.81 606.95 L77.23 606.89 L77.98 606.38 L78.98 605.54 L80.1 604.51 L81.23 603.49 L82.22 602.64 L82.97 602.14 L83.4 602.08 L81.94 601.03 L81.51 601.09 L80.76 601.59 L79.77 602.43 L78.64 603.46 L77.52 604.49 L76.52 605.33 L75.78 605.83 L75.35 605.89ZM80.84 609.86 L81.27 609.8 L82.01 609.3 L83.01 608.46 L84.13 607.43 L85.26 606.4 L86.25 605.56 L87 605.06 L87.43 605 L85.97 603.94 L85.54 604 L84.79 604.5 L83.8 605.35 L82.67 606.37 L81.55 607.4 L80.55 608.24 L79.81 608.75 L79.38 608.81ZM84.87 612.78 L85.3 612.72 L86.04 612.21 L87.04 611.37 L88.16 610.34 L89.29 609.32 L90.28 608.47 L91.03 607.97 L91.46 607.91 L90 606.86 L89.57 606.92 L88.82 607.42 L87.83 608.26 L86.7 609.29 L85.58 610.32 L84.58 611.16 L83.84 611.66 L83.41 611.72Z" fill="#9b3911"/>
<path d="M68 590.95 L68.08 591.37 L67.84 592.24 L67.35 593.45 L66.72 594.84 L66.1 596.23 L65.61 597.44 L65.37 598.3 L65.45 598.73 L62.53 596.62 L62.45 596.19 L62.7 595.33 L63.18 594.12 L63.81 592.73 L64.43 591.34 L64.92 590.13 L65.16 589.26 L65.09 588.84ZM72.03 593.86 L72.11 594.29 L71.87 595.15 L71.38 596.36 L70.76 597.75 L70.13 599.15 L69.64 600.35 L69.4 601.22 L69.48 601.64 L66.56 599.53 L66.48 599.11 L66.73 598.24 L67.22 597.04 L67.84 595.64 L68.46 594.25 L68.95 593.04 L69.19 592.18 L69.12 591.75ZM76.06 596.78 L76.14 597.2 L75.9 598.07 L75.41 599.28 L74.79 600.67 L74.16 602.06 L73.67 603.27 L73.43 604.13 L73.51 604.56 L70.59 602.45 L70.51 602.02 L70.76 601.16 L71.25 599.95 L71.87 598.56 L72.49 597.17 L72.98 595.96 L73.22 595.09 L73.15 594.67ZM80.09 599.69 L80.17 600.12 L79.93 600.98 L79.44 602.19 L78.82 603.58 L78.19 604.98 L77.7 606.18 L77.46 607.05 L77.54 607.47 L74.62 605.36 L74.54 604.94 L74.79 604.07 L75.28 602.87 L75.9 601.47 L76.52 600.08 L77.01 598.87 L77.25 598.01 L77.18 597.59ZM84.12 602.61 L84.2 603.03 L83.96 603.9 L83.47 605.11 L82.85 606.5 L82.22 607.89 L81.73 609.1 L81.49 609.96 L81.57 610.39 L78.65 608.28 L78.57 607.86 L78.82 606.99 L79.31 605.78 L79.93 604.39 L80.55 603 L81.04 601.79 L81.29 600.92 L81.21 600.5ZM88.16 605.52 L88.23 605.95 L87.99 606.81 L87.5 608.02 L86.88 609.41 L86.25 610.81 L85.76 612.01 L85.52 612.88 L85.6 613.3 L82.68 611.19 L82.6 610.77 L82.85 609.9 L83.34 608.7 L83.96 607.3 L84.58 605.91 L85.07 604.71 L85.32 603.84 L85.24 603.42Z" fill="#e5541a" stroke="#9b3911" stroke-width="0.35"/>
<path d="M86.34 614.67 L86.74 614.65 L87.41 614.26 L88.27 613.58 L89.25 612.75 L90.23 611.92 L91.09 611.24 L91.76 610.85 L92.16 610.83 L90.69 609.79 L90.29 609.81 L89.63 610.2 L88.76 610.87 L87.79 611.7 L86.81 612.53 L85.94 613.21 L85.28 613.6 L84.88 613.62Z" fill="#928311"/>
<path d="M88.82 608.45 L88.93 608.83 L88.77 609.59 L88.42 610.63 L87.95 611.82 L87.48 613.01 L87.12 614.05 L86.97 614.81 L87.08 615.19 L84.15 613.1 L84.04 612.72 L84.19 611.96 L84.55 610.92 L85.02 609.73 L85.49 608.53 L85.84 607.49 L86 606.74 L85.89 606.36Z" fill="#d8c21a" stroke="#928311" stroke-width="0.35"/>
<path d="M62.37 610.33 L87.76 618.59 L87.33 619.93 L92 618.5 L89.06 614.6 L88.63 615.93 L63.23 607.67Z" stroke="#ee8a10" stroke-width="0.4" fill="#ee8a10"/>
<path d="M66.71 614.16 L90.83 620.19 L90.54 621.36 L95 620 L91.7 616.7 L91.41 617.87 L67.29 611.84Z" stroke="#ec7010" stroke-width="0.4" fill="#ec7010"/>
<path d="M91.79 618.6 L92.21 618.55 L92.82 618.11 L93.56 617.38 L94.38 616.5 L95.19 615.62 L95.93 614.89 L96.54 614.45 L96.96 614.4 L95.33 613.64 L94.91 613.69 L94.3 614.12 L93.56 614.85 L92.75 615.73 L91.93 616.62 L91.19 617.34 L90.58 617.78 L90.16 617.83Z" fill="#288828"/>
<path d="M92.53 612.32 L92.77 612.68 L92.82 613.42 L92.73 614.46 L92.57 615.65 L92.41 616.84 L92.32 617.88 L92.37 618.62 L92.6 618.98 L89.34 617.45 L89.11 617.09 L89.06 616.34 L89.15 615.31 L89.31 614.12 L89.47 612.92 L89.56 611.89 L89.51 611.15 L89.28 610.79Z" fill="#3cc83c" stroke="#288828" stroke-width="0.35"/>
<path d="M102.13 618 L102.39 618.09 L102.93 618.01 L103.66 617.79 L104.5 617.5 L105.34 617.21 L106.07 616.99 L106.61 616.91 L106.87 617 L105.87 615.51 L105.61 615.41 L105.08 615.5 L104.34 615.71 L103.5 616 L102.66 616.29 L101.93 616.51 L101.4 616.59 L101.13 616.5Z" fill="#288828"/>
<path d="M105.37 614.75 L105.35 615.03 L105.07 615.49 L104.59 616.08 L104 616.75 L103.41 617.41 L102.92 618 L102.64 618.46 L102.63 618.75 L100.63 615.75 L100.65 615.47 L100.93 615.01 L101.41 614.42 L102 613.75 L102.59 613.09 L103.07 612.49 L103.35 612.03 L103.37 611.75Z" fill="#3cc83c" stroke="#288828" stroke-width="0.35"/>
<path d="M66.92 630.03 L67.32 629.84 L67.88 629.12 L68.55 627.99 L69.28 626.65 L70.01 625.3 L70.68 624.18 L71.24 623.46 L71.65 623.27 L69.91 622.77 L69.51 622.97 L68.95 623.69 L68.28 624.81 L67.55 626.15 L66.82 627.5 L66.15 628.62 L65.59 629.34 L65.19 629.54ZM72.1 631.51 L72.5 631.31 L73.06 630.59 L73.73 629.47 L74.46 628.12 L75.19 626.78 L75.86 625.66 L76.42 624.94 L76.83 624.74 L75.09 624.25 L74.69 624.44 L74.13 625.16 L73.46 626.29 L72.73 627.63 L72 628.97 L71.33 630.1 L70.77 630.82 L70.37 631.01ZM77.28 632.98 L77.68 632.79 L78.24 632.07 L78.91 630.94 L79.64 629.6 L80.37 628.26 L81.04 627.13 L81.6 626.41 L82 626.22 L80.27 625.73 L79.87 625.92 L79.31 626.64 L78.64 627.76 L77.91 629.11 L77.18 630.45 L76.51 631.57 L75.95 632.3 L75.55 632.49ZM82.46 634.46 L82.86 634.27 L83.42 633.55 L84.09 632.42 L84.82 631.08 L85.55 629.73 L86.22 628.61 L86.78 627.89 L87.18 627.7 L85.45 627.2 L85.05 627.4 L84.49 628.12 L83.82 629.24 L83.09 630.58 L82.36 631.93 L81.69 633.05 L81.13 633.77 L80.73 633.97ZM87.64 635.94 L88.04 635.74 L88.6 635.02 L89.27 633.9 L90 632.55 L90.73 631.21 L91.4 630.09 L91.96 629.37 L92.36 629.17 L90.63 628.68 L90.23 628.87 L89.67 629.59 L89 630.72 L88.27 632.06 L87.54 633.4 L86.87 634.53 L86.31 635.25 L85.91 635.44ZM92.82 637.41 L93.22 637.22 L93.78 636.5 L94.45 635.37 L95.18 634.03 L95.91 632.69 L96.58 631.56 L97.14 630.84 L97.54 630.65 L95.81 630.16 L95.41 630.35 L94.85 631.07 L94.18 632.19 L93.45 633.54 L92.72 634.88 L92.05 636 L91.49 636.73 L91.08 636.92ZM98 638.89 L98.4 638.7 L98.96 637.97 L99.63 636.85 L100.36 635.51 L101.09 634.16 L101.76 633.04 L102.32 632.32 L102.72 632.13 L100.99 631.63 L100.59 631.83 L100.03 632.55 L99.36 633.67 L98.63 635.01 L97.9 636.36 L97.23 637.48 L96.67 638.2 L96.26 638.4ZM103.18 640.37 L103.58 640.17 L104.14 639.45 L104.81 638.33 L105.54 636.98 L106.27 635.64 L106.94 634.52 L107.5 633.8 L107.9 633.6 L106.17 633.11 L105.77 633.3 L105.21 634.02 L104.54 635.15 L103.81 636.49 L103.08 637.83 L102.41 638.96 L101.85 639.68 L101.44 639.87Z" fill="#a0270d"/>
<path d="M67.33 622.04 L67.57 622.41 L67.67 623.32 L67.64 624.63 L67.56 626.16 L67.47 627.68 L67.45 628.99 L67.54 629.9 L67.78 630.28 L64.32 629.29 L64.08 628.91 L63.99 628.01 L64.01 626.7 L64.09 625.17 L64.18 623.64 L64.2 622.33 L64.11 621.43 L63.87 621.05ZM72.51 623.51 L72.75 623.89 L72.85 624.8 L72.82 626.11 L72.74 627.63 L72.65 629.16 L72.63 630.47 L72.72 631.37 L72.96 631.75 L69.5 630.77 L69.26 630.39 L69.17 629.48 L69.19 628.17 L69.27 626.65 L69.36 625.12 L69.38 623.81 L69.29 622.9 L69.05 622.53ZM77.69 624.99 L77.93 625.37 L78.03 626.27 L78 627.58 L77.92 629.11 L77.83 630.64 L77.81 631.95 L77.9 632.85 L78.14 633.23 L74.68 632.24 L74.44 631.86 L74.35 630.96 L74.37 629.65 L74.45 628.12 L74.54 626.59 L74.56 625.29 L74.47 624.38 L74.23 624ZM82.87 626.47 L83.11 626.84 L83.2 627.75 L83.18 629.06 L83.1 630.59 L83.01 632.11 L82.99 633.42 L83.08 634.33 L83.32 634.71 L79.86 633.72 L79.62 633.34 L79.53 632.44 L79.55 631.13 L79.63 629.6 L79.72 628.07 L79.74 626.76 L79.65 625.86 L79.41 625.48ZM88.05 627.94 L88.29 628.32 L88.38 629.23 L88.36 630.54 L88.28 632.06 L88.19 633.59 L88.17 634.9 L88.26 635.8 L88.5 636.18 L85.04 635.2 L84.8 634.82 L84.71 633.91 L84.73 632.6 L84.81 631.08 L84.9 629.55 L84.92 628.24 L84.83 627.33 L84.59 626.96ZM93.23 629.42 L93.47 629.8 L93.56 630.7 L93.54 632.01 L93.46 633.54 L93.37 635.07 L93.35 636.38 L93.44 637.28 L93.68 637.66 L90.22 636.67 L89.98 636.29 L89.89 635.39 L89.91 634.08 L89.99 632.55 L90.08 631.02 L90.1 629.72 L90.01 628.81 L89.77 628.43ZM98.41 630.9 L98.65 631.27 L98.74 632.18 L98.72 633.49 L98.64 635.02 L98.55 636.54 L98.53 637.85 L98.62 638.76 L98.86 639.14 L95.4 638.15 L95.16 637.77 L95.06 636.87 L95.09 635.56 L95.17 634.03 L95.26 632.5 L95.28 631.19 L95.19 630.29 L94.95 629.91ZM103.59 632.37 L103.83 632.75 L103.92 633.66 L103.9 634.96 L103.82 636.49 L103.73 638.02 L103.71 639.33 L103.8 640.23 L104.04 640.61 L100.58 639.63 L100.34 639.25 L100.24 638.34 L100.27 637.03 L100.35 635.51 L100.44 633.98 L100.46 632.67 L100.37 631.76 L100.13 631.39Z" fill="#ec3a14" stroke="#a0270d" stroke-width="0.35"/>
<path d="M62.14 640.96 L62.56 640.82 L63.22 640.19 L64.04 639.17 L64.95 637.94 L65.87 636.72 L66.69 635.7 L67.34 635.06 L67.77 634.93 L66.13 634.19 L65.7 634.33 L65.05 634.96 L64.22 635.98 L63.31 637.21 L62.39 638.44 L61.57 639.45 L60.92 640.09 L60.49 640.22ZM67.05 643.15 L67.48 643.01 L68.13 642.38 L68.95 641.36 L69.87 640.13 L70.78 638.91 L71.61 637.89 L72.26 637.25 L72.69 637.12 L71.04 636.39 L70.61 636.52 L69.96 637.15 L69.14 638.17 L68.22 639.4 L67.31 640.63 L66.49 641.65 L65.84 642.28 L65.41 642.41ZM71.97 645.34 L72.4 645.2 L73.05 644.57 L73.87 643.55 L74.79 642.32 L75.7 641.1 L76.52 640.08 L77.17 639.44 L77.6 639.31 L75.96 638.58 L75.53 638.71 L74.88 639.35 L74.06 640.36 L73.14 641.59 L72.23 642.82 L71.4 643.84 L70.75 644.47 L70.32 644.61ZM76.88 647.53 L77.31 647.39 L77.96 646.76 L78.79 645.74 L79.7 644.51 L80.62 643.29 L81.44 642.27 L82.09 641.63 L82.52 641.5 L80.87 640.77 L80.45 640.9 L79.79 641.54 L78.97 642.56 L78.06 643.78 L77.14 645.01 L76.32 646.03 L75.67 646.66 L75.24 646.8ZM81.8 649.72 L82.23 649.59 L82.88 648.95 L83.7 647.93 L84.62 646.7 L85.53 645.48 L86.35 644.46 L87.01 643.82 L87.43 643.69 L85.79 642.96 L85.36 643.09 L84.71 643.73 L83.89 644.75 L82.97 645.97 L82.06 647.2 L81.24 648.22 L80.58 648.85 L80.16 648.99ZM86.72 651.91 L87.14 651.78 L87.8 651.14 L88.62 650.12 L89.53 648.9 L90.45 647.67 L91.27 646.65 L91.92 646.01 L92.35 645.88 L90.71 645.15 L90.28 645.28 L89.63 645.92 L88.8 646.94 L87.89 648.16 L86.97 649.39 L86.15 650.41 L85.5 651.04 L85.07 651.18ZM91.63 654.1 L92.06 653.97 L92.71 653.33 L93.53 652.31 L94.45 651.09 L95.36 649.86 L96.19 648.84 L96.84 648.21 L97.27 648.07 L95.62 647.34 L95.19 647.47 L94.54 648.11 L93.72 649.13 L92.8 650.35 L91.89 651.58 L91.07 652.6 L90.42 653.23 L89.99 653.37Z" fill="#9d0e0a"/>
<path d="M63.68 633.1 L63.86 633.51 L63.83 634.42 L63.62 635.71 L63.32 637.21 L63.02 638.71 L62.81 640.01 L62.77 640.91 L62.96 641.32 L59.67 639.86 L59.48 639.45 L59.52 638.54 L59.73 637.25 L60.03 635.75 L60.33 634.25 L60.54 632.95 L60.57 632.05 L60.39 631.64ZM68.59 635.29 L68.78 635.7 L68.74 636.61 L68.53 637.9 L68.23 639.4 L67.93 640.9 L67.73 642.2 L67.69 643.11 L67.87 643.51 L64.59 642.05 L64.4 641.64 L64.44 640.73 L64.64 639.44 L64.94 637.94 L65.25 636.44 L65.45 635.15 L65.49 634.24 L65.3 633.83ZM73.51 637.48 L73.69 637.89 L73.66 638.8 L73.45 640.09 L73.15 641.59 L72.85 643.09 L72.64 644.39 L72.6 645.3 L72.79 645.7 L69.5 644.24 L69.32 643.83 L69.35 642.92 L69.56 641.63 L69.86 640.13 L70.16 638.63 L70.37 637.34 L70.41 636.43 L70.22 636.02ZM78.42 639.68 L78.61 640.08 L78.57 640.99 L78.37 642.28 L78.07 643.79 L77.76 645.29 L77.56 646.58 L77.52 647.49 L77.71 647.89 L74.42 646.43 L74.23 646.02 L74.27 645.11 L74.48 643.82 L74.78 642.32 L75.08 640.82 L75.28 639.53 L75.32 638.62 L75.14 638.21ZM83.34 641.87 L83.53 642.27 L83.49 643.18 L83.28 644.48 L82.98 645.98 L82.68 647.48 L82.47 648.77 L82.44 649.68 L82.62 650.09 L79.33 648.62 L79.15 648.21 L79.18 647.3 L79.39 646.01 L79.69 644.51 L79.99 643.01 L80.2 641.72 L80.24 640.81 L80.05 640.4ZM88.26 644.06 L88.44 644.46 L88.41 645.37 L88.2 646.67 L87.9 648.17 L87.6 649.67 L87.39 650.96 L87.35 651.87 L87.54 652.28 L84.25 650.81 L84.06 650.4 L84.1 649.49 L84.31 648.2 L84.61 646.7 L84.91 645.2 L85.12 643.91 L85.15 643 L84.97 642.59ZM93.17 646.25 L93.36 646.66 L93.32 647.56 L93.11 648.86 L92.81 650.36 L92.51 651.86 L92.31 653.15 L92.27 654.06 L92.45 654.47 L89.17 653 L88.98 652.59 L89.02 651.68 L89.22 650.39 L89.52 648.89 L89.82 647.39 L90.03 646.1 L90.07 645.19 L89.88 644.78Z" fill="#e8150f" stroke="#9d0e0a" stroke-width="0.35"/>
<path d="M58.08 650.02 L58.51 649.93 L59.21 649.37 L60.13 648.44 L61.16 647.32 L62.2 646.2 L63.12 645.27 L63.82 644.71 L64.24 644.62 L62.7 643.69 L62.28 643.79 L61.57 644.35 L60.65 645.28 L59.62 646.4 L58.58 647.52 L57.66 648.44 L56.96 649.01 L56.54 649.1ZM62.41 652.61 L62.83 652.51 L63.54 651.95 L64.45 651.02 L65.49 649.9 L66.52 648.78 L67.44 647.86 L68.15 647.29 L68.57 647.2 L67.02 646.28 L66.6 646.37 L65.9 646.93 L64.98 647.86 L63.94 648.98 L62.91 650.1 L61.99 651.02 L61.29 651.59 L60.86 651.68ZM66.74 655.19 L67.16 655.09 L67.86 654.53 L68.78 653.6 L69.82 652.48 L70.85 651.36 L71.77 650.44 L72.47 649.87 L72.9 649.78 L71.35 648.86 L70.93 648.95 L70.22 649.52 L69.3 650.44 L68.27 651.56 L67.23 652.68 L66.32 653.61 L65.61 654.17 L65.19 654.26ZM71.06 657.77 L71.48 657.68 L72.19 657.11 L73.11 656.19 L74.14 655.07 L75.18 653.95 L76.1 653.02 L76.8 652.46 L77.22 652.36 L75.68 651.44 L75.25 651.53 L74.55 652.1 L73.63 653.02 L72.6 654.14 L71.56 655.26 L70.64 656.19 L69.94 656.75 L69.52 656.85ZM75.39 660.35 L75.81 660.26 L76.51 659.69 L77.43 658.77 L78.47 657.65 L79.5 656.53 L80.42 655.6 L81.13 655.04 L81.55 654.94 L80 654.02 L79.58 654.12 L78.88 654.68 L77.96 655.6 L76.92 656.73 L75.89 657.85 L74.97 658.77 L74.26 659.34 L73.84 659.43ZM79.71 662.93 L80.14 662.84 L80.84 662.27 L81.76 661.35 L82.79 660.23 L83.83 659.11 L84.75 658.18 L85.45 657.62 L85.87 657.53 L84.33 656.6 L83.91 656.7 L83.2 657.26 L82.28 658.19 L81.25 659.31 L80.21 660.43 L79.29 661.35 L78.59 661.92 L78.17 662.01ZM84.04 665.51 L84.46 665.42 L85.17 664.86 L86.08 663.93 L87.12 662.81 L88.15 661.69 L89.07 660.77 L89.78 660.2 L90.2 660.11 L88.65 659.19 L88.23 659.28 L87.53 659.84 L86.61 660.77 L85.57 661.89 L84.54 663.01 L83.62 663.93 L82.92 664.5 L82.49 664.59ZM88.37 668.1 L88.79 668 L89.49 667.44 L90.41 666.51 L91.45 665.39 L92.48 664.27 L93.4 663.35 L94.1 662.78 L94.53 662.69 L92.98 661.77 L92.56 661.86 L91.85 662.43 L90.94 663.35 L89.9 664.47 L88.86 665.59 L87.95 666.52 L87.24 667.08 L86.82 667.17Z" fill="#9d0e0a"/>
<path d="M60.69 642.5 L60.81 642.91 L60.65 643.8 L60.27 645.05 L59.77 646.49 L59.28 647.93 L58.9 649.18 L58.74 650.07 L58.86 650.48 L55.76 648.64 L55.65 648.22 L55.81 647.34 L56.19 646.09 L56.68 644.65 L57.18 643.2 L57.55 641.95 L57.72 641.07 L57.6 640.65ZM65.02 645.08 L65.13 645.49 L64.97 646.38 L64.59 647.63 L64.1 649.07 L63.6 650.52 L63.23 651.76 L63.06 652.65 L63.18 653.07 L60.09 651.22 L59.97 650.81 L60.14 649.92 L60.51 648.67 L61.01 647.23 L61.5 645.78 L61.88 644.54 L62.04 643.65 L61.92 643.23ZM69.34 647.66 L69.46 648.08 L69.3 648.96 L68.92 650.21 L68.43 651.65 L67.93 653.1 L67.55 654.34 L67.39 655.23 L67.51 655.65 L64.42 653.8 L64.3 653.39 L64.46 652.5 L64.84 651.25 L65.33 649.81 L65.83 648.37 L66.21 647.12 L66.37 646.23 L66.25 645.81ZM73.67 650.24 L73.79 650.66 L73.62 651.55 L73.25 652.79 L72.75 654.24 L72.26 655.68 L71.88 656.93 L71.72 657.81 L71.83 658.23 L68.74 656.39 L68.62 655.97 L68.79 655.08 L69.17 653.83 L69.66 652.39 L70.15 650.95 L70.53 649.7 L70.7 648.81 L70.58 648.4ZM77.99 652.82 L78.11 653.24 L77.95 654.13 L77.57 655.38 L77.08 656.82 L76.58 658.26 L76.2 659.51 L76.04 660.4 L76.16 660.81 L73.07 658.97 L72.95 658.55 L73.11 657.66 L73.49 656.42 L73.99 654.97 L74.48 653.53 L74.86 652.28 L75.02 651.39 L74.9 650.98ZM82.32 655.41 L82.44 655.82 L82.28 656.71 L81.9 657.96 L81.4 659.4 L80.91 660.84 L80.53 662.09 L80.37 662.98 L80.49 663.39 L77.39 661.55 L77.28 661.13 L77.44 660.25 L77.82 659 L78.31 657.55 L78.81 656.11 L79.18 654.86 L79.35 653.98 L79.23 653.56ZM86.65 657.99 L86.76 658.4 L86.6 659.29 L86.22 660.54 L85.73 661.98 L85.23 663.42 L84.86 664.67 L84.69 665.56 L84.81 665.98 L81.72 664.13 L81.6 663.71 L81.77 662.83 L82.14 661.58 L82.64 660.14 L83.13 658.69 L83.51 657.45 L83.67 656.56 L83.56 656.14ZM90.97 660.57 L91.09 660.99 L90.93 661.87 L90.55 663.12 L90.06 664.56 L89.56 666.01 L89.18 667.25 L89.02 668.14 L89.14 668.56 L86.05 666.71 L85.93 666.3 L86.09 665.41 L86.47 664.16 L86.96 662.72 L87.46 661.28 L87.84 660.03 L88 659.14 L87.88 658.72Z" fill="#e8150f" stroke="#9d0e0a" stroke-width="0.35"/>
<path d="M92.86 659.65 L93.14 659.3 L93.32 658.41 L93.43 657.1 L93.5 655.57 L93.57 654.04 L93.68 652.73 L93.86 651.84 L94.14 651.49 L92.37 651.81 L92.09 652.17 L91.91 653.06 L91.8 654.37 L91.73 655.89 L91.66 657.42 L91.55 658.73 L91.37 659.62 L91.09 659.98ZM98.25 658.66 L98.53 658.31 L98.72 657.42 L98.82 656.11 L98.89 654.58 L98.96 653.05 L99.07 651.74 L99.25 650.85 L99.53 650.5 L97.76 650.82 L97.48 651.18 L97.3 652.07 L97.19 653.38 L97.12 654.91 L97.05 656.43 L96.94 657.74 L96.76 658.63 L96.48 658.99ZM103.64 657.67 L103.92 657.32 L104.11 656.43 L104.22 655.12 L104.28 653.59 L104.35 652.06 L104.46 650.75 L104.64 649.86 L104.93 649.51 L103.16 649.83 L102.87 650.19 L102.69 651.08 L102.58 652.39 L102.51 653.92 L102.45 655.44 L102.34 656.75 L102.15 657.64 L101.87 658ZM109.03 656.68 L109.31 656.33 L109.5 655.44 L109.61 654.13 L109.67 652.6 L109.74 651.07 L109.85 649.76 L110.04 648.87 L110.32 648.52 L108.55 648.84 L108.26 649.2 L108.08 650.09 L107.97 651.4 L107.9 652.93 L107.84 654.45 L107.73 655.76 L107.54 656.65 L107.26 657.01ZM114.42 655.69 L114.71 655.34 L114.89 654.45 L115 653.14 L115.07 651.61 L115.13 650.08 L115.24 648.77 L115.43 647.88 L115.71 647.53 L113.94 647.85 L113.66 648.21 L113.47 649.1 L113.36 650.41 L113.3 651.94 L113.23 653.46 L113.12 654.77 L112.94 655.66 L112.65 656.02Z" fill="#9d0e0a"/>
<path d="M89.64 652.31 L90.03 652.54 L90.52 653.31 L91.08 654.5 L91.69 655.9 L92.3 657.31 L92.86 658.49 L93.35 659.26 L93.74 659.49 L90.2 660.14 L89.81 659.91 L89.32 659.14 L88.75 657.96 L88.15 656.55 L87.54 655.15 L86.98 653.96 L86.49 653.19 L86.1 652.96ZM95.03 651.32 L95.42 651.55 L95.91 652.32 L96.47 653.51 L97.08 654.91 L97.69 656.32 L98.25 657.5 L98.74 658.27 L99.13 658.5 L95.59 659.15 L95.2 658.92 L94.71 658.15 L94.15 656.97 L93.54 655.56 L92.93 654.16 L92.37 652.97 L91.88 652.2 L91.49 651.97ZM100.42 650.33 L100.81 650.56 L101.3 651.33 L101.87 652.52 L102.47 653.92 L103.08 655.33 L103.64 656.51 L104.13 657.28 L104.52 657.51 L100.98 658.16 L100.59 657.93 L100.1 657.16 L99.54 655.98 L98.93 654.57 L98.33 653.17 L97.76 651.98 L97.27 651.21 L96.88 650.98ZM105.81 649.34 L106.2 649.57 L106.69 650.34 L107.26 651.53 L107.86 652.93 L108.47 654.34 L109.04 655.52 L109.53 656.29 L109.92 656.52 L106.38 657.17 L105.99 656.94 L105.5 656.17 L104.93 654.99 L104.32 653.58 L103.72 652.18 L103.15 650.99 L102.66 650.22 L102.27 649.99ZM111.2 648.35 L111.59 648.58 L112.08 649.35 L112.65 650.54 L113.26 651.94 L113.86 653.35 L114.43 654.53 L114.92 655.3 L115.31 655.53 L111.77 656.18 L111.38 655.95 L110.89 655.18 L110.32 654 L109.72 652.59 L109.11 651.19 L108.54 650 L108.05 649.23 L107.66 649Z" fill="#e8150f" stroke="#9d0e0a" stroke-width="0.35"/>
<path d="M113.59 631.89 L114.01 631.87 L114.8 631.45 L115.87 630.71 L117.1 629.81 L118.32 628.91 L119.39 628.18 L120.18 627.75 L120.6 627.73 L119.27 626.52 L118.85 626.54 L118.07 626.96 L116.99 627.69 L115.77 628.6 L114.54 629.5 L113.47 630.23 L112.68 630.66 L112.26 630.67ZM117.06 635.07 L117.48 635.06 L118.27 634.63 L119.34 633.9 L120.57 633 L121.79 632.09 L122.87 631.36 L123.65 630.94 L124.07 630.92 L122.75 629.7 L122.33 629.72 L121.54 630.14 L120.47 630.88 L119.24 631.78 L118.02 632.68 L116.94 633.41 L116.16 633.84 L115.74 633.86Z" fill="#9d4111"/>
<path d="M117.79 625.16 L117.81 625.58 L117.45 626.4 L116.81 627.53 L116.02 628.83 L115.23 630.13 L114.59 631.26 L114.24 632.08 L114.25 632.5 L111.6 630.07 L111.58 629.65 L111.94 628.83 L112.58 627.7 L113.37 626.4 L114.16 625.1 L114.8 623.97 L115.15 623.14 L115.14 622.73ZM121.26 628.34 L121.28 628.76 L120.92 629.58 L120.29 630.71 L119.5 632.01 L118.7 633.31 L118.07 634.44 L117.71 635.27 L117.73 635.68 L115.07 633.25 L115.06 632.83 L115.41 632.01 L116.05 630.88 L116.84 629.58 L117.63 628.28 L118.27 627.15 L118.62 626.33 L118.61 625.91Z" fill="#e8601a" stroke="#9d4111" stroke-width="0.35"/>
<path d="M113.9 644 L114.28 643.77 L114.76 643 L115.32 641.81 L115.91 640.4 L116.51 638.99 L117.07 637.81 L117.55 637.04 L117.93 636.81 L116.16 636.48 L115.78 636.72 L115.3 637.49 L114.74 638.67 L114.14 640.08 L113.55 641.49 L112.99 642.67 L112.51 643.45 L112.13 643.68ZM119.17 644.96 L119.56 644.73 L120.04 643.96 L120.59 642.77 L121.19 641.36 L121.79 639.95 L122.34 638.77 L122.82 638 L123.21 637.76 L121.44 637.44 L121.05 637.67 L120.57 638.45 L120.02 639.63 L119.42 641.04 L118.82 642.45 L118.27 643.63 L117.79 644.4 L117.4 644.64ZM124.45 645.92 L124.83 645.69 L125.31 644.91 L125.87 643.73 L126.47 642.32 L127.06 640.91 L127.62 639.73 L128.1 638.96 L128.48 638.72 L126.71 638.4 L126.33 638.63 L125.85 639.41 L125.29 640.59 L124.7 642 L124.1 643.41 L123.54 644.59 L123.06 645.36 L122.68 645.6ZM129.73 646.88 L130.11 646.65 L130.59 645.87 L131.15 644.69 L131.74 643.28 L132.34 641.87 L132.9 640.69 L133.38 639.92 L133.76 639.68 L131.99 639.36 L131.61 639.59 L131.12 640.37 L130.57 641.55 L129.97 642.96 L129.38 644.37 L128.82 645.55 L128.34 646.32 L127.96 646.56ZM135 647.84 L135.39 647.6 L135.87 646.83 L136.42 645.65 L137.02 644.24 L137.62 642.83 L138.17 641.65 L138.65 640.87 L139.04 640.64 L137.26 640.32 L136.88 640.55 L136.4 641.32 L135.84 642.51 L135.25 643.92 L134.65 645.33 L134.1 646.51 L133.61 647.28 L133.23 647.52ZM140.28 648.8 L140.66 648.56 L141.14 647.79 L141.7 646.61 L142.3 645.2 L142.89 643.79 L143.45 642.61 L143.93 641.83 L144.31 641.6 L142.54 641.28 L142.16 641.51 L141.68 642.28 L141.12 643.47 L140.52 644.88 L139.93 646.29 L139.37 647.47 L138.89 648.24 L138.51 648.47Z" fill="#9d0e0a"/>
<path d="M113.54 636.01 L113.82 636.36 L113.99 637.25 L114.1 638.56 L114.16 640.08 L114.22 641.61 L114.33 642.92 L114.51 643.81 L114.78 644.16 L111.24 643.52 L110.96 643.16 L110.79 642.27 L110.68 640.97 L110.62 639.44 L110.56 637.91 L110.45 636.61 L110.27 635.71 L110 635.36ZM118.82 636.97 L119.09 637.32 L119.27 638.21 L119.37 639.51 L119.44 641.04 L119.5 642.57 L119.6 643.88 L119.78 644.77 L120.06 645.12 L116.52 644.48 L116.24 644.12 L116.06 643.23 L115.96 641.93 L115.9 640.4 L115.83 638.87 L115.73 637.57 L115.55 636.67 L115.27 636.32ZM124.09 637.93 L124.37 638.28 L124.55 639.17 L124.65 640.47 L124.71 642 L124.78 643.53 L124.88 644.84 L125.06 645.73 L125.34 646.08 L121.79 645.44 L121.52 645.08 L121.34 644.19 L121.23 642.89 L121.17 641.36 L121.11 639.83 L121.01 638.53 L120.83 637.63 L120.55 637.28ZM129.37 638.88 L129.65 639.24 L129.82 640.13 L129.93 641.43 L129.99 642.96 L130.05 644.49 L130.16 645.79 L130.33 646.69 L130.61 647.04 L127.07 646.39 L126.79 646.04 L126.61 645.15 L126.51 643.85 L126.45 642.32 L126.39 640.79 L126.28 639.48 L126.1 638.59 L125.83 638.24ZM134.64 639.84 L134.92 640.2 L135.1 641.09 L135.2 642.39 L135.27 643.92 L135.33 645.45 L135.43 646.75 L135.61 647.65 L135.89 648 L132.35 647.35 L132.07 647 L131.89 646.11 L131.79 644.81 L131.72 643.28 L131.66 641.75 L131.56 640.44 L131.38 639.55 L131.1 639.2ZM139.92 640.8 L140.2 641.16 L140.38 642.05 L140.48 643.35 L140.54 644.88 L140.61 646.41 L140.71 647.71 L140.89 648.61 L141.16 648.96 L137.62 648.31 L137.35 647.96 L137.17 647.07 L137.06 645.76 L137 644.24 L136.94 642.71 L136.83 641.4 L136.66 640.51 L136.38 640.16Z" fill="#e8150f" stroke="#9d0e0a" stroke-width="0.35"/>
<path d="M147.43 641.04 L147.59 641.45 L148.26 642.06 L149.32 642.82 L150.58 643.67 L151.85 644.52 L152.91 645.29 L153.58 645.9 L153.74 646.3 L154.4 644.63 L154.24 644.22 L153.58 643.61 L152.52 642.85 L151.25 642 L149.98 641.15 L148.92 640.39 L148.26 639.78 L148.1 639.37ZM145.54 645.79 L145.7 646.2 L146.37 646.81 L147.43 647.58 L148.69 648.42 L149.96 649.27 L151.02 650.04 L151.69 650.65 L151.85 651.05 L152.51 649.38 L152.35 648.97 L151.69 648.36 L150.63 647.6 L149.36 646.75 L148.09 645.9 L147.03 645.14 L146.37 644.53 L146.21 644.12ZM143.65 650.55 L143.81 650.95 L144.48 651.56 L145.54 652.33 L146.81 653.18 L148.07 654.02 L149.13 654.79 L149.8 655.4 L149.96 655.81 L150.62 654.13 L150.46 653.73 L149.8 653.12 L148.74 652.35 L147.47 651.5 L146.2 650.65 L145.14 649.89 L144.48 649.28 L144.32 648.87Z" fill="#9d0e0a"/>
<path d="M155.29 642.39 L154.9 642.57 L154 642.56 L152.7 642.39 L151.2 642.13 L149.69 641.88 L148.4 641.71 L147.49 641.69 L147.1 641.88 L148.43 638.53 L148.83 638.35 L149.73 638.36 L151.02 638.53 L152.53 638.79 L154.03 639.04 L155.33 639.21 L156.23 639.23 L156.62 639.04ZM153.4 647.14 L153.01 647.33 L152.11 647.31 L150.81 647.14 L149.31 646.88 L147.8 646.63 L146.51 646.46 L145.6 646.44 L145.21 646.63 L146.54 643.29 L146.94 643.1 L147.84 643.11 L149.13 643.28 L150.64 643.54 L152.14 643.79 L153.44 643.96 L154.34 643.98 L154.73 643.79ZM151.51 651.89 L151.12 652.08 L150.22 652.06 L148.92 651.89 L147.42 651.64 L145.91 651.38 L144.62 651.21 L143.72 651.2 L143.32 651.38 L144.65 648.04 L145.05 647.85 L145.95 647.87 L147.24 648.04 L148.75 648.29 L150.25 648.55 L151.55 648.72 L152.45 648.73 L152.84 648.54Z" fill="#e8150f" stroke="#9d0e0a" stroke-width="0.35"/>
<path d="M114.61 651.38 L114.91 651.23 L115.33 650.67 L115.84 649.81 L116.4 648.77 L116.96 647.74 L117.46 646.87 L117.88 646.31 L118.19 646.16 L116.46 645.67 L116.15 645.82 L115.73 646.37 L115.22 647.24 L114.67 648.28 L114.11 649.31 L113.6 650.18 L113.18 650.73 L112.88 650.88ZM118.48 652.48 L118.78 652.33 L119.2 651.78 L119.71 650.91 L120.27 649.88 L120.82 648.84 L121.33 647.97 L121.75 647.42 L122.06 647.27 L120.33 646.77 L120.02 646.92 L119.6 647.48 L119.09 648.35 L118.54 649.38 L117.98 650.42 L117.47 651.28 L117.05 651.84 L116.75 651.99Z" fill="#9d4111"/>
<path d="M115.19 645.3 L115.36 645.59 L115.43 646.29 L115.4 647.29 L115.33 648.47 L115.26 649.64 L115.23 650.64 L115.29 651.34 L115.47 651.63 L112.01 650.64 L111.83 650.35 L111.77 649.65 L111.79 648.65 L111.87 647.48 L111.94 646.3 L111.97 645.3 L111.9 644.6 L111.72 644.32ZM119.05 646.41 L119.23 646.7 L119.3 647.39 L119.27 648.4 L119.2 649.57 L119.12 650.74 L119.1 651.75 L119.16 652.44 L119.34 652.73 L115.88 651.74 L115.7 651.45 L115.64 650.76 L115.66 649.75 L115.74 648.58 L115.81 647.41 L115.84 646.4 L115.77 645.71 L115.59 645.42Z" fill="#e8601a" stroke="#9d4111" stroke-width="0.35"/>
<path d="M96.96 644.17 L97.38 644.34 L98.29 644.25 L99.57 643.98 L101.05 643.6 L102.53 643.23 L103.81 642.95 L104.72 642.87 L105.13 643.04 L104.32 641.43 L103.9 641.27 L103 641.35 L101.72 641.62 L100.23 642 L98.75 642.37 L97.47 642.65 L96.56 642.73 L96.15 642.57ZM99.4 648.97 L99.81 649.13 L100.72 649.05 L102 648.77 L103.48 648.4 L104.97 648.02 L106.25 647.75 L107.15 647.67 L107.57 647.83 L106.75 646.23 L106.34 646.06 L105.43 646.14 L104.15 646.42 L102.67 646.79 L101.19 647.17 L99.91 647.44 L99 647.53 L98.58 647.36Z" fill="#9d0e0a"/>
<path d="M103.11 639.04 L102.99 639.48 L102.39 640.16 L101.42 641.03 L100.24 642.01 L99.06 642.98 L98.08 643.86 L97.48 644.54 L97.37 644.97 L95.74 641.76 L95.85 641.33 L96.45 640.65 L97.43 639.77 L98.61 638.8 L99.79 637.82 L100.76 636.95 L101.36 636.27 L101.48 635.83ZM105.54 643.84 L105.43 644.27 L104.83 644.96 L103.85 645.83 L102.67 646.8 L101.5 647.78 L100.52 648.65 L99.92 649.33 L99.81 649.77 L98.18 646.56 L98.29 646.12 L98.89 645.44 L99.87 644.57 L101.04 643.59 L102.22 642.62 L103.2 641.75 L103.8 641.06 L103.91 640.63Z" fill="#e8150f" stroke="#9d0e0a" stroke-width="0.35"/>
<path d="M95.19 668.12 L118.45 664.02 L118.73 665.64 L122.1 661.7 L117.59 659.15 L117.87 660.77 L94.61 664.88Z" stroke="#c40f0a" stroke-width="0.4" fill="#e8150f"/>
<path d="M95.2 676.12 L116.87 672.06 L117.18 673.68 L120.5 669.7 L115.96 667.19 L116.26 668.82 L94.6 672.88Z" stroke="#c40f0a" stroke-width="0.4" fill="#e8150f"/>
<path d="M97.35 682.61 L114.43 678.95 L114.78 680.56 L118 676.5 L113.4 674.11 L113.74 675.72 L96.65 679.39Z" stroke="#c40f0a" stroke-width="0.4" fill="#e8150f"/>
<path d="M118.74 665.94 L105.31 681.88 L104.05 680.81 L104 686 L109.1 685.07 L107.84 684 L121.26 668.06Z" stroke="#c40f0a" stroke-width="0.4" fill="#e8150f"/>
<path d="M120.31 673.51 L120.61 673.81 L121.45 674.07 L122.68 674.31 L124.13 674.54 L125.59 674.76 L126.82 675 L127.65 675.27 L127.96 675.57 L127.84 673.78 L127.54 673.48 L126.7 673.21 L125.47 672.97 L124.01 672.74 L122.56 672.52 L121.33 672.28 L120.49 672.01 L120.19 671.71ZM120.65 678.63 L120.95 678.93 L121.79 679.2 L123.02 679.44 L124.47 679.67 L125.93 679.89 L127.16 680.13 L128 680.4 L128.3 680.7 L128.18 678.9 L127.88 678.6 L127.04 678.34 L125.81 678.1 L124.36 677.87 L122.9 677.64 L121.67 677.41 L120.83 677.14 L120.53 676.84ZM120.99 683.76 L121.29 684.06 L122.13 684.33 L123.36 684.57 L124.81 684.79 L126.27 685.02 L127.5 685.26 L128.34 685.53 L128.64 685.83 L128.52 684.03 L128.22 683.73 L127.38 683.46 L126.15 683.22 L124.7 683 L123.24 682.77 L122.01 682.53 L121.17 682.27 L120.87 681.96ZM121.33 688.89 L121.63 689.19 L122.47 689.46 L123.7 689.69 L125.16 689.92 L126.61 690.15 L127.84 690.39 L128.68 690.65 L128.98 690.95 L128.86 689.16 L128.56 688.86 L127.72 688.59 L126.49 688.35 L125.04 688.12 L123.58 687.9 L122.35 687.66 L121.52 687.39 L121.21 687.09Z" fill="#9d0e0a"/>
<path d="M127.68 671.34 L127.42 671.68 L126.63 672.06 L125.43 672.46 L124.02 672.87 L122.61 673.29 L121.42 673.69 L120.63 674.06 L120.37 674.4 L120.13 670.81 L120.39 670.47 L121.18 670.1 L122.37 669.7 L123.79 669.28 L125.2 668.87 L126.39 668.47 L127.18 668.09 L127.44 667.75ZM128.02 676.47 L127.76 676.81 L126.97 677.18 L125.77 677.59 L124.36 678 L122.95 678.42 L121.76 678.82 L120.97 679.19 L120.71 679.53 L120.47 675.94 L120.73 675.6 L121.52 675.23 L122.71 674.82 L124.13 674.41 L125.54 673.99 L126.73 673.59 L127.52 673.22 L127.78 672.88ZM128.36 681.6 L128.1 681.94 L127.31 682.31 L126.11 682.71 L124.7 683.13 L123.29 683.54 L122.1 683.94 L121.31 684.32 L121.05 684.66 L120.81 681.07 L121.07 680.73 L121.86 680.35 L123.06 679.95 L124.47 679.54 L125.88 679.12 L127.07 678.72 L127.86 678.34 L128.12 678.01ZM128.7 686.72 L128.44 687.06 L127.65 687.44 L126.46 687.84 L125.04 688.25 L123.63 688.67 L122.44 689.07 L121.65 689.45 L121.39 689.78 L121.15 686.19 L121.41 685.85 L122.2 685.48 L123.4 685.08 L124.81 684.66 L126.22 684.25 L127.41 683.85 L128.2 683.47 L128.46 683.13Z" fill="#e8150f" stroke="#9d0e0a" stroke-width="0.35"/>
<path d="M127.86 674.32 L128.11 674.63 L128.83 674.93 L129.89 675.23 L131.14 675.52 L132.39 675.82 L133.45 676.11 L134.16 676.42 L134.41 676.73 L134.37 674.93 L134.12 674.62 L133.41 674.31 L132.35 674.02 L131.1 673.72 L129.85 673.43 L128.79 673.14 L128.08 672.83 L127.82 672.52ZM127.97 679.42 L128.22 679.73 L128.93 680.04 L129.99 680.33 L131.24 680.62 L132.49 680.92 L133.55 681.21 L134.26 681.52 L134.52 681.83 L134.48 680.03 L134.23 679.72 L133.52 679.41 L132.45 679.12 L131.2 678.83 L129.95 678.53 L128.89 678.24 L128.18 677.93 L127.93 677.62ZM128.07 684.52 L128.33 684.83 L129.04 685.14 L130.1 685.43 L131.35 685.72 L132.6 686.02 L133.66 686.31 L134.37 686.62 L134.62 686.93 L134.59 685.13 L134.33 684.82 L133.62 684.51 L132.56 684.22 L131.31 683.93 L130.06 683.63 L129 683.34 L128.29 683.03 L128.04 682.72ZM128.18 689.62 L128.43 689.93 L129.14 690.24 L130.2 690.53 L131.45 690.83 L132.7 691.12 L133.77 691.41 L134.48 691.72 L134.73 692.03 L134.69 690.23 L134.44 689.92 L133.73 689.62 L132.67 689.32 L131.42 689.03 L130.17 688.73 L129.11 688.44 L128.4 688.13 L128.14 687.82Z" fill="#9d0e0a"/>
<path d="M134.32 672.53 L134.08 672.86 L133.39 673.19 L132.34 673.53 L131.1 673.87 L129.86 674.22 L128.82 674.56 L128.12 674.89 L127.88 675.22 L127.8 671.62 L128.04 671.29 L128.74 670.96 L129.79 670.62 L131.03 670.28 L132.26 669.93 L133.31 669.59 L134.01 669.26 L134.25 668.93ZM134.43 677.63 L134.19 677.96 L133.49 678.29 L132.44 678.63 L131.21 678.97 L129.97 679.32 L128.92 679.66 L128.23 679.99 L127.99 680.32 L127.91 676.72 L128.15 676.39 L128.85 676.06 L129.9 675.72 L131.13 675.38 L132.37 675.03 L133.42 674.69 L134.11 674.36 L134.36 674.03ZM134.54 682.73 L134.3 683.06 L133.6 683.39 L132.55 683.73 L131.31 684.07 L130.08 684.42 L129.03 684.76 L128.33 685.09 L128.09 685.42 L128.02 681.82 L128.26 681.49 L128.95 681.16 L130 680.82 L131.24 680.48 L132.48 680.13 L133.52 679.79 L134.22 679.46 L134.46 679.13ZM134.64 687.83 L134.4 688.16 L133.7 688.49 L132.66 688.83 L131.42 689.17 L130.18 689.52 L129.14 689.86 L128.44 690.19 L128.2 690.52 L128.12 686.92 L128.36 686.59 L129.06 686.26 L130.11 685.92 L131.35 685.58 L132.58 685.23 L133.63 684.89 L134.33 684.56 L134.57 684.23Z" fill="#e8150f" stroke="#9d0e0a" stroke-width="0.35"/>
<path d="M133.46 677.2 L133.78 677.51 L134.63 677.75 L135.88 677.94 L137.35 678.11 L138.82 678.28 L140.07 678.47 L140.92 678.71 L141.24 679.02 L141.02 677.23 L140.69 676.93 L139.85 676.68 L138.59 676.49 L137.13 676.32 L135.66 676.16 L134.41 675.96 L133.56 675.72 L133.23 675.41ZM134.15 682.7 L134.47 683.01 L135.32 683.26 L136.57 683.45 L138.04 683.62 L139.51 683.78 L140.76 683.98 L141.61 684.22 L141.93 684.53 L141.71 682.74 L141.38 682.43 L140.53 682.19 L139.28 682 L137.82 681.83 L136.35 681.66 L135.1 681.47 L134.25 681.23 L133.92 680.92ZM134.83 688.21 L135.16 688.52 L136.01 688.76 L137.26 688.96 L138.73 689.12 L140.19 689.29 L141.45 689.48 L142.29 689.73 L142.62 690.03 L142.4 688.25 L142.07 687.94 L141.22 687.7 L139.97 687.5 L138.5 687.34 L137.04 687.17 L135.79 686.98 L134.94 686.73 L134.61 686.43ZM135.52 693.72 L135.85 694.03 L136.7 694.27 L137.95 694.46 L139.42 694.63 L140.88 694.8 L142.13 694.99 L142.98 695.23 L143.31 695.54 L143.09 693.76 L142.76 693.45 L141.91 693.2 L140.66 693.01 L139.19 692.84 L137.73 692.68 L136.48 692.48 L135.63 692.24 L135.3 691.93Z" fill="#9d0e0a"/>
<path d="M140.67 674.41 L140.43 674.79 L139.66 675.23 L138.5 675.73 L137.12 676.25 L135.74 676.77 L134.57 677.27 L133.81 677.71 L133.57 678.09 L133.12 674.52 L133.36 674.14 L134.13 673.69 L135.29 673.2 L136.67 672.68 L138.05 672.15 L139.22 671.66 L139.98 671.21 L140.22 670.83ZM141.36 679.91 L141.12 680.29 L140.35 680.74 L139.19 681.23 L137.81 681.76 L136.43 682.28 L135.26 682.77 L134.5 683.22 L134.26 683.6 L133.81 680.03 L134.05 679.65 L134.82 679.2 L135.98 678.71 L137.36 678.18 L138.74 677.66 L139.91 677.17 L140.67 676.72 L140.91 676.34ZM142.04 685.42 L141.8 685.8 L141.04 686.25 L139.88 686.74 L138.5 687.26 L137.11 687.79 L135.95 688.28 L135.19 688.73 L134.95 689.1 L134.5 685.53 L134.74 685.15 L135.5 684.71 L136.67 684.21 L138.05 683.69 L139.43 683.17 L140.59 682.67 L141.36 682.23 L141.6 681.85ZM142.73 690.93 L142.49 691.31 L141.73 691.75 L140.56 692.25 L139.18 692.77 L137.8 693.29 L136.64 693.79 L135.87 694.23 L135.63 694.61 L135.19 691.04 L135.43 690.66 L136.19 690.21 L137.36 689.72 L138.74 689.2 L140.12 688.68 L141.28 688.18 L142.05 687.74 L142.29 687.36Z" fill="#e8150f" stroke="#9d0e0a" stroke-width="0.35"/>
<path d="M143.17 676.13 L158.43 673.59 L158.7 675.21 L162.1 671.3 L157.61 668.7 L157.88 670.33 L142.63 672.87Z" stroke="#c40f0a" stroke-width="0.4" fill="#e8150f"/>
<path d="M143.07 682.14 L158.19 680.56 L158.37 682.2 L162 678.5 L157.68 675.63 L157.85 677.28 L142.73 678.86Z" stroke="#c40f0a" stroke-width="0.4" fill="#e8150f"/>
<path d="M143.2 688.92 L156.86 686.44 L157.15 688.06 L160.5 684.1 L155.97 681.57 L156.27 683.19 L142.6 685.68Z" stroke="#c40f0a" stroke-width="0.4" fill="#e8150f"/>
<path d="M160.37 689.36 L145.85 690.53 L145.72 688.89 L142 692.5 L146.25 695.47 L146.12 693.82 L160.63 692.64Z" stroke="#c40f0a" stroke-width="0.4" fill="#e8150f"/>
<path d="M251.7 590 L255 592 L258.4 588.7 L262 591 L266 594" stroke="#d8c21a" stroke-width="0.9" fill="none" stroke-linejoin="round" stroke-linecap="round"/>
<path d="M268 628 L264 631 L258 633 L252 630 L250.3 624 L253 619 L257 616 L262 614 L267 617 L270 621" stroke="#9ad23a" stroke-width="0.9" fill="none" stroke-linejoin="round" stroke-linecap="round"/>
<path d="M302 619 L306.4 618 L311 614 L315 612 L319 613 L323 610 L327 610 L330.4 606.7" stroke="#2a5ae8" stroke-width="0.9" fill="none" stroke-linejoin="round" stroke-linecap="round"/>
<path d="M290.4 624.7 L295 625 L299.7 622 L302 618 L298 616" stroke="#2ab0c8" stroke-width="0.9" fill="none" stroke-linejoin="round" stroke-linecap="round"/>
<path d="M325.1 639.4 L330 643 L335 640 L339 643 L342.5 647.4 L336 648 L331 650" stroke="#3cc83c" stroke-width="0.9" fill="none" stroke-linejoin="round" stroke-linecap="round"/>
<path d="M306 651.4 L309 656 L312.8 662 L316 658" stroke="#e8150f" stroke-width="0.9" fill="none" stroke-linejoin="round" stroke-linecap="round"/>
<path d="M313 681 L313 688 L318 693 L324 697 L330 699.4 L333 694" stroke="#e8150f" stroke-width="0.9" fill="none" stroke-linejoin="round" stroke-linecap="round"/>
<path d="M296 668 L301 670 L303 664 L301 658" stroke="#e8150f" stroke-width="0.9" fill="none" stroke-linejoin="round" stroke-linecap="round"/>
<path d="M262.1 588.46 L262.41 588.19 L262.79 587.39 L263.21 586.16 L263.66 584.71 L264.11 583.26 L264.54 582.04 L264.91 581.23 L265.22 580.97 L263.43 580.76 L263.12 581.02 L262.75 581.83 L262.33 583.05 L261.88 584.5 L261.42 585.95 L261 587.17 L260.63 587.98 L260.32 588.24ZM266.48 588.98 L266.79 588.72 L267.16 587.91 L267.59 586.69 L268.04 585.24 L268.49 583.79 L268.91 582.57 L269.29 581.76 L269.59 581.5 L267.81 581.28 L267.5 581.54 L267.13 582.35 L266.7 583.57 L266.25 585.02 L265.8 586.47 L265.38 587.7 L265 588.5 L264.69 588.77ZM270.86 589.5 L271.16 589.24 L271.54 588.43 L271.96 587.21 L272.41 585.76 L272.86 584.31 L273.29 583.09 L273.66 582.28 L273.97 582.02 L272.18 581.81 L271.87 582.07 L271.5 582.88 L271.08 584.1 L270.63 585.55 L270.17 587 L269.75 588.22 L269.38 589.03 L269.07 589.29Z" fill="#9d4111"/>
<path d="M261.74 580.56 L261.98 580.88 L262.15 581.76 L262.27 583.04 L262.37 584.56 L262.46 586.07 L262.59 587.36 L262.76 588.23 L263 588.56 L259.42 588.13 L259.19 587.81 L259.01 586.93 L258.89 585.65 L258.79 584.13 L258.7 582.62 L258.57 581.33 L258.4 580.46 L258.16 580.13ZM266.11 581.08 L266.35 581.41 L266.52 582.28 L266.65 583.57 L266.74 585.08 L266.84 586.6 L266.96 587.89 L267.14 588.76 L267.37 589.09 L263.8 588.66 L263.56 588.33 L263.39 587.46 L263.26 586.17 L263.17 584.65 L263.07 583.14 L262.95 581.85 L262.78 580.98 L262.54 580.65ZM270.49 581.6 L270.73 581.93 L270.9 582.8 L271.02 584.09 L271.12 585.61 L271.21 587.12 L271.34 588.41 L271.51 589.28 L271.75 589.61 L268.17 589.18 L267.94 588.85 L267.76 587.98 L267.64 586.69 L267.54 585.18 L267.45 583.66 L267.33 582.38 L267.15 581.5 L266.91 581.18Z" fill="#e8601a" stroke="#9d4111" stroke-width="0.35"/>
<path d="M278.58 593.52 L279 593.48 L279.76 593 L280.78 592.19 L281.94 591.21 L283.1 590.22 L284.12 589.42 L284.88 588.94 L285.3 588.89 L283.89 587.78 L283.47 587.82 L282.71 588.3 L281.69 589.11 L280.53 590.09 L279.37 591.08 L278.35 591.88 L277.59 592.36 L277.17 592.41ZM282.34 596.5 L282.76 596.45 L283.52 595.98 L284.54 595.17 L285.7 594.19 L286.86 593.2 L287.88 592.4 L288.64 591.92 L289.06 591.87 L287.65 590.76 L287.23 590.8 L286.47 591.28 L285.45 592.09 L284.29 593.07 L283.13 594.05 L282.11 594.86 L281.35 595.34 L280.93 595.38ZM286.1 599.48 L286.52 599.43 L287.28 598.95 L288.3 598.15 L289.47 597.16 L290.63 596.18 L291.65 595.37 L292.41 594.9 L292.83 594.85 L291.41 593.73 L290.99 593.78 L290.24 594.26 L289.21 595.06 L288.05 596.05 L286.89 597.03 L285.87 597.84 L285.11 598.31 L284.69 598.36ZM289.87 602.46 L290.29 602.41 L291.05 601.93 L292.07 601.13 L293.23 600.14 L294.39 599.16 L295.41 598.35 L296.17 597.87 L296.59 597.83 L295.18 596.71 L294.76 596.76 L294 597.23 L292.98 598.04 L291.82 599.02 L290.66 600.01 L289.63 600.82 L288.87 601.29 L288.46 601.34ZM293.63 605.43 L294.05 605.39 L294.81 604.91 L295.83 604.1 L296.99 603.12 L298.15 602.14 L299.17 601.33 L299.93 600.85 L300.35 600.81 L298.94 599.69 L298.52 599.74 L297.76 600.21 L296.74 601.02 L295.58 602 L294.42 602.99 L293.4 603.79 L292.64 604.27 L292.22 604.32ZM297.39 608.41 L297.81 608.36 L298.57 607.89 L299.59 607.08 L300.75 606.1 L301.91 605.11 L302.94 604.31 L303.69 603.83 L304.11 603.78 L302.7 602.67 L302.28 602.71 L301.52 603.19 L300.5 604 L299.34 604.98 L298.18 605.96 L297.16 606.77 L296.4 607.25 L295.98 607.29Z" fill="#a11c0d"/>
<path d="M282.24 586.48 L282.29 586.89 L282 587.74 L281.45 588.92 L280.76 590.28 L280.07 591.63 L279.52 592.81 L279.23 593.66 L279.28 594.08 L276.46 591.85 L276.41 591.43 L276.7 590.58 L277.25 589.4 L277.94 588.04 L278.63 586.69 L279.18 585.51 L279.47 584.66 L279.42 584.24ZM286.01 589.45 L286.06 589.87 L285.77 590.72 L285.22 591.9 L284.53 593.26 L283.84 594.61 L283.29 595.79 L283 596.64 L283.05 597.06 L280.22 594.82 L280.17 594.41 L280.46 593.56 L281.01 592.38 L281.7 591.02 L282.39 589.67 L282.94 588.49 L283.23 587.64 L283.18 587.22ZM289.77 592.43 L289.82 592.85 L289.53 593.7 L288.98 594.88 L288.29 596.23 L287.6 597.59 L287.05 598.77 L286.76 599.62 L286.81 600.04 L283.99 597.8 L283.94 597.38 L284.23 596.53 L284.78 595.36 L285.47 594 L286.16 592.64 L286.71 591.47 L287 590.62 L286.95 590.2ZM293.53 595.41 L293.58 595.83 L293.29 596.68 L292.74 597.85 L292.05 599.21 L291.36 600.57 L290.81 601.75 L290.52 602.6 L290.57 603.01 L287.75 600.78 L287.7 600.36 L287.99 599.51 L288.54 598.33 L289.23 596.98 L289.92 595.62 L290.47 594.44 L290.76 593.59 L290.71 593.17ZM297.29 598.39 L297.35 598.81 L297.06 599.65 L296.51 600.83 L295.82 602.19 L295.12 603.55 L294.57 604.72 L294.28 605.57 L294.34 605.99 L291.51 603.76 L291.46 603.34 L291.75 602.49 L292.3 601.31 L292.99 599.96 L293.68 598.6 L294.23 597.42 L294.52 596.57 L294.47 596.15ZM301.06 601.36 L301.11 601.78 L300.82 602.63 L300.27 603.81 L299.58 605.17 L298.89 606.52 L298.34 607.7 L298.05 608.55 L298.1 608.97 L295.28 606.74 L295.22 606.32 L295.51 605.47 L296.06 604.29 L296.75 602.93 L297.45 601.58 L298 600.4 L298.29 599.55 L298.23 599.13Z" fill="#ee2a14" stroke="#a11c0d" stroke-width="0.35"/>
<path d="M268.98 598.84 L269.42 598.76 L270.15 598.21 L271.09 597.31 L272.16 596.21 L273.22 595.11 L274.17 594.2 L274.9 593.66 L275.34 593.58 L273.8 592.64 L273.36 592.72 L272.63 593.27 L271.69 594.17 L270.62 595.27 L269.56 596.37 L268.61 597.28 L267.88 597.82 L267.44 597.9ZM273.58 601.64 L274.03 601.56 L274.75 601.02 L275.7 600.11 L276.76 599.01 L277.83 597.91 L278.77 597.01 L279.5 596.46 L279.94 596.38 L278.41 595.45 L277.96 595.52 L277.24 596.07 L276.29 596.98 L275.23 598.08 L274.16 599.18 L273.22 600.08 L272.49 600.63 L272.05 600.71ZM278.19 604.45 L278.63 604.37 L279.36 603.82 L280.3 602.92 L281.37 601.82 L282.43 600.72 L283.38 599.81 L284.11 599.27 L284.55 599.19 L283.01 598.25 L282.57 598.33 L281.84 598.88 L280.89 599.78 L279.83 600.88 L278.77 601.98 L277.82 602.89 L277.09 603.43 L276.65 603.51ZM282.79 607.25 L283.23 607.17 L283.96 606.63 L284.91 605.72 L285.97 604.62 L287.04 603.52 L287.98 602.62 L288.71 602.07 L289.15 601.99 L287.61 601.06 L287.17 601.13 L286.44 601.68 L285.5 602.59 L284.43 603.69 L283.37 604.78 L282.42 605.69 L281.7 606.24 L281.25 606.31ZM287.4 610.06 L287.84 609.98 L288.57 609.43 L289.51 608.53 L290.58 607.43 L291.64 606.33 L292.59 605.42 L293.31 604.87 L293.76 604.8 L292.22 603.86 L291.78 603.94 L291.05 604.49 L290.1 605.39 L289.04 606.49 L287.97 607.59 L287.03 608.49 L286.3 609.04 L285.86 609.12ZM292 612.86 L292.44 612.78 L293.17 612.24 L294.12 611.33 L295.18 610.23 L296.24 609.13 L297.19 608.23 L297.92 607.68 L298.36 607.6 L296.82 606.66 L296.38 606.74 L295.65 607.29 L294.71 608.19 L293.64 609.29 L292.58 610.39 L291.63 611.3 L290.91 611.85 L290.46 611.92Z" fill="#993611"/>
<path d="M271.5 591.24 L271.64 591.67 L271.48 592.57 L271.11 593.82 L270.63 595.27 L270.14 596.72 L269.77 597.98 L269.61 598.88 L269.75 599.31 L266.67 597.43 L266.54 597 L266.69 596.11 L267.06 594.85 L267.55 593.4 L268.04 591.95 L268.41 590.7 L268.56 589.8 L268.43 589.37ZM276.11 594.05 L276.24 594.48 L276.09 595.37 L275.72 596.63 L275.23 598.08 L274.74 599.53 L274.37 600.78 L274.22 601.68 L274.35 602.11 L271.28 600.24 L271.14 599.81 L271.3 598.91 L271.67 597.66 L272.16 596.21 L272.64 594.76 L273.01 593.5 L273.17 592.6 L273.03 592.17ZM280.71 596.85 L280.85 597.28 L280.69 598.18 L280.32 599.43 L279.83 600.88 L279.35 602.33 L278.98 603.59 L278.82 604.49 L278.96 604.91 L275.88 603.04 L275.75 602.61 L275.9 601.72 L276.27 600.46 L276.76 599.01 L277.25 597.56 L277.62 596.3 L277.77 595.41 L277.64 594.98ZM285.32 599.66 L285.45 600.08 L285.3 600.98 L284.93 602.24 L284.44 603.69 L283.95 605.14 L283.58 606.39 L283.43 607.29 L283.56 607.72 L280.49 605.85 L280.35 605.42 L280.5 604.52 L280.88 603.26 L281.36 601.81 L281.85 600.36 L282.22 599.11 L282.37 598.21 L282.24 597.78ZM289.92 602.46 L290.05 602.89 L289.9 603.79 L289.53 605.04 L289.04 606.49 L288.55 607.94 L288.18 609.2 L288.03 610.1 L288.16 610.52 L285.09 608.65 L284.96 608.22 L285.11 607.33 L285.48 606.07 L285.97 604.62 L286.46 603.17 L286.83 601.91 L286.98 601.02 L286.85 600.59ZM294.52 605.26 L294.66 605.69 L294.51 606.59 L294.14 607.85 L293.65 609.3 L293.16 610.75 L292.79 612 L292.64 612.9 L292.77 613.33 L289.69 611.46 L289.56 611.03 L289.71 610.13 L290.08 608.87 L290.57 607.42 L291.06 605.97 L291.43 604.72 L291.58 603.82 L291.45 603.39Z" fill="#e2501a" stroke="#993611" stroke-width="0.35"/>
<path d="M294.7 614.2 L295.11 614.19 L295.79 613.79 L296.65 613.1 L297.62 612.25 L298.6 611.4 L299.46 610.71 L300.14 610.31 L300.55 610.3 L299.06 609.3 L298.64 609.32 L297.97 609.71 L297.1 610.4 L296.13 611.25 L295.16 612.1 L294.29 612.79 L293.62 613.19 L293.2 613.2Z" fill="#928311"/>
<path d="M296.8 607.79 L296.94 608.19 L296.83 608.96 L296.53 610.03 L296.12 611.25 L295.71 612.47 L295.41 613.54 L295.3 614.31 L295.44 614.7 L292.45 612.71 L292.31 612.31 L292.41 611.54 L292.72 610.47 L293.13 609.25 L293.53 608.03 L293.84 606.96 L293.95 606.19 L293.8 605.8Z" fill="#d8c21a" stroke="#928311" stroke-width="0.35"/>
<path d="M265.88 608.7 L288.87 617.83 L288.35 619.13 L293.1 618 L290.42 613.92 L289.9 615.22 L266.92 606.1Z" stroke="#ec7a10" stroke-width="0.4" fill="#ec7a10"/>
<path d="M271.82 631.05 L272.2 630.84 L272.71 630.1 L273.33 628.95 L273.99 627.58 L274.66 626.21 L275.28 625.06 L275.79 624.31 L276.17 624.1 L274.42 623.66 L274.04 623.88 L273.53 624.62 L272.92 625.77 L272.25 627.14 L271.58 628.51 L270.97 629.66 L270.45 630.4 L270.08 630.62ZM276.72 632.28 L277.1 632.07 L277.61 631.33 L278.23 630.18 L278.9 628.81 L279.56 627.43 L280.18 626.28 L280.69 625.54 L281.07 625.33 L279.32 624.89 L278.94 625.1 L278.43 625.85 L277.82 627 L277.15 628.37 L276.48 629.74 L275.87 630.89 L275.36 631.63 L274.98 631.84ZM281.62 633.51 L282 633.3 L282.51 632.56 L283.13 631.4 L283.8 630.03 L284.47 628.66 L285.08 627.51 L285.59 626.77 L285.97 626.56 L284.22 626.12 L283.85 626.33 L283.33 627.07 L282.72 628.23 L282.05 629.6 L281.38 630.97 L280.77 632.12 L280.26 632.86 L279.88 633.07ZM286.52 634.74 L286.9 634.53 L287.41 633.78 L288.03 632.63 L288.7 631.26 L289.37 629.89 L289.98 628.74 L290.49 628 L290.87 627.79 L289.12 627.35 L288.75 627.56 L288.23 628.3 L287.62 629.45 L286.95 630.82 L286.28 632.2 L285.67 633.35 L285.16 634.09 L284.78 634.3ZM291.43 635.97 L291.8 635.75 L292.32 635.01 L292.93 633.86 L293.6 632.49 L294.27 631.12 L294.88 629.97 L295.39 629.23 L295.77 629.01 L294.03 628.58 L293.65 628.79 L293.14 629.53 L292.52 630.68 L291.85 632.05 L291.18 633.42 L290.57 634.57 L290.06 635.32 L289.68 635.53ZM296.33 637.19 L296.71 636.98 L297.22 636.24 L297.83 635.09 L298.5 633.72 L299.17 632.35 L299.78 631.2 L300.29 630.45 L300.67 630.24 L298.93 629.8 L298.55 630.02 L298.04 630.76 L297.42 631.91 L296.75 633.28 L296.08 634.65 L295.47 635.8 L294.96 636.55 L294.58 636.76ZM301.23 638.42 L301.61 638.21 L302.12 637.47 L302.73 636.32 L303.4 634.95 L304.07 633.58 L304.68 632.42 L305.2 631.68 L305.57 631.47 L303.83 631.03 L303.45 631.24 L302.94 631.99 L302.32 633.14 L301.65 634.51 L300.99 635.88 L300.37 637.03 L299.86 637.77 L299.48 637.98ZM306.13 639.65 L306.51 639.44 L307.02 638.7 L307.63 637.55 L308.3 636.17 L308.97 634.8 L309.58 633.65 L310.1 632.91 L310.47 632.7 L308.73 632.26 L308.35 632.47 L307.84 633.22 L307.22 634.37 L306.56 635.74 L305.89 637.11 L305.27 638.26 L304.76 639 L304.38 639.21Z" fill="#a0320d"/>
<path d="M272.14 623.09 L272.37 623.46 L272.47 624.35 L272.47 625.66 L272.42 627.18 L272.36 628.71 L272.36 630.01 L272.46 630.91 L272.69 631.27 L269.2 630.4 L268.97 630.03 L268.87 629.14 L268.87 627.83 L268.93 626.31 L268.98 624.78 L268.98 623.48 L268.88 622.58 L268.65 622.22ZM277.04 624.32 L277.28 624.68 L277.38 625.58 L277.37 626.89 L277.32 628.41 L277.26 629.93 L277.26 631.24 L277.36 632.14 L277.6 632.5 L274.1 631.63 L273.87 631.26 L273.77 630.36 L273.77 629.06 L273.83 627.54 L273.88 626.01 L273.88 624.71 L273.78 623.81 L273.55 623.45ZM281.94 625.55 L282.18 625.91 L282.28 626.81 L282.28 628.11 L282.22 629.64 L282.16 631.16 L282.16 632.47 L282.26 633.36 L282.5 633.73 L279 632.85 L278.77 632.49 L278.67 631.59 L278.67 630.29 L278.73 628.76 L278.78 627.24 L278.78 625.93 L278.68 625.04 L278.45 624.67ZM286.84 626.78 L287.08 627.14 L287.18 628.04 L287.18 629.34 L287.12 630.87 L287.06 632.39 L287.06 633.69 L287.16 634.59 L287.4 634.96 L283.91 634.08 L283.67 633.72 L283.57 632.82 L283.57 631.52 L283.63 629.99 L283.68 628.47 L283.69 627.16 L283.59 626.27 L283.35 625.9ZM291.74 628 L291.98 628.37 L292.08 629.27 L292.08 630.57 L292.02 632.09 L291.96 633.62 L291.96 634.92 L292.06 635.82 L292.3 636.18 L288.81 635.31 L288.57 634.94 L288.47 634.05 L288.47 632.74 L288.53 631.22 L288.59 629.7 L288.59 628.39 L288.49 627.49 L288.25 627.13ZM296.64 629.23 L296.88 629.6 L296.98 630.49 L296.98 631.8 L296.92 633.32 L296.87 634.85 L296.86 636.15 L296.97 637.05 L297.2 637.41 L293.71 636.54 L293.47 636.17 L293.37 635.28 L293.37 633.97 L293.43 632.45 L293.49 630.92 L293.49 629.62 L293.39 628.72 L293.15 628.36ZM301.55 630.46 L301.78 630.83 L301.88 631.72 L301.88 633.03 L301.82 634.55 L301.77 636.08 L301.77 637.38 L301.87 638.28 L302.1 638.64 L298.61 637.77 L298.37 637.4 L298.27 636.5 L298.27 635.2 L298.33 633.68 L298.39 632.15 L298.39 630.85 L298.29 629.95 L298.05 629.59ZM306.45 631.69 L306.68 632.05 L306.78 632.95 L306.78 634.25 L306.72 635.78 L306.67 637.3 L306.67 638.61 L306.77 639.5 L307 639.87 L303.51 638.99 L303.28 638.63 L303.17 637.73 L303.18 636.43 L303.23 634.9 L303.29 633.38 L303.29 632.08 L303.19 631.18 L302.95 630.81Z" fill="#ec4a14" stroke="#a0320d" stroke-width="0.35"/>
<path d="M265.11 642.62 L265.55 642.5 L266.23 641.9 L267.1 640.92 L268.08 639.74 L269.05 638.56 L269.92 637.58 L270.6 636.97 L271.04 636.86 L269.43 636.06 L268.99 636.17 L268.31 636.77 L267.44 637.75 L266.47 638.93 L265.49 640.12 L264.62 641.09 L263.94 641.7 L263.5 641.81ZM270 645.06 L270.43 644.94 L271.12 644.34 L271.99 643.36 L272.96 642.18 L273.93 641 L274.8 640.02 L275.49 639.42 L275.92 639.3 L274.31 638.5 L273.88 638.61 L273.19 639.21 L272.32 640.19 L271.35 641.38 L270.38 642.56 L269.51 643.54 L268.82 644.14 L268.39 644.25ZM274.88 647.5 L275.32 647.39 L276 646.78 L276.87 645.8 L277.84 644.62 L278.82 643.44 L279.69 642.46 L280.37 641.86 L280.81 641.74 L279.2 640.94 L278.76 641.05 L278.08 641.66 L277.21 642.63 L276.23 643.82 L275.26 645 L274.39 645.98 L273.71 646.58 L273.27 646.69ZM279.76 649.94 L280.2 649.83 L280.88 649.22 L281.75 648.25 L282.73 647.06 L283.7 645.88 L284.57 644.9 L285.25 644.3 L285.69 644.18 L284.08 643.38 L283.64 643.49 L282.96 644.1 L282.09 645.08 L281.12 646.26 L280.14 647.44 L279.27 648.42 L278.59 649.02 L278.15 649.14ZM284.64 652.38 L285.08 652.27 L285.76 651.67 L286.64 650.69 L287.61 649.5 L288.58 648.32 L289.45 647.34 L290.14 646.74 L290.57 646.63 L288.96 645.82 L288.53 645.93 L287.84 646.54 L286.97 647.52 L286 648.7 L285.03 649.88 L284.15 650.86 L283.47 651.46 L283.03 651.58ZM289.53 654.82 L289.96 654.71 L290.65 654.11 L291.52 653.13 L292.49 651.95 L293.46 650.76 L294.34 649.78 L295.02 649.18 L295.46 649.07 L293.85 648.26 L293.41 648.38 L292.73 648.98 L291.85 649.96 L290.88 651.14 L289.91 652.32 L289.04 653.3 L288.35 653.91 L287.92 654.02ZM294.41 657.27 L294.85 657.15 L295.53 656.55 L296.4 655.57 L297.37 654.39 L298.35 653.2 L299.22 652.23 L299.9 651.62 L300.34 651.51 L298.73 650.7 L298.29 650.82 L297.61 651.42 L296.74 652.4 L295.76 653.58 L294.79 654.76 L293.92 655.74 L293.24 656.35 L292.8 656.46Z" fill="#9d0e0a"/>
<path d="M266.96 634.82 L267.14 635.24 L267.06 636.15 L266.8 637.43 L266.44 638.92 L266.08 640.41 L265.82 641.69 L265.74 642.6 L265.92 643.02 L262.7 641.41 L262.52 640.99 L262.6 640.08 L262.86 638.8 L263.22 637.31 L263.58 635.82 L263.84 634.54 L263.92 633.63 L263.74 633.21ZM271.85 637.26 L272.02 637.68 L271.95 638.59 L271.69 639.87 L271.32 641.36 L270.96 642.85 L270.7 644.13 L270.63 645.04 L270.8 645.46 L267.58 643.85 L267.41 643.43 L267.48 642.52 L267.74 641.24 L268.1 639.75 L268.47 638.26 L268.73 636.98 L268.8 636.07 L268.63 635.65ZM276.73 639.7 L276.9 640.12 L276.83 641.03 L276.57 642.32 L276.21 643.8 L275.84 645.29 L275.58 646.57 L275.51 647.48 L275.68 647.9 L272.46 646.29 L272.29 645.87 L272.36 644.96 L272.62 643.68 L272.99 642.19 L273.35 640.71 L273.61 639.42 L273.68 638.51 L273.51 638.09ZM281.61 642.15 L281.79 642.56 L281.71 643.47 L281.45 644.76 L281.09 646.24 L280.73 647.73 L280.47 649.02 L280.39 649.93 L280.57 650.34 L277.35 648.73 L277.17 648.32 L277.25 647.41 L277.51 646.12 L277.87 644.63 L278.23 643.15 L278.49 641.86 L278.57 640.95 L278.39 640.54ZM286.5 644.59 L286.67 645.01 L286.6 645.91 L286.33 647.2 L285.97 648.69 L285.61 650.17 L285.35 651.46 L285.28 652.37 L285.45 652.78 L282.23 651.17 L282.06 650.76 L282.13 649.85 L282.39 648.56 L282.75 647.08 L283.11 645.59 L283.38 644.3 L283.45 643.4 L283.28 642.98ZM291.38 647.03 L291.55 647.45 L291.48 648.36 L291.22 649.64 L290.85 651.13 L290.49 652.61 L290.23 653.9 L290.16 654.81 L290.33 655.23 L287.11 653.62 L286.94 653.2 L287.01 652.29 L287.27 651.01 L287.64 649.52 L288 648.03 L288.26 646.75 L288.33 645.84 L288.16 645.42ZM296.26 649.47 L296.43 649.89 L296.36 650.8 L296.1 652.08 L295.74 653.57 L295.38 655.06 L295.11 656.34 L295.04 657.25 L295.21 657.67 L291.99 656.06 L291.82 655.64 L291.89 654.73 L292.16 653.45 L292.52 651.96 L292.88 650.47 L293.14 649.19 L293.21 648.28 L293.04 647.86Z" fill="#e8150f" stroke="#9d0e0a" stroke-width="0.35"/>
<path d="M261.46 650.82 L261.88 650.74 L262.61 650.21 L263.57 649.33 L264.65 648.26 L265.74 647.19 L266.7 646.31 L267.42 645.77 L267.85 645.7 L266.35 644.7 L265.92 644.78 L265.2 645.31 L264.24 646.19 L263.15 647.26 L262.07 648.33 L261.11 649.21 L260.38 649.75 L259.96 649.82ZM265.6 653.57 L266.02 653.49 L266.75 652.96 L267.7 652.08 L268.79 651.01 L269.87 649.94 L270.83 649.06 L271.56 648.52 L271.98 648.45 L270.48 647.45 L270.06 647.53 L269.33 648.06 L268.38 648.94 L267.29 650.01 L266.21 651.08 L265.25 651.96 L264.52 652.5 L264.1 652.57ZM269.73 656.32 L270.16 656.24 L270.88 655.71 L271.84 654.83 L272.93 653.76 L274.01 652.69 L274.97 651.81 L275.7 651.27 L276.12 651.2 L274.62 650.2 L274.2 650.28 L273.47 650.81 L272.51 651.69 L271.43 652.76 L270.34 653.83 L269.38 654.72 L268.66 655.25 L268.23 655.32ZM273.87 659.07 L274.29 659 L275.02 658.46 L275.98 657.58 L277.07 656.51 L278.15 655.44 L279.11 654.56 L279.84 654.03 L280.26 653.95 L278.76 652.95 L278.34 653.03 L277.61 653.56 L276.65 654.44 L275.57 655.51 L274.48 656.58 L273.52 657.47 L272.8 658 L272.37 658.07ZM278.01 661.82 L278.43 661.75 L279.16 661.21 L280.12 660.33 L281.2 659.26 L282.29 658.19 L283.25 657.31 L283.97 656.78 L284.4 656.7 L282.9 655.7 L282.47 655.78 L281.75 656.31 L280.79 657.19 L279.7 658.26 L278.62 659.34 L277.66 660.22 L276.93 660.75 L276.51 660.82ZM282.15 664.57 L282.57 664.5 L283.3 663.96 L284.26 663.08 L285.34 662.01 L286.43 660.94 L287.38 660.06 L288.11 659.53 L288.53 659.45 L287.04 658.46 L286.61 658.53 L285.89 659.06 L284.93 659.94 L283.84 661.02 L282.76 662.09 L281.8 662.97 L281.07 663.5 L280.65 663.58ZM286.28 667.32 L286.71 667.25 L287.43 666.72 L288.39 665.83 L289.48 664.76 L290.56 663.69 L291.52 662.81 L292.25 662.28 L292.67 662.2 L291.17 661.21 L290.75 661.28 L290.02 661.81 L289.06 662.7 L287.98 663.77 L286.89 664.84 L285.94 665.72 L285.21 666.25 L284.79 666.33ZM290.42 670.07 L290.85 670 L291.57 669.47 L292.53 668.58 L293.62 667.51 L294.7 666.44 L295.66 665.56 L296.39 665.03 L296.81 664.95 L295.31 663.96 L294.89 664.03 L294.16 664.56 L293.2 665.45 L292.12 666.52 L291.03 667.59 L290.07 668.47 L289.35 669 L288.92 669.08Z" fill="#9d0e0a"/>
<path d="M264.46 643.45 L264.55 643.86 L264.34 644.74 L263.9 645.97 L263.33 647.38 L262.76 648.8 L262.32 650.02 L262.11 650.9 L262.21 651.32 L259.21 649.32 L259.12 648.9 L259.32 648.03 L259.77 646.8 L260.33 645.39 L260.9 643.97 L261.34 642.75 L261.55 641.87 L261.46 641.45ZM268.59 646.2 L268.69 646.62 L268.48 647.49 L268.04 648.72 L267.47 650.13 L266.9 651.55 L266.46 652.77 L266.25 653.65 L266.35 654.07 L263.35 652.07 L263.25 651.65 L263.46 650.78 L263.9 649.55 L264.47 648.14 L265.04 646.72 L265.48 645.5 L265.69 644.62 L265.6 644.2ZM272.73 648.95 L272.83 649.37 L272.62 650.24 L272.18 651.47 L271.61 652.88 L271.04 654.3 L270.6 655.52 L270.39 656.4 L270.48 656.82 L267.49 654.82 L267.39 654.41 L267.6 653.53 L268.04 652.3 L268.61 650.89 L269.18 649.47 L269.62 648.25 L269.83 647.37 L269.73 646.95ZM276.87 651.7 L276.96 652.12 L276.76 652.99 L276.31 654.22 L275.75 655.63 L275.18 657.05 L274.74 658.27 L274.53 659.15 L274.62 659.57 L271.62 657.58 L271.53 657.16 L271.74 656.28 L272.18 655.06 L272.75 653.64 L273.32 652.23 L273.76 651 L273.97 650.12 L273.87 649.7ZM281.01 654.45 L281.1 654.87 L280.89 655.74 L280.45 656.97 L279.88 658.38 L279.32 659.8 L278.87 661.02 L278.66 661.9 L278.76 662.32 L275.76 660.33 L275.67 659.91 L275.88 659.03 L276.32 657.81 L276.89 656.39 L277.45 654.98 L277.9 653.75 L278.1 652.87 L278.01 652.46ZM285.15 657.2 L285.24 657.62 L285.03 658.49 L284.59 659.72 L284.02 661.14 L283.45 662.55 L283.01 663.78 L282.8 664.65 L282.9 665.07 L279.9 663.08 L279.8 662.66 L280.01 661.78 L280.46 660.56 L281.02 659.14 L281.59 657.73 L282.03 656.5 L282.24 655.63 L282.15 655.21ZM289.28 659.95 L289.38 660.37 L289.17 661.25 L288.73 662.47 L288.16 663.89 L287.59 665.3 L287.15 666.53 L286.94 667.4 L287.03 667.82 L284.04 665.83 L283.94 665.41 L284.15 664.53 L284.59 663.31 L285.16 661.89 L285.73 660.48 L286.17 659.25 L286.38 658.38 L286.29 657.96ZM293.42 662.7 L293.52 663.12 L293.31 664 L292.86 665.22 L292.3 666.64 L291.73 668.05 L291.29 669.28 L291.08 670.15 L291.17 670.57 L288.17 668.58 L288.08 668.16 L288.29 667.28 L288.73 666.06 L289.3 664.64 L289.87 663.23 L290.31 662 L290.52 661.13 L290.42 660.71Z" fill="#e8150f" stroke="#9d0e0a" stroke-width="0.35"/>
<path d="M302.62 642.2 L303.01 642.31 L303.89 642.15 L305.13 641.8 L306.58 641.33 L308.03 640.87 L309.27 640.52 L310.15 640.36 L310.54 640.47 L309.69 638.88 L309.29 638.78 L308.42 638.93 L307.17 639.29 L305.73 639.75 L304.28 640.21 L303.03 640.57 L302.16 640.72 L301.76 640.62ZM304.75 646.14 L305.14 646.25 L306.02 646.1 L307.26 645.74 L308.71 645.28 L310.16 644.82 L311.4 644.46 L312.28 644.31 L312.67 644.41 L311.82 642.83 L311.42 642.72 L310.55 642.88 L309.3 643.23 L307.85 643.69 L306.41 644.16 L305.16 644.51 L304.29 644.67 L303.89 644.56ZM306.88 650.09 L307.27 650.19 L308.15 650.04 L309.39 649.68 L310.84 649.22 L312.29 648.76 L313.53 648.4 L314.41 648.25 L314.8 648.36 L313.95 646.77 L313.55 646.67 L312.68 646.82 L311.43 647.18 L309.98 647.64 L308.54 648.1 L307.29 648.46 L306.41 648.61 L306.02 648.51Z" fill="#9d0e0a"/>
<path d="M308.84 637.31 L308.71 637.7 L308.1 638.35 L307.12 639.2 L305.94 640.15 L304.76 641.11 L303.78 641.96 L303.17 642.61 L303.04 642.99 L301.33 639.83 L301.46 639.44 L302.07 638.79 L303.05 637.94 L304.23 636.99 L305.41 636.03 L306.39 635.18 L307 634.53 L307.13 634.15ZM310.97 641.26 L310.84 641.65 L310.23 642.29 L309.25 643.14 L308.07 644.1 L306.89 645.05 L305.91 645.9 L305.3 646.55 L305.17 646.94 L303.46 643.77 L303.59 643.38 L304.2 642.73 L305.18 641.89 L306.36 640.93 L307.54 639.97 L308.52 639.13 L309.13 638.48 L309.26 638.09ZM313.1 645.2 L312.97 645.59 L312.36 646.24 L311.38 647.09 L310.2 648.04 L309.02 649 L308.04 649.85 L307.43 650.49 L307.3 650.88 L305.59 647.71 L305.72 647.33 L306.33 646.68 L307.31 645.83 L308.49 644.87 L309.67 643.92 L310.65 643.07 L311.26 642.42 L311.39 642.04Z" fill="#e8150f" stroke="#9d0e0a" stroke-width="0.35"/>
<path d="M317.15 631.01 L317.55 631.04 L318.39 630.74 L319.56 630.17 L320.9 629.46 L322.24 628.75 L323.41 628.18 L324.24 627.87 L324.65 627.91 L323.53 626.5 L323.12 626.46 L322.28 626.77 L321.12 627.34 L319.78 628.05 L318.43 628.76 L317.27 629.33 L316.43 629.64 L316.02 629.6ZM319.96 634.54 L320.37 634.57 L321.21 634.27 L322.37 633.7 L323.72 632.99 L325.06 632.27 L326.22 631.71 L327.06 631.4 L327.47 631.43 L326.34 630.03 L325.94 629.99 L325.1 630.3 L323.94 630.87 L322.59 631.58 L321.25 632.29 L320.09 632.86 L319.25 633.17 L318.84 633.13ZM322.78 638.07 L323.19 638.1 L324.03 637.79 L325.19 637.23 L326.53 636.51 L327.88 635.8 L329.04 635.23 L329.88 634.93 L330.29 634.96 L329.16 633.56 L328.75 633.52 L327.92 633.83 L326.75 634.4 L325.41 635.11 L324.07 635.82 L322.9 636.39 L322.07 636.69 L321.66 636.66Z" fill="#9d4111"/>
<path d="M322.39 625.08 L322.34 625.49 L321.85 626.23 L321.04 627.24 L320.05 628.4 L319.06 629.55 L318.25 630.56 L317.76 631.31 L317.71 631.71 L315.46 628.9 L315.52 628.49 L316 627.74 L316.81 626.73 L317.8 625.58 L318.79 624.43 L319.61 623.42 L320.09 622.67 L320.15 622.27ZM325.21 628.61 L325.16 629.01 L324.67 629.76 L323.86 630.77 L322.87 631.92 L321.88 633.08 L321.07 634.09 L320.58 634.83 L320.53 635.24 L318.28 632.43 L318.34 632.02 L318.82 631.27 L319.63 630.26 L320.62 629.11 L321.61 627.96 L322.43 626.95 L322.91 626.2 L322.97 625.8ZM328.03 632.14 L327.97 632.54 L327.49 633.29 L326.68 634.3 L325.69 635.45 L324.7 636.61 L323.88 637.62 L323.4 638.36 L323.34 638.77 L321.1 635.96 L321.15 635.55 L321.64 634.8 L322.45 633.79 L323.44 632.64 L324.43 631.49 L325.24 630.48 L325.73 629.73 L325.78 629.32Z" fill="#e8601a" stroke="#9d4111" stroke-width="0.35"/>
<path d="M318.1 652.04 L318.31 645.04 L319.61 645.08 L317.1 642 L314.41 644.92 L315.71 644.96 L315.5 651.96Z" stroke="#ec6a12" stroke-width="0.4" fill="#ec6a12"/>
<path d="M321.1 643.58 L321.52 650.23 L320.23 650.31 L323 653 L325.41 649.99 L324.12 650.07 L323.7 643.42Z" stroke="#ec6a12" stroke-width="0.4" fill="#ec6a12"/>
<path d="M314.17 682.29 L317.33 667.6 L318.7 667.9 L316.8 663.4 L313.22 666.72 L314.59 667.02 L311.43 681.71Z" stroke="#c40f0a" stroke-width="0.4" fill="#e8150f"/>
<path d="M316.14 675.07 L326.26 668.05 L327 669.12 L328.8 664.7 L324.03 664.84 L324.77 665.91 L314.66 672.93Z" stroke="#c40f0a" stroke-width="0.4" fill="#e8150f"/>
<path d="M324.69 672.13 L325.05 672.39 L325.92 672.51 L327.19 672.53 L328.66 672.5 L330.13 672.47 L331.39 672.5 L332.26 672.62 L332.62 672.87 L332.18 671.13 L331.82 670.87 L330.95 670.75 L329.69 670.73 L328.21 670.76 L326.74 670.79 L325.48 670.77 L324.61 670.64 L324.25 670.39ZM326.02 677.32 L326.38 677.57 L327.25 677.69 L328.51 677.72 L329.98 677.69 L331.45 677.65 L332.72 677.68 L333.59 677.8 L333.95 678.05 L333.5 676.31 L333.14 676.06 L332.27 675.93 L331.01 675.91 L329.54 675.94 L328.06 675.97 L326.8 675.95 L325.93 675.83 L325.57 675.57ZM327.34 682.5 L327.7 682.75 L328.57 682.88 L329.83 682.9 L331.3 682.87 L332.78 682.84 L334.04 682.86 L334.91 682.98 L335.27 683.24 L334.82 681.49 L334.46 681.24 L333.59 681.12 L332.33 681.09 L330.86 681.12 L329.38 681.15 L328.12 681.13 L327.25 681.01 L326.89 680.75ZM328.66 687.68 L329.02 687.93 L329.89 688.06 L331.15 688.08 L332.62 688.05 L334.1 688.02 L335.36 688.04 L336.23 688.17 L336.59 688.42 L336.14 686.67 L335.78 686.42 L334.91 686.3 L333.65 686.28 L332.18 686.31 L330.71 686.34 L329.45 686.31 L328.58 686.19 L328.22 685.94ZM329.98 692.86 L330.34 693.12 L331.21 693.24 L332.47 693.26 L333.95 693.23 L335.42 693.2 L336.68 693.22 L337.55 693.35 L337.91 693.6 L337.47 691.86 L337.11 691.6 L336.24 691.48 L334.98 691.46 L333.5 691.49 L332.03 691.52 L330.77 691.5 L329.9 691.37 L329.54 691.12Z" fill="#9d0e0a"/>
<path d="M331.52 668.56 L331.33 668.96 L330.62 669.48 L329.53 670.11 L328.22 670.78 L326.91 671.46 L325.82 672.09 L325.11 672.61 L324.92 673.01 L324.03 669.52 L324.22 669.12 L324.93 668.6 L326.02 667.97 L327.33 667.3 L328.64 666.62 L329.73 665.99 L330.44 665.47 L330.63 665.07ZM332.85 673.74 L332.65 674.14 L331.95 674.66 L330.85 675.29 L329.54 675.97 L328.23 676.64 L327.14 677.27 L326.43 677.79 L326.24 678.19 L325.35 674.7 L325.54 674.31 L326.25 673.78 L327.34 673.16 L328.65 672.48 L329.96 671.8 L331.06 671.17 L331.76 670.65 L331.96 670.26ZM334.17 678.93 L333.97 679.32 L333.27 679.85 L332.17 680.47 L330.86 681.15 L329.56 681.83 L328.46 682.45 L327.76 682.98 L327.56 683.37 L326.67 679.88 L326.87 679.49 L327.57 678.96 L328.67 678.34 L329.97 677.66 L331.28 676.98 L332.38 676.36 L333.08 675.83 L333.28 675.44ZM335.49 684.11 L335.3 684.5 L334.59 685.03 L333.49 685.65 L332.19 686.33 L330.88 687.01 L329.78 687.63 L329.08 688.16 L328.88 688.55 L327.99 685.07 L328.19 684.67 L328.89 684.15 L329.99 683.52 L331.3 682.84 L332.6 682.16 L333.7 681.54 L334.41 681.01 L334.6 680.62ZM336.81 689.29 L336.62 689.69 L335.91 690.21 L334.82 690.83 L333.51 691.51 L332.2 692.19 L331.1 692.82 L330.4 693.34 L330.21 693.74 L329.32 690.25 L329.51 689.85 L330.21 689.33 L331.31 688.7 L332.62 688.02 L333.93 687.35 L335.02 686.72 L335.73 686.2 L335.92 685.8Z" fill="#e8150f" stroke="#9d0e0a" stroke-width="0.35"/>
<line x1="33" y1="745.6" x2="43.5" y2="745.6" stroke="#000" stroke-width="1.3"/>
<line x1="153" y1="745.6" x2="163" y2="745.6" stroke="#000" stroke-width="1.3"/>
<rect x="2.9" y="724.2" width="30.9" height="42.4" rx="3.2" ry="3.2" fill="#E69F00"/>
<rect x="42.6" y="724.2" width="111" height="42.4" rx="3.2" ry="3.2" fill="#56B4E9"/>
<rect x="162.1" y="724.2" width="48.8" height="42.4" rx="3.2" ry="3.2" fill="#009E73"/>
<line x1="59.6" y1="724.2" x2="59.6" y2="766.6" stroke="#000" stroke-width="1.3"/>
<line x1="72.5" y1="724.2" x2="72.5" y2="766.6" stroke="#000" stroke-width="1.3"/>
<line x1="129.2" y1="724.2" x2="129.2" y2="766.6" stroke="#000" stroke-width="1.3"/>
<line x1="142.7" y1="724.2" x2="142.7" y2="766.6" stroke="#000" stroke-width="1.3"/>
<text x="17.3" y="750" text-anchor="middle" fill="#000" style="font-size:10.8px;font-family:'Liberation Sans', Arial, sans-serif;">ML</text>
<text x="95.4" y="743.5" text-anchor="middle" fill="#000" style="font-size:10.8px;font-family:'Liberation Sans', Arial, sans-serif;">catalytic</text>
<text x="95.4" y="756.6" text-anchor="middle" fill="#000" style="font-size:10.8px;font-family:'Liberation Sans', Arial, sans-serif;">domain</text>
<text x="186.5" y="742" text-anchor="middle" fill="#000" style="font-size:10.8px;font-family:'Liberation Sans', Arial, sans-serif;">anticodon</text>
<text x="183.6" y="755.8" text-anchor="middle" fill="#000" style="font-size:10.8px;font-family:'Liberation Sans', Arial, sans-serif;">binding</text>
<text x="72.6" y="720.4" text-anchor="middle" fill="#000" style="font-size:9.3px;font-family:'Liberation Sans', Arial, sans-serif;">K109/112</text>
<text x="141.8" y="720.4" text-anchor="middle" fill="#000" style="font-size:9.3px;font-family:'Liberation Sans', Arial, sans-serif;">K303/306</text>
<text x="59.6" y="777.8" text-anchor="middle" fill="#000" style="font-size:9.3px;font-family:'Liberation Sans', Arial, sans-serif;">C63</text>
<text x="129.2" y="777.8" text-anchor="middle" fill="#000" style="font-size:9.3px;font-family:'Liberation Sans', Arial, sans-serif;">C242</text>
<line x1="302.5" y1="745.1" x2="313" y2="745.1" stroke="#000" stroke-width="1.3"/>
<rect x="230.8" y="724.2" width="72.4" height="42.4" rx="3.2" ry="3.2" fill="#56B4E9"/>
<rect x="312.5" y="724.2" width="48.8" height="42.4" rx="3.2" ry="3.2" fill="#009E73"/>
<line x1="278.8" y1="724.2" x2="278.8" y2="766.6" stroke="#000" stroke-width="1.3"/>
<line x1="291.8" y1="724.2" x2="291.8" y2="766.6" stroke="#000" stroke-width="1.3"/>
<text x="255.6" y="743.5" text-anchor="middle" fill="#000" style="font-size:10.8px;font-family:'Liberation Sans', Arial, sans-serif;">catalytic</text>
<text x="255.6" y="756.6" text-anchor="middle" fill="#000" style="font-size:10.8px;font-family:'Liberation Sans', Arial, sans-serif;">domain</text>
<text x="336.9" y="742" text-anchor="middle" fill="#000" style="font-size:10.8px;font-family:'Liberation Sans', Arial, sans-serif;">anticodon</text>
<text x="333.7" y="755.8" text-anchor="middle" fill="#000" style="font-size:10.8px;font-family:'Liberation Sans', Arial, sans-serif;">binding</text>
<text x="385.9" y="560.1" text-anchor="start" fill="#000" style="font-size:14px;font-family:'Liberation Sans', Arial, sans-serif;font-weight:bold;">G</text>
<text x="488.9" y="568.8" text-anchor="middle" fill="#1a1a1a" style="font-size:10.2px;font-family:'Liberation Sans', Arial, sans-serif;">Cars2-FL</text>
<text x="632.2" y="568.8" text-anchor="middle" fill="#1a1a1a" style="font-size:10.2px;font-family:'Liberation Sans', Arial, sans-serif;">Cars2-AT</text>
<line x1="424.9" y1="577.2" x2="424.9" y2="751.3" stroke="#333333" stroke-width="1.6"/>
<line x1="421.6" y1="581.1" x2="424.9" y2="581.1" stroke="#333333" stroke-width="1"/>
<text x="418.4" y="585" text-anchor="end" fill="#4d4d4d" style="font-size:9.6px;font-family:'DejaVu Sans', 'Liberation Sans', sans-serif;">30</text>
<line x1="421.6" y1="633.6" x2="424.9" y2="633.6" stroke="#333333" stroke-width="1"/>
<text x="418.4" y="637.5" text-anchor="end" fill="#4d4d4d" style="font-size:9.6px;font-family:'DejaVu Sans', 'Liberation Sans', sans-serif;">10</text>
<line x1="421.6" y1="691.2" x2="424.9" y2="691.2" stroke="#333333" stroke-width="1"/>
<text x="418.4" y="695.1" text-anchor="end" fill="#4d4d4d" style="font-size:9.6px;font-family:'DejaVu Sans', 'Liberation Sans', sans-serif;">3</text>
<line x1="421.6" y1="743.4" x2="424.9" y2="743.4" stroke="#333333" stroke-width="1"/>
<text x="418.4" y="747.3" text-anchor="end" fill="#4d4d4d" style="font-size:9.6px;font-family:'DejaVu Sans', 'Liberation Sans', sans-serif;">1</text>
<line x1="448.5" y1="758.4" x2="529.4" y2="758.4" stroke="#333333" stroke-width="1.3"/>
<line x1="448.5" y1="757.8" x2="448.5" y2="762.6" stroke="#333333" stroke-width="1.2"/>
<text x="448.5" y="771.6" text-anchor="middle" fill="#4d4d4d" style="font-size:8.8px;font-family:'DejaVu Sans', 'Liberation Sans', sans-serif;">empty</text>
<line x1="489.2" y1="757.8" x2="489.2" y2="762.6" stroke="#333333" stroke-width="1.2"/>
<text x="489.2" y="771.6" text-anchor="middle" fill="#4d4d4d" style="font-size:8.8px;font-family:'DejaVu Sans', 'Liberation Sans', sans-serif;">FL1</text>
<line x1="529.4" y1="757.8" x2="529.4" y2="762.6" stroke="#333333" stroke-width="1.2"/>
<text x="529.4" y="771.6" text-anchor="middle" fill="#4d4d4d" style="font-size:8.8px;font-family:'DejaVu Sans', 'Liberation Sans', sans-serif;">AT2</text>
<line x1="591" y1="758.4" x2="672.4" y2="758.4" stroke="#333333" stroke-width="1.3"/>
<line x1="591" y1="757.8" x2="591" y2="762.6" stroke="#333333" stroke-width="1.2"/>
<text x="591" y="771.6" text-anchor="middle" fill="#4d4d4d" style="font-size:8.8px;font-family:'DejaVu Sans', 'Liberation Sans', sans-serif;">empty</text>
<line x1="631.9" y1="757.8" x2="631.9" y2="762.6" stroke="#333333" stroke-width="1.2"/>
<text x="631.9" y="771.6" text-anchor="middle" fill="#4d4d4d" style="font-size:8.8px;font-family:'DejaVu Sans', 'Liberation Sans', sans-serif;">FL1</text>
<line x1="672.4" y1="757.8" x2="672.4" y2="762.6" stroke="#333333" stroke-width="1.2"/>
<text x="672.4" y="771.6" text-anchor="middle" fill="#4d4d4d" style="font-size:8.8px;font-family:'DejaVu Sans', 'Liberation Sans', sans-serif;">AT2</text>
<text x="557.7" y="788" text-anchor="middle" fill="#1a1a1a" style="font-size:12.3px;font-family:'Liberation Sans', Arial, sans-serif;">sgRNA</text>
<text x="395.3" y="666.9" text-anchor="middle" fill="#1a1a1a" style="font-size:11.8px;font-family:'Liberation Sans', Arial, sans-serif;" transform="rotate(-90 395.3 666.9)">Rel. expr. vs. Gtf2b and empty ctrl</text>
<line x1="433.5" y1="743.9" x2="448.5" y2="743.9" stroke="#1B9E77" stroke-width="1.3"/>
<line x1="441" y1="743.9" x2="441" y2="743.9" stroke="#1B9E77" stroke-width="1.3"/>
<line x1="436" y1="743.9" x2="446" y2="743.9" stroke="#1B9E77" stroke-width="1.3"/>
<line x1="436" y1="743.9" x2="446" y2="743.9" stroke="#1B9E77" stroke-width="1.3"/>
<circle cx="434.5" cy="743.9" r="2.3" fill="#1B9E77" fill-opacity="0.55" stroke="#1B9E77" stroke-opacity="0.35" stroke-width="0.6"/>
<circle cx="437.9" cy="743.9" r="2.3" fill="#1B9E77" fill-opacity="0.55" stroke="#1B9E77" stroke-opacity="0.35" stroke-width="0.6"/>
<circle cx="441.1" cy="743.9" r="2.3" fill="#1B9E77" fill-opacity="0.55" stroke="#1B9E77" stroke-opacity="0.35" stroke-width="0.6"/>
<circle cx="444.4" cy="743.9" r="2.3" fill="#1B9E77" fill-opacity="0.55" stroke="#1B9E77" stroke-opacity="0.35" stroke-width="0.6"/>
<circle cx="447.4" cy="743.9" r="2.3" fill="#1B9E77" fill-opacity="0.55" stroke="#1B9E77" stroke-opacity="0.35" stroke-width="0.6"/>
<line x1="448.8" y1="744.9" x2="463.8" y2="744.9" stroke="#D95F02" stroke-width="1.3"/>
<line x1="456.3" y1="743.8" x2="456.3" y2="746" stroke="#D95F02" stroke-width="1.3"/>
<line x1="451.3" y1="743.8" x2="461.3" y2="743.8" stroke="#D95F02" stroke-width="1.3"/>
<line x1="451.3" y1="746" x2="461.3" y2="746" stroke="#D95F02" stroke-width="1.3"/>
<circle cx="450.6" cy="750" r="2.3" fill="#D95F02" fill-opacity="0.55" stroke="#D95F02" stroke-opacity="0.35" stroke-width="0.6"/>
<circle cx="454.4" cy="744.5" r="2.3" fill="#D95F02" fill-opacity="0.55" stroke="#D95F02" stroke-opacity="0.35" stroke-width="0.6"/>
<circle cx="458.2" cy="745.4" r="2.3" fill="#D95F02" fill-opacity="0.55" stroke="#D95F02" stroke-opacity="0.35" stroke-width="0.6"/>
<circle cx="462" cy="742.4" r="2.3" fill="#D95F02" fill-opacity="0.55" stroke="#D95F02" stroke-opacity="0.35" stroke-width="0.6"/>
<line x1="474.1" y1="700.6" x2="489.1" y2="700.6" stroke="#1B9E77" stroke-width="1.3"/>
<line x1="481.6" y1="695.5" x2="481.6" y2="705.6" stroke="#1B9E77" stroke-width="1.3"/>
<line x1="476.6" y1="695.5" x2="486.6" y2="695.5" stroke="#1B9E77" stroke-width="1.3"/>
<line x1="476.6" y1="705.6" x2="486.6" y2="705.6" stroke="#1B9E77" stroke-width="1.3"/>
<circle cx="475.9" cy="712.2" r="2.3" fill="#1B9E77" fill-opacity="0.55" stroke="#1B9E77" stroke-opacity="0.35" stroke-width="0.6"/>
<circle cx="479.7" cy="693.2" r="2.3" fill="#1B9E77" fill-opacity="0.55" stroke="#1B9E77" stroke-opacity="0.35" stroke-width="0.6"/>
<circle cx="483.5" cy="703.1" r="2.3" fill="#1B9E77" fill-opacity="0.55" stroke="#1B9E77" stroke-opacity="0.35" stroke-width="0.6"/>
<circle cx="487.3" cy="691.7" r="2.3" fill="#1B9E77" fill-opacity="0.55" stroke="#1B9E77" stroke-opacity="0.35" stroke-width="0.6"/>
<line x1="489.3" y1="707.8" x2="504.3" y2="707.8" stroke="#D95F02" stroke-width="1.3"/>
<line x1="496.8" y1="702.5" x2="496.8" y2="713.2" stroke="#D95F02" stroke-width="1.3"/>
<line x1="491.8" y1="702.5" x2="501.8" y2="702.5" stroke="#D95F02" stroke-width="1.3"/>
<line x1="491.8" y1="713.2" x2="501.8" y2="713.2" stroke="#D95F02" stroke-width="1.3"/>
<circle cx="491.1" cy="714.5" r="2.3" fill="#D95F02" fill-opacity="0.55" stroke="#D95F02" stroke-opacity="0.35" stroke-width="0.6"/>
<circle cx="494.9" cy="710.7" r="2.3" fill="#D95F02" fill-opacity="0.55" stroke="#D95F02" stroke-opacity="0.35" stroke-width="0.6"/>
<circle cx="498.7" cy="714.5" r="2.3" fill="#D95F02" fill-opacity="0.55" stroke="#D95F02" stroke-opacity="0.35" stroke-width="0.6"/>
<circle cx="502.5" cy="691.7" r="2.3" fill="#D95F02" fill-opacity="0.55" stroke="#D95F02" stroke-opacity="0.35" stroke-width="0.6"/>
<line x1="514.7" y1="740.1" x2="529.7" y2="740.1" stroke="#1B9E77" stroke-width="1.3"/>
<line x1="522.2" y1="735.4" x2="522.2" y2="744.9" stroke="#1B9E77" stroke-width="1.3"/>
<line x1="517.2" y1="735.4" x2="527.2" y2="735.4" stroke="#1B9E77" stroke-width="1.3"/>
<line x1="517.2" y1="744.9" x2="527.2" y2="744.9" stroke="#1B9E77" stroke-width="1.3"/>
<circle cx="516.1" cy="743.9" r="2.3" fill="#1B9E77" fill-opacity="0.55" stroke="#1B9E77" stroke-opacity="0.35" stroke-width="0.6"/>
<circle cx="519.9" cy="750.2" r="2.3" fill="#1B9E77" fill-opacity="0.55" stroke="#1B9E77" stroke-opacity="0.35" stroke-width="0.6"/>
<circle cx="523.7" cy="737.8" r="2.3" fill="#1B9E77" fill-opacity="0.55" stroke="#1B9E77" stroke-opacity="0.35" stroke-width="0.6"/>
<circle cx="527.5" cy="729.1" r="2.3" fill="#1B9E77" fill-opacity="0.55" stroke="#1B9E77" stroke-opacity="0.35" stroke-width="0.6"/>
<line x1="529.5" y1="744.9" x2="544.5" y2="744.9" stroke="#D95F02" stroke-width="1.3"/>
<line x1="537" y1="743" x2="537" y2="746.5" stroke="#D95F02" stroke-width="1.3"/>
<line x1="532" y1="743" x2="542" y2="743" stroke="#D95F02" stroke-width="1.3"/>
<line x1="532" y1="746.5" x2="542" y2="746.5" stroke="#D95F02" stroke-width="1.3"/>
<circle cx="531.3" cy="747.3" r="2.3" fill="#D95F02" fill-opacity="0.55" stroke="#D95F02" stroke-opacity="0.35" stroke-width="0.6"/>
<circle cx="535.1" cy="742" r="2.3" fill="#D95F02" fill-opacity="0.55" stroke="#D95F02" stroke-opacity="0.35" stroke-width="0.6"/>
<circle cx="538.9" cy="748.7" r="2.3" fill="#D95F02" fill-opacity="0.55" stroke="#D95F02" stroke-opacity="0.35" stroke-width="0.6"/>
<circle cx="542.7" cy="744.5" r="2.3" fill="#D95F02" fill-opacity="0.55" stroke="#D95F02" stroke-opacity="0.35" stroke-width="0.6"/>
<line x1="576.5" y1="743.6" x2="591.5" y2="743.6" stroke="#1B9E77" stroke-width="1.3"/>
<line x1="584" y1="743.6" x2="584" y2="743.6" stroke="#1B9E77" stroke-width="1.3"/>
<line x1="579" y1="743.6" x2="589" y2="743.6" stroke="#1B9E77" stroke-width="1.3"/>
<line x1="579" y1="743.6" x2="589" y2="743.6" stroke="#1B9E77" stroke-width="1.3"/>
<circle cx="577.2" cy="743.6" r="2.3" fill="#1B9E77" fill-opacity="0.55" stroke="#1B9E77" stroke-opacity="0.35" stroke-width="0.6"/>
<circle cx="580.8" cy="743.6" r="2.3" fill="#1B9E77" fill-opacity="0.55" stroke="#1B9E77" stroke-opacity="0.35" stroke-width="0.6"/>
<circle cx="584.4" cy="743.6" r="2.3" fill="#1B9E77" fill-opacity="0.55" stroke="#1B9E77" stroke-opacity="0.35" stroke-width="0.6"/>
<circle cx="588" cy="743.6" r="2.3" fill="#1B9E77" fill-opacity="0.55" stroke="#1B9E77" stroke-opacity="0.35" stroke-width="0.6"/>
<circle cx="591.2" cy="743.6" r="2.3" fill="#1B9E77" fill-opacity="0.55" stroke="#1B9E77" stroke-opacity="0.35" stroke-width="0.6"/>
<line x1="591.3" y1="719.1" x2="606.3" y2="719.1" stroke="#D95F02" stroke-width="1.3"/>
<line x1="598.8" y1="715.5" x2="598.8" y2="722.2" stroke="#D95F02" stroke-width="1.3"/>
<line x1="593.8" y1="715.5" x2="603.8" y2="715.5" stroke="#D95F02" stroke-width="1.3"/>
<line x1="593.8" y1="722.2" x2="603.8" y2="722.2" stroke="#D95F02" stroke-width="1.3"/>
<circle cx="593.3" cy="712.4" r="2.3" fill="#D95F02" fill-opacity="0.55" stroke="#D95F02" stroke-opacity="0.35" stroke-width="0.6"/>
<circle cx="597.7" cy="717.2" r="2.3" fill="#D95F02" fill-opacity="0.55" stroke="#D95F02" stroke-opacity="0.35" stroke-width="0.6"/>
<circle cx="601.3" cy="717.9" r="2.3" fill="#D95F02" fill-opacity="0.55" stroke="#D95F02" stroke-opacity="0.35" stroke-width="0.6"/>
<circle cx="604.9" cy="728" r="2.3" fill="#D95F02" fill-opacity="0.55" stroke="#D95F02" stroke-opacity="0.35" stroke-width="0.6"/>
<line x1="617" y1="711.9" x2="632" y2="711.9" stroke="#1B9E77" stroke-width="1.3"/>
<line x1="624.5" y1="706.4" x2="624.5" y2="717.2" stroke="#1B9E77" stroke-width="1.3"/>
<line x1="619.5" y1="706.4" x2="629.5" y2="706.4" stroke="#1B9E77" stroke-width="1.3"/>
<line x1="619.5" y1="717.2" x2="629.5" y2="717.2" stroke="#1B9E77" stroke-width="1.3"/>
<circle cx="618.6" cy="725.8" r="2.3" fill="#1B9E77" fill-opacity="0.55" stroke="#1B9E77" stroke-opacity="0.35" stroke-width="0.6"/>
<circle cx="622.4" cy="707.6" r="2.3" fill="#1B9E77" fill-opacity="0.55" stroke="#1B9E77" stroke-opacity="0.35" stroke-width="0.6"/>
<circle cx="626.5" cy="714.8" r="2.3" fill="#1B9E77" fill-opacity="0.55" stroke="#1B9E77" stroke-opacity="0.35" stroke-width="0.6"/>
<circle cx="630.1" cy="699.4" r="2.3" fill="#1B9E77" fill-opacity="0.55" stroke="#1B9E77" stroke-opacity="0.35" stroke-width="0.6"/>
<line x1="632.2" y1="703" x2="647.2" y2="703" stroke="#D95F02" stroke-width="1.3"/>
<line x1="639.7" y1="694.3" x2="639.7" y2="712.4" stroke="#D95F02" stroke-width="1.3"/>
<line x1="634.7" y1="694.3" x2="644.7" y2="694.3" stroke="#D95F02" stroke-width="1.3"/>
<line x1="634.7" y1="712.4" x2="644.7" y2="712.4" stroke="#D95F02" stroke-width="1.3"/>
<circle cx="633.7" cy="728" r="2.3" fill="#D95F02" fill-opacity="0.55" stroke="#D95F02" stroke-opacity="0.35" stroke-width="0.6"/>
<circle cx="637.3" cy="695.1" r="2.3" fill="#D95F02" fill-opacity="0.55" stroke="#D95F02" stroke-opacity="0.35" stroke-width="0.6"/>
<circle cx="641.7" cy="703.5" r="2.3" fill="#D95F02" fill-opacity="0.55" stroke="#D95F02" stroke-opacity="0.35" stroke-width="0.6"/>
<circle cx="645.3" cy="686.6" r="2.3" fill="#D95F02" fill-opacity="0.55" stroke="#D95F02" stroke-opacity="0.35" stroke-width="0.6"/>
<line x1="657.2" y1="608" x2="672.2" y2="608" stroke="#1B9E77" stroke-width="1.3"/>
<line x1="664.7" y1="596.7" x2="664.7" y2="619.5" stroke="#1B9E77" stroke-width="1.3"/>
<line x1="659.7" y1="596.7" x2="669.7" y2="596.7" stroke="#1B9E77" stroke-width="1.3"/>
<line x1="659.7" y1="619.5" x2="669.7" y2="619.5" stroke="#1B9E77" stroke-width="1.3"/>
<circle cx="659" cy="618.8" r="2.3" fill="#1B9E77" fill-opacity="0.55" stroke="#1B9E77" stroke-opacity="0.35" stroke-width="0.6"/>
<circle cx="662.8" cy="595.7" r="2.3" fill="#1B9E77" fill-opacity="0.55" stroke="#1B9E77" stroke-opacity="0.35" stroke-width="0.6"/>
<circle cx="666.7" cy="633.7" r="2.3" fill="#1B9E77" fill-opacity="0.55" stroke="#1B9E77" stroke-opacity="0.35" stroke-width="0.6"/>
<circle cx="670.5" cy="584" r="2.3" fill="#1B9E77" fill-opacity="0.55" stroke="#1B9E77" stroke-opacity="0.35" stroke-width="0.6"/>
<line x1="672.5" y1="606.8" x2="687.5" y2="606.8" stroke="#D95F02" stroke-width="1.3"/>
<line x1="680" y1="597.7" x2="680" y2="616.4" stroke="#D95F02" stroke-width="1.3"/>
<line x1="675" y1="597.7" x2="685" y2="597.7" stroke="#D95F02" stroke-width="1.3"/>
<line x1="675" y1="616.4" x2="685" y2="616.4" stroke="#D95F02" stroke-width="1.3"/>
<circle cx="674.1" cy="612.3" r="2.3" fill="#D95F02" fill-opacity="0.55" stroke="#D95F02" stroke-opacity="0.35" stroke-width="0.6"/>
<circle cx="678.2" cy="590.9" r="2.3" fill="#D95F02" fill-opacity="0.55" stroke="#D95F02" stroke-opacity="0.35" stroke-width="0.6"/>
<circle cx="682.1" cy="630.8" r="2.3" fill="#D95F02" fill-opacity="0.55" stroke="#D95F02" stroke-opacity="0.35" stroke-width="0.6"/>
<circle cx="685.9" cy="593.3" r="2.3" fill="#D95F02" fill-opacity="0.55" stroke="#D95F02" stroke-opacity="0.35" stroke-width="0.6"/>
<line x1="444" y1="647.7" x2="496.2" y2="647.7" stroke="#333" stroke-width="1.1"/>
<text x="470.2" y="649" text-anchor="middle" fill="#111" style="font-size:9px;font-family:'Liberation Sans', Arial, sans-serif;">*</text>
<line x1="444" y1="659" x2="479.7" y2="659" stroke="#555" stroke-width="1.4"/>
<text x="461.1" y="660.3" text-anchor="middle" fill="#111" style="font-size:9px;font-family:'Liberation Sans', Arial, sans-serif;">*</text>
<line x1="585.6" y1="578.4" x2="678.7" y2="578.4" stroke="#333" stroke-width="1.1"/>
<text x="632.2" y="579.7" text-anchor="middle" fill="#111" style="font-size:9px;font-family:'Liberation Sans', Arial, sans-serif;">**</text>
<line x1="585.6" y1="590.8" x2="663.8" y2="590.8" stroke="#555" stroke-width="1.4"/>
<text x="624.9" y="592.1" text-anchor="middle" fill="#111" style="font-size:9px;font-family:'Liberation Sans', Arial, sans-serif;">**</text>
<line x1="585.1" y1="673.9" x2="638.5" y2="673.9" stroke="#555" stroke-width="1.4"/>
<text x="611.6" y="675.2" text-anchor="middle" fill="#111" style="font-size:9px;font-family:'Liberation Sans', Arial, sans-serif;">*</text>
<line x1="585.1" y1="687.1" x2="624.1" y2="687.1" stroke="#555" stroke-width="1.4"/>
<text x="604.4" y="688.4" text-anchor="middle" fill="#111" style="font-size:9px;font-family:'Liberation Sans', Arial, sans-serif;">*</text>
<line x1="585.1" y1="699.9" x2="598.9" y2="699.9" stroke="#555" stroke-width="1.4"/>
<text x="592.1" y="701.2" text-anchor="middle" fill="#111" style="font-size:9px;font-family:'Liberation Sans', Arial, sans-serif;">*</text>
<rect x="707.0" y="650.6" width="20.2" height="12.4" fill="none" stroke="#1B9E77" stroke-opacity="0.75" stroke-width="1.1"/>
<line x1="707" y1="656.8" x2="727.2" y2="656.8" stroke="#1B9E77" stroke-width="1.1" stroke-opacity="0.75"/>
<circle cx="717.1" cy="656.8" r="2.2" fill="#1B9E77" fill-opacity="0.7"/>
<text x="736.8" y="661.4" text-anchor="start" fill="#1a1a1a" style="font-size:10.5px;font-family:'Liberation Sans', Arial, sans-serif;">ctrl</text>
<rect x="707.0" y="677.1" width="20.2" height="12.8" fill="none" stroke="#D95F02" stroke-opacity="0.75" stroke-width="1.1"/>
<line x1="707" y1="683.5" x2="727.2" y2="683.5" stroke="#D95F02" stroke-width="1.1" stroke-opacity="0.75"/>
<circle cx="717.1" cy="683.5" r="2.2" fill="#D95F02" fill-opacity="0.7"/>
<text x="736.8" y="687.8" text-anchor="start" fill="#1a1a1a" style="font-size:10.5px;font-family:'Liberation Sans', Arial, sans-serif;">iso</text>
</svg>
</body></html>
